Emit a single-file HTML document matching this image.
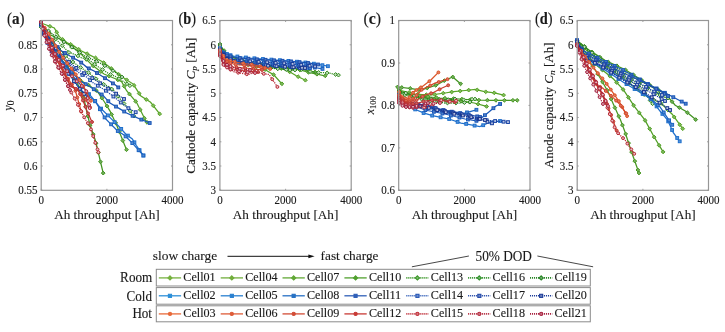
<!DOCTYPE html>
<html><head><meta charset="utf-8"><style>
html,body{margin:0;padding:0;background:#fff;}
body{width:725px;height:332px;overflow:hidden;}
svg{display:block;will-change:transform;}
text{font-family:"Liberation Serif",serif;fill:#1a1a1a;stroke:#1a1a1a;stroke-width:0.12px;}
</style></head><body>
<svg width="725" height="332" viewBox="0 0 725 332">
<rect width="725" height="332" fill="#fff"/>
<polyline points="41.0,23.0 54.3,28.0 59.1,36.4 65.9,42.2 73.0,45.4 80.0,50.2 89.9,55.1 95.7,58.0 104.1,62.8 112.5,69.4 121.6,76.6 133.2,84.1 140.6,95.7 150.6,102.3 159.7,113.9" fill="none" stroke="#58a426" stroke-width="1.25"/>
<path d="M41.0 21.1L42.9 23.0L41.0 24.9L39.1 23.0Z" fill="#81ba5c" stroke="#58a426" stroke-width="1.0"/>
<path d="M49.9 24.4L51.8 26.3L49.9 28.2L48.0 26.3Z" fill="#81ba5c" stroke="#58a426" stroke-width="1.0"/>
<path d="M56.7 30.3L58.6 32.2L56.7 34.1L54.8 32.2Z" fill="#81ba5c" stroke="#58a426" stroke-width="1.0"/>
<path d="M62.6 37.5L64.5 39.4L62.6 41.3L60.7 39.4Z" fill="#81ba5c" stroke="#58a426" stroke-width="1.0"/>
<path d="M70.6 42.4L72.5 44.3L70.6 46.2L68.7 44.3Z" fill="#81ba5c" stroke="#58a426" stroke-width="1.0"/>
<path d="M78.7 47.4L80.6 49.3L78.7 51.2L76.8 49.3Z" fill="#81ba5c" stroke="#58a426" stroke-width="1.0"/>
<path d="M87.1 51.8L89.0 53.7L87.1 55.6L85.2 53.7Z" fill="#81ba5c" stroke="#58a426" stroke-width="1.0"/>
<path d="M95.6 56.0L97.5 57.9L95.6 59.8L93.7 57.9Z" fill="#81ba5c" stroke="#58a426" stroke-width="1.0"/>
<path d="M103.8 60.8L105.7 62.7L103.8 64.6L101.9 62.7Z" fill="#81ba5c" stroke="#58a426" stroke-width="1.0"/>
<path d="M111.3 66.6L113.2 68.5L111.3 70.4L109.4 68.5Z" fill="#81ba5c" stroke="#58a426" stroke-width="1.0"/>
<path d="M118.8 72.5L120.7 74.4L118.8 76.3L116.9 74.4Z" fill="#81ba5c" stroke="#58a426" stroke-width="1.0"/>
<path d="M126.6 77.9L128.5 79.8L126.6 81.7L124.7 79.8Z" fill="#81ba5c" stroke="#58a426" stroke-width="1.0"/>
<path d="M134.1 83.5L136.0 85.4L134.1 87.3L132.2 85.4Z" fill="#81ba5c" stroke="#58a426" stroke-width="1.0"/>
<path d="M139.2 91.6L141.1 93.5L139.2 95.4L137.3 93.5Z" fill="#81ba5c" stroke="#58a426" stroke-width="1.0"/>
<path d="M146.3 97.6L148.2 99.5L146.3 101.4L144.4 99.5Z" fill="#81ba5c" stroke="#58a426" stroke-width="1.0"/>
<path d="M153.3 103.8L155.2 105.7L153.3 107.6L151.4 105.7Z" fill="#81ba5c" stroke="#58a426" stroke-width="1.0"/>
<path d="M159.7 112.0L161.6 113.9L159.7 115.8L157.8 113.9Z" fill="#81ba5c" stroke="#58a426" stroke-width="1.0"/>
<polyline points="41.0,26.0 50.0,35.0 58.0,38.0 70.0,45.0 80.0,53.0 92.0,65.0 104.0,74.0 116.0,79.0 121.6,81.6 126.6,90.7 136.5,102.3 145.6,120.5 147.0,122.3" fill="none" stroke="#509e24" stroke-width="1.25"/>
<path d="M41.0 24.1L42.9 26.0L41.0 27.9L39.1 26.0Z" fill="#7bb65a" stroke="#509e24" stroke-width="1.0"/>
<path d="M47.7 30.8L49.6 32.7L47.7 34.6L45.8 32.7Z" fill="#7bb65a" stroke="#509e24" stroke-width="1.0"/>
<path d="M55.9 35.3L57.8 37.2L55.9 39.1L54.0 37.2Z" fill="#7bb65a" stroke="#509e24" stroke-width="1.0"/>
<path d="M64.2 39.7L66.1 41.6L64.2 43.5L62.3 41.6Z" fill="#7bb65a" stroke="#509e24" stroke-width="1.0"/>
<path d="M72.2 44.9L74.1 46.8L72.2 48.7L70.3 46.8Z" fill="#7bb65a" stroke="#509e24" stroke-width="1.0"/>
<path d="M79.6 50.8L81.5 52.7L79.6 54.6L77.7 52.7Z" fill="#7bb65a" stroke="#509e24" stroke-width="1.0"/>
<path d="M86.4 57.5L88.3 59.4L86.4 61.3L84.5 59.4Z" fill="#7bb65a" stroke="#509e24" stroke-width="1.0"/>
<path d="M93.2 64.0L95.1 65.9L93.2 67.8L91.3 65.9Z" fill="#7bb65a" stroke="#509e24" stroke-width="1.0"/>
<path d="M100.8 69.7L102.7 71.6L100.8 73.5L98.9 71.6Z" fill="#7bb65a" stroke="#509e24" stroke-width="1.0"/>
<path d="M109.1 74.2L111.0 76.1L109.1 78.0L107.2 76.1Z" fill="#7bb65a" stroke="#509e24" stroke-width="1.0"/>
<path d="M117.9 78.0L119.8 79.9L117.9 81.8L116.0 79.9Z" fill="#7bb65a" stroke="#509e24" stroke-width="1.0"/>
<path d="M124.2 84.4L126.1 86.3L124.2 88.2L122.3 86.3Z" fill="#7bb65a" stroke="#509e24" stroke-width="1.0"/>
<path d="M129.5 92.2L131.4 94.1L129.5 96.0L127.6 94.1Z" fill="#7bb65a" stroke="#509e24" stroke-width="1.0"/>
<path d="M135.7 99.5L137.6 101.4L135.7 103.3L133.8 101.4Z" fill="#7bb65a" stroke="#509e24" stroke-width="1.0"/>
<path d="M140.2 107.8L142.1 109.7L140.2 111.6L138.3 109.7Z" fill="#7bb65a" stroke="#509e24" stroke-width="1.0"/>
<path d="M144.4 116.3L146.3 118.2L144.4 120.1L142.5 118.2Z" fill="#7bb65a" stroke="#509e24" stroke-width="1.0"/>
<path d="M147.0 120.4L148.9 122.3L147.0 124.2L145.1 122.3Z" fill="#7bb65a" stroke="#509e24" stroke-width="1.0"/>
<polyline points="41.0,27.0 50.0,42.0 58.0,55.0 68.0,68.0 80.0,80.0 90.0,86.0 97.2,91.2 104.5,102.0 109.9,110.8 116.6,124.9 126.5,149.7" fill="none" stroke="#489822" stroke-width="1.25"/>
<path d="M41.0 25.1L42.9 27.0L41.0 28.9L39.1 27.0Z" fill="#75b159" stroke="#489822" stroke-width="1.0"/>
<path d="M45.9 33.2L47.8 35.1L45.9 37.0L44.0 35.1Z" fill="#75b159" stroke="#489822" stroke-width="1.0"/>
<path d="M50.8 41.4L52.7 43.3L50.8 45.2L48.9 43.3Z" fill="#75b159" stroke="#489822" stroke-width="1.0"/>
<path d="M55.8 49.5L57.7 51.4L55.8 53.3L53.9 51.4Z" fill="#75b159" stroke="#489822" stroke-width="1.0"/>
<path d="M61.2 57.3L63.1 59.2L61.2 61.1L59.3 59.2Z" fill="#75b159" stroke="#489822" stroke-width="1.0"/>
<path d="M67.0 64.8L68.9 66.7L67.0 68.6L65.1 66.7Z" fill="#75b159" stroke="#489822" stroke-width="1.0"/>
<path d="M73.5 71.6L75.4 73.5L73.5 75.4L71.6 73.5Z" fill="#75b159" stroke="#489822" stroke-width="1.0"/>
<path d="M80.3 78.3L82.2 80.2L80.3 82.1L78.4 80.2Z" fill="#75b159" stroke="#489822" stroke-width="1.0"/>
<path d="M88.5 83.2L90.4 85.1L88.5 87.0L86.6 85.1Z" fill="#75b159" stroke="#489822" stroke-width="1.0"/>
<path d="M96.2 88.6L98.1 90.5L96.2 92.4L94.3 90.5Z" fill="#75b159" stroke="#489822" stroke-width="1.0"/>
<path d="M101.9 96.2L103.8 98.1L101.9 100.0L100.0 98.1Z" fill="#75b159" stroke="#489822" stroke-width="1.0"/>
<path d="M107.0 104.2L108.9 106.1L107.0 108.0L105.1 106.1Z" fill="#75b159" stroke="#489822" stroke-width="1.0"/>
<path d="M111.6 112.5L113.5 114.4L111.6 116.3L109.7 114.4Z" fill="#75b159" stroke="#489822" stroke-width="1.0"/>
<path d="M115.7 121.1L117.6 123.0L115.7 124.9L113.8 123.0Z" fill="#75b159" stroke="#489822" stroke-width="1.0"/>
<path d="M119.3 129.8L121.2 131.7L119.3 133.6L117.4 131.7Z" fill="#75b159" stroke="#489822" stroke-width="1.0"/>
<path d="M122.8 138.7L124.7 140.6L122.8 142.5L120.9 140.6Z" fill="#75b159" stroke="#489822" stroke-width="1.0"/>
<path d="M126.5 147.8L128.4 149.7L126.5 151.6L124.6 149.7Z" fill="#75b159" stroke="#489822" stroke-width="1.0"/>
<polyline points="41.0,24.0 48.0,36.0 56.0,48.0 66.5,62.7 70.5,73.6 79.6,87.1 84.1,99.2 86.4,110.0 90.0,125.0 95.5,140.8 103.2,173.1" fill="none" stroke="#409220" stroke-width="1.25"/>
<path d="M41.0 22.1L42.9 24.0L41.0 25.9L39.1 24.0Z" fill="#6fad57" stroke="#409220" stroke-width="1.0"/>
<path d="M45.8 30.3L47.7 32.2L45.8 34.1L43.9 32.2Z" fill="#6fad57" stroke="#409220" stroke-width="1.0"/>
<path d="M50.8 38.3L52.7 40.2L50.8 42.1L48.9 40.2Z" fill="#6fad57" stroke="#409220" stroke-width="1.0"/>
<path d="M56.1 46.3L58.0 48.2L56.1 50.1L54.2 48.2Z" fill="#6fad57" stroke="#409220" stroke-width="1.0"/>
<path d="M61.6 54.0L63.5 55.9L61.6 57.8L59.7 55.9Z" fill="#6fad57" stroke="#409220" stroke-width="1.0"/>
<path d="M66.9 61.9L68.8 63.8L66.9 65.7L65.0 63.8Z" fill="#6fad57" stroke="#409220" stroke-width="1.0"/>
<path d="M70.2 70.8L72.1 72.7L70.2 74.6L68.3 72.7Z" fill="#6fad57" stroke="#409220" stroke-width="1.0"/>
<path d="M75.3 78.8L77.2 80.7L75.3 82.6L73.4 80.7Z" fill="#6fad57" stroke="#409220" stroke-width="1.0"/>
<path d="M80.2 86.8L82.1 88.7L80.2 90.6L78.3 88.7Z" fill="#6fad57" stroke="#409220" stroke-width="1.0"/>
<path d="M83.5 95.7L85.4 97.6L83.5 99.5L81.6 97.6Z" fill="#6fad57" stroke="#409220" stroke-width="1.0"/>
<path d="M85.7 104.9L87.6 106.8L85.7 108.7L83.8 106.8Z" fill="#6fad57" stroke="#409220" stroke-width="1.0"/>
<path d="M87.9 114.2L89.8 116.1L87.9 118.0L86.0 116.1Z" fill="#6fad57" stroke="#409220" stroke-width="1.0"/>
<path d="M90.1 123.4L92.0 125.3L90.1 127.2L88.2 125.3Z" fill="#6fad57" stroke="#409220" stroke-width="1.0"/>
<path d="M93.2 132.4L95.1 134.3L93.2 136.2L91.3 134.3Z" fill="#6fad57" stroke="#409220" stroke-width="1.0"/>
<path d="M96.1 141.4L98.0 143.3L96.1 145.2L94.2 143.3Z" fill="#6fad57" stroke="#409220" stroke-width="1.0"/>
<path d="M98.3 150.7L100.2 152.6L98.3 154.5L96.4 152.6Z" fill="#6fad57" stroke="#409220" stroke-width="1.0"/>
<path d="M100.5 159.9L102.4 161.8L100.5 163.7L98.6 161.8Z" fill="#6fad57" stroke="#409220" stroke-width="1.0"/>
<path d="M103.2 171.2L105.1 173.1L103.2 175.0L101.3 173.1Z" fill="#6fad57" stroke="#409220" stroke-width="1.0"/>
<polyline points="41.0,27.0 51.0,34.0 63.5,47.0 69.0,52.4 76.2,55.0 81.6,57.8 89.0,59.8 95.7,65.2 102.3,69.4 108.9,73.7 115.8,76.6 129.9,85.7" fill="none" stroke="#328c1e" stroke-width="1.25" stroke-dasharray="1.2 1"/>
<path d="M41.0 25.1L42.9 27.0L41.0 28.9L39.1 27.0Z" fill="#c1dcbb" stroke="#328c1e" stroke-width="1.0"/>
<path d="M48.8 30.5L50.7 32.4L48.8 34.3L46.9 32.4Z" fill="#c1dcbb" stroke="#328c1e" stroke-width="1.0"/>
<path d="M55.7 37.0L57.6 38.9L55.7 40.8L53.8 38.9Z" fill="#c1dcbb" stroke="#328c1e" stroke-width="1.0"/>
<path d="M62.3 43.8L64.2 45.7L62.3 47.6L60.4 45.7Z" fill="#c1dcbb" stroke="#328c1e" stroke-width="1.0"/>
<path d="M69.0 50.5L70.9 52.4L69.0 54.3L67.1 52.4Z" fill="#c1dcbb" stroke="#328c1e" stroke-width="1.0"/>
<path d="M77.9 54.0L79.8 55.9L77.9 57.8L76.0 55.9Z" fill="#c1dcbb" stroke="#328c1e" stroke-width="1.0"/>
<path d="M86.7 57.3L88.6 59.2L86.7 61.1L84.8 59.2Z" fill="#c1dcbb" stroke="#328c1e" stroke-width="1.0"/>
<path d="M94.6 62.4L96.5 64.3L94.6 66.2L92.7 64.3Z" fill="#c1dcbb" stroke="#328c1e" stroke-width="1.0"/>
<path d="M102.5 67.6L104.4 69.5L102.5 71.4L100.6 69.5Z" fill="#c1dcbb" stroke="#328c1e" stroke-width="1.0"/>
<path d="M110.6 72.5L112.5 74.4L110.6 76.3L108.7 74.4Z" fill="#c1dcbb" stroke="#328c1e" stroke-width="1.0"/>
<path d="M119.0 76.8L120.9 78.7L119.0 80.6L117.1 78.7Z" fill="#c1dcbb" stroke="#328c1e" stroke-width="1.0"/>
<path d="M127.0 81.9L128.9 83.8L127.0 85.7L125.1 83.8Z" fill="#c1dcbb" stroke="#328c1e" stroke-width="1.0"/>
<path d="M129.9 83.8L131.8 85.7L129.9 87.6L128.0 85.7Z" fill="#c1dcbb" stroke="#328c1e" stroke-width="1.0"/>
<polyline points="41.0,27.0 50.0,38.0 60.0,50.0 70.0,60.0 80.0,67.0 88.4,72.5 95.7,78.5 102.9,83.9 108.9,86.9 113.7,90.5 116.6,94.8 122.4,101.5 129.9,110.6 133.9,116.1" fill="none" stroke="#2a841e" stroke-width="1.25" stroke-dasharray="1.2 1"/>
<path d="M41.0 25.1L42.9 27.0L41.0 28.9L39.1 27.0Z" fill="#bfdabb" stroke="#2a841e" stroke-width="1.0"/>
<path d="M47.0 32.5L48.9 34.4L47.0 36.3L45.1 34.4Z" fill="#bfdabb" stroke="#2a841e" stroke-width="1.0"/>
<path d="M53.1 39.8L55.0 41.7L53.1 43.6L51.2 41.7Z" fill="#bfdabb" stroke="#2a841e" stroke-width="1.0"/>
<path d="M59.1 47.1L61.0 49.0L59.1 50.9L57.2 49.0Z" fill="#bfdabb" stroke="#2a841e" stroke-width="1.0"/>
<path d="M65.8 53.9L67.7 55.8L65.8 57.7L63.9 55.8Z" fill="#bfdabb" stroke="#2a841e" stroke-width="1.0"/>
<path d="M72.9 60.1L74.8 62.0L72.9 63.9L71.0 62.0Z" fill="#bfdabb" stroke="#2a841e" stroke-width="1.0"/>
<path d="M80.7 65.5L82.6 67.4L80.7 69.3L78.8 67.4Z" fill="#bfdabb" stroke="#2a841e" stroke-width="1.0"/>
<path d="M88.6 70.8L90.5 72.7L88.6 74.6L86.7 72.7Z" fill="#bfdabb" stroke="#2a841e" stroke-width="1.0"/>
<path d="M96.0 76.8L97.9 78.7L96.0 80.6L94.1 78.7Z" fill="#bfdabb" stroke="#2a841e" stroke-width="1.0"/>
<path d="M103.6 82.4L105.5 84.3L103.6 86.2L101.7 84.3Z" fill="#bfdabb" stroke="#2a841e" stroke-width="1.0"/>
<path d="M111.8 87.2L113.7 89.1L111.8 91.0L109.9 89.1Z" fill="#bfdabb" stroke="#2a841e" stroke-width="1.0"/>
<path d="M117.9 94.4L119.8 96.3L117.9 98.2L116.0 96.3Z" fill="#bfdabb" stroke="#2a841e" stroke-width="1.0"/>
<path d="M124.0 101.6L125.9 103.5L124.0 105.4L122.1 103.5Z" fill="#bfdabb" stroke="#2a841e" stroke-width="1.0"/>
<path d="M130.1 108.9L132.0 110.8L130.1 112.7L128.2 110.8Z" fill="#bfdabb" stroke="#2a841e" stroke-width="1.0"/>
<path d="M133.9 114.2L135.8 116.1L133.9 118.0L132.0 116.1Z" fill="#bfdabb" stroke="#2a841e" stroke-width="1.0"/>
<polyline points="41.0,25.0 55.0,36.0 70.0,46.0 85.0,56.0 100.0,63.0 112.0,70.0 122.0,77.0" fill="none" stroke="#247c1c" stroke-width="1.25" stroke-dasharray="1.2 1"/>
<path d="M41.0 23.1L42.9 25.0L41.0 26.9L39.1 25.0Z" fill="#bdd7ba" stroke="#247c1c" stroke-width="1.0"/>
<path d="M48.5 29.0L50.4 30.9L48.5 32.8L46.6 30.9Z" fill="#bdd7ba" stroke="#247c1c" stroke-width="1.0"/>
<path d="M56.0 34.8L57.9 36.7L56.0 38.6L54.1 36.7Z" fill="#bdd7ba" stroke="#247c1c" stroke-width="1.0"/>
<path d="M63.9 40.0L65.8 41.9L63.9 43.8L62.0 41.9Z" fill="#bdd7ba" stroke="#247c1c" stroke-width="1.0"/>
<path d="M71.8 45.3L73.7 47.2L71.8 49.1L69.9 47.2Z" fill="#bdd7ba" stroke="#247c1c" stroke-width="1.0"/>
<path d="M79.7 50.6L81.6 52.5L79.7 54.4L77.8 52.5Z" fill="#bdd7ba" stroke="#247c1c" stroke-width="1.0"/>
<path d="M87.8 55.4L89.7 57.3L87.8 59.2L85.9 57.3Z" fill="#bdd7ba" stroke="#247c1c" stroke-width="1.0"/>
<path d="M96.5 59.4L98.4 61.3L96.5 63.2L94.6 61.3Z" fill="#bdd7ba" stroke="#247c1c" stroke-width="1.0"/>
<path d="M104.8 63.9L106.7 65.8L104.8 67.7L102.9 65.8Z" fill="#bdd7ba" stroke="#247c1c" stroke-width="1.0"/>
<path d="M113.0 68.8L114.9 70.7L113.0 72.6L111.1 70.7Z" fill="#bdd7ba" stroke="#247c1c" stroke-width="1.0"/>
<path d="M122.0 75.1L123.9 77.0L122.0 78.9L120.1 77.0Z" fill="#bdd7ba" stroke="#247c1c" stroke-width="1.0"/>
<polyline points="41.0,24.0 47.0,38.0 55.0,52.0 62.0,62.0 72.0,75.0 82.6,87.1 91.6,96.9 100.0,107.5 111.6,119.1 119.0,126.5 125.7,134.0 132.3,138.9 136.4,145.6 143.4,155.5" fill="none" stroke="#1f70cc" stroke-width="1.25"/>
<rect x="39.6" y="22.6" width="2.8" height="2.8" fill="#5793d8" stroke="#1f70cc" stroke-width="1.0"/>
<rect x="43.3" y="31.3" width="2.8" height="2.8" fill="#5793d8" stroke="#1f70cc" stroke-width="1.0"/>
<rect x="47.5" y="39.9" width="2.8" height="2.8" fill="#5793d8" stroke="#1f70cc" stroke-width="1.0"/>
<rect x="52.2" y="48.1" width="2.8" height="2.8" fill="#5793d8" stroke="#1f70cc" stroke-width="1.0"/>
<rect x="57.4" y="56.0" width="2.8" height="2.8" fill="#5793d8" stroke="#1f70cc" stroke-width="1.0"/>
<rect x="63.0" y="63.7" width="2.8" height="2.8" fill="#5793d8" stroke="#1f70cc" stroke-width="1.0"/>
<rect x="68.8" y="71.3" width="2.8" height="2.8" fill="#5793d8" stroke="#1f70cc" stroke-width="1.0"/>
<rect x="74.9" y="78.5" width="2.8" height="2.8" fill="#5793d8" stroke="#1f70cc" stroke-width="1.0"/>
<rect x="81.2" y="85.7" width="2.8" height="2.8" fill="#5793d8" stroke="#1f70cc" stroke-width="1.0"/>
<rect x="87.6" y="92.7" width="2.8" height="2.8" fill="#5793d8" stroke="#1f70cc" stroke-width="1.0"/>
<rect x="93.7" y="99.9" width="2.8" height="2.8" fill="#5793d8" stroke="#1f70cc" stroke-width="1.0"/>
<rect x="99.7" y="107.2" width="2.8" height="2.8" fill="#5793d8" stroke="#1f70cc" stroke-width="1.0"/>
<rect x="106.5" y="114.0" width="2.8" height="2.8" fill="#5793d8" stroke="#1f70cc" stroke-width="1.0"/>
<rect x="113.2" y="120.7" width="2.8" height="2.8" fill="#5793d8" stroke="#1f70cc" stroke-width="1.0"/>
<rect x="119.8" y="127.5" width="2.8" height="2.8" fill="#5793d8" stroke="#1f70cc" stroke-width="1.0"/>
<rect x="126.5" y="134.2" width="2.8" height="2.8" fill="#5793d8" stroke="#1f70cc" stroke-width="1.0"/>
<rect x="133.0" y="140.9" width="2.8" height="2.8" fill="#5793d8" stroke="#1f70cc" stroke-width="1.0"/>
<rect x="138.2" y="148.8" width="2.8" height="2.8" fill="#5793d8" stroke="#1f70cc" stroke-width="1.0"/>
<rect x="142.0" y="154.1" width="2.8" height="2.8" fill="#5793d8" stroke="#1f70cc" stroke-width="1.0"/>
<polyline points="41.0,25.0 46.0,40.0 52.0,52.0 60.0,62.0 70.0,75.0 80.7,90.0 95.1,100.8 105.0,118.2 117.4,130.7 124.8,135.6 132.3,143.1 139.7,151.4 143.4,155.5" fill="none" stroke="#1c64c2" stroke-width="1.25"/>
<rect x="39.6" y="23.6" width="2.8" height="2.8" fill="#548ad1" stroke="#1c64c2" stroke-width="1.0"/>
<rect x="42.6" y="32.6" width="2.8" height="2.8" fill="#548ad1" stroke="#1c64c2" stroke-width="1.0"/>
<rect x="46.0" y="41.5" width="2.8" height="2.8" fill="#548ad1" stroke="#1c64c2" stroke-width="1.0"/>
<rect x="50.3" y="49.9" width="2.8" height="2.8" fill="#548ad1" stroke="#1c64c2" stroke-width="1.0"/>
<rect x="56.1" y="57.4" width="2.8" height="2.8" fill="#548ad1" stroke="#1c64c2" stroke-width="1.0"/>
<rect x="61.9" y="64.9" width="2.8" height="2.8" fill="#548ad1" stroke="#1c64c2" stroke-width="1.0"/>
<rect x="67.7" y="72.5" width="2.8" height="2.8" fill="#548ad1" stroke="#1c64c2" stroke-width="1.0"/>
<rect x="73.3" y="80.2" width="2.8" height="2.8" fill="#548ad1" stroke="#1c64c2" stroke-width="1.0"/>
<rect x="78.8" y="87.9" width="2.8" height="2.8" fill="#548ad1" stroke="#1c64c2" stroke-width="1.0"/>
<rect x="86.2" y="93.8" width="2.8" height="2.8" fill="#548ad1" stroke="#1c64c2" stroke-width="1.0"/>
<rect x="93.8" y="99.5" width="2.8" height="2.8" fill="#548ad1" stroke="#1c64c2" stroke-width="1.0"/>
<rect x="98.5" y="107.8" width="2.8" height="2.8" fill="#548ad1" stroke="#1c64c2" stroke-width="1.0"/>
<rect x="103.2" y="116.0" width="2.8" height="2.8" fill="#548ad1" stroke="#1c64c2" stroke-width="1.0"/>
<rect x="109.7" y="122.9" width="2.8" height="2.8" fill="#548ad1" stroke="#1c64c2" stroke-width="1.0"/>
<rect x="116.4" y="129.6" width="2.8" height="2.8" fill="#548ad1" stroke="#1c64c2" stroke-width="1.0"/>
<rect x="124.2" y="135.0" width="2.8" height="2.8" fill="#548ad1" stroke="#1c64c2" stroke-width="1.0"/>
<rect x="130.9" y="141.7" width="2.8" height="2.8" fill="#548ad1" stroke="#1c64c2" stroke-width="1.0"/>
<rect x="137.2" y="148.8" width="2.8" height="2.8" fill="#548ad1" stroke="#1c64c2" stroke-width="1.0"/>
<rect x="142.0" y="154.1" width="2.8" height="2.8" fill="#548ad1" stroke="#1c64c2" stroke-width="1.0"/>
<polyline points="41.0,24.0 50.0,42.0 60.0,58.0 70.0,70.0 80.0,80.9 88.4,85.7 95.7,90.5 102.9,95.3 110.0,103.1 119.9,108.9 126.6,113.0 134.0,116.4 141.5,119.7 149.7,123.0" fill="none" stroke="#1a58b8" stroke-width="1.25"/>
<rect x="39.6" y="22.6" width="2.8" height="2.8" fill="#5381c9" stroke="#1a58b8" stroke-width="1.0"/>
<rect x="43.8" y="31.1" width="2.8" height="2.8" fill="#5381c9" stroke="#1a58b8" stroke-width="1.0"/>
<rect x="48.1" y="39.6" width="2.8" height="2.8" fill="#5381c9" stroke="#1a58b8" stroke-width="1.0"/>
<rect x="53.0" y="47.7" width="2.8" height="2.8" fill="#5381c9" stroke="#1a58b8" stroke-width="1.0"/>
<rect x="58.1" y="55.8" width="2.8" height="2.8" fill="#5381c9" stroke="#1a58b8" stroke-width="1.0"/>
<rect x="64.0" y="63.1" width="2.8" height="2.8" fill="#5381c9" stroke="#1a58b8" stroke-width="1.0"/>
<rect x="70.2" y="70.4" width="2.8" height="2.8" fill="#5381c9" stroke="#1a58b8" stroke-width="1.0"/>
<rect x="76.6" y="77.4" width="2.8" height="2.8" fill="#5381c9" stroke="#1a58b8" stroke-width="1.0"/>
<rect x="84.3" y="82.8" width="2.8" height="2.8" fill="#5381c9" stroke="#1a58b8" stroke-width="1.0"/>
<rect x="92.4" y="87.8" width="2.8" height="2.8" fill="#5381c9" stroke="#1a58b8" stroke-width="1.0"/>
<rect x="100.3" y="93.1" width="2.8" height="2.8" fill="#5381c9" stroke="#1a58b8" stroke-width="1.0"/>
<rect x="106.9" y="99.8" width="2.8" height="2.8" fill="#5381c9" stroke="#1a58b8" stroke-width="1.0"/>
<rect x="114.6" y="105.2" width="2.8" height="2.8" fill="#5381c9" stroke="#1a58b8" stroke-width="1.0"/>
<rect x="122.8" y="110.1" width="2.8" height="2.8" fill="#5381c9" stroke="#1a58b8" stroke-width="1.0"/>
<rect x="131.2" y="114.4" width="2.8" height="2.8" fill="#5381c9" stroke="#1a58b8" stroke-width="1.0"/>
<rect x="139.9" y="118.2" width="2.8" height="2.8" fill="#5381c9" stroke="#1a58b8" stroke-width="1.0"/>
<rect x="148.3" y="121.6" width="2.8" height="2.8" fill="#5381c9" stroke="#1a58b8" stroke-width="1.0"/>
<polyline points="41.0,24.0 50.0,38.0 60.0,50.0 70.0,56.0 80.0,61.6 87.2,67.6 94.5,71.3 101.7,76.1 108.3,80.3 115.5,85.1 118.3,87.4" fill="none" stroke="#1a4eae" stroke-width="1.25"/>
<rect x="39.6" y="22.6" width="2.8" height="2.8" fill="#537ac2" stroke="#1a4eae" stroke-width="1.0"/>
<rect x="44.7" y="30.6" width="2.8" height="2.8" fill="#537ac2" stroke="#1a4eae" stroke-width="1.0"/>
<rect x="50.1" y="38.4" width="2.8" height="2.8" fill="#537ac2" stroke="#1a4eae" stroke-width="1.0"/>
<rect x="56.2" y="45.7" width="2.8" height="2.8" fill="#537ac2" stroke="#1a4eae" stroke-width="1.0"/>
<rect x="63.5" y="51.6" width="2.8" height="2.8" fill="#537ac2" stroke="#1a4eae" stroke-width="1.0"/>
<rect x="71.7" y="56.3" width="2.8" height="2.8" fill="#537ac2" stroke="#1a4eae" stroke-width="1.0"/>
<rect x="79.8" y="61.2" width="2.8" height="2.8" fill="#537ac2" stroke="#1a4eae" stroke-width="1.0"/>
<rect x="87.4" y="67.0" width="2.8" height="2.8" fill="#537ac2" stroke="#1a4eae" stroke-width="1.0"/>
<rect x="95.6" y="71.6" width="2.8" height="2.8" fill="#537ac2" stroke="#1a4eae" stroke-width="1.0"/>
<rect x="103.6" y="76.8" width="2.8" height="2.8" fill="#537ac2" stroke="#1a4eae" stroke-width="1.0"/>
<rect x="111.5" y="82.0" width="2.8" height="2.8" fill="#537ac2" stroke="#1a4eae" stroke-width="1.0"/>
<rect x="116.9" y="86.0" width="2.8" height="2.8" fill="#537ac2" stroke="#1a4eae" stroke-width="1.0"/>
<polyline points="41.0,24.0 50.0,40.0 60.0,55.0 70.0,65.0 80.0,73.7 87.2,77.3 92.0,82.1 106.5,91.1 114.0,97.0 121.6,103.1 128.2,108.1 135.7,112.2" fill="none" stroke="#1c46a6" stroke-width="1.25" stroke-dasharray="1.2 1"/>
<rect x="39.6" y="22.6" width="2.8" height="2.8" fill="#bac7e4" stroke="#1c46a6" stroke-width="1.0"/>
<rect x="44.3" y="30.9" width="2.8" height="2.8" fill="#bac7e4" stroke="#1c46a6" stroke-width="1.0"/>
<rect x="49.0" y="39.1" width="2.8" height="2.8" fill="#bac7e4" stroke="#1c46a6" stroke-width="1.0"/>
<rect x="54.2" y="47.0" width="2.8" height="2.8" fill="#bac7e4" stroke="#1c46a6" stroke-width="1.0"/>
<rect x="59.7" y="54.7" width="2.8" height="2.8" fill="#bac7e4" stroke="#1c46a6" stroke-width="1.0"/>
<rect x="66.5" y="61.5" width="2.8" height="2.8" fill="#bac7e4" stroke="#1c46a6" stroke-width="1.0"/>
<rect x="73.5" y="67.8" width="2.8" height="2.8" fill="#bac7e4" stroke="#1c46a6" stroke-width="1.0"/>
<rect x="81.0" y="73.5" width="2.8" height="2.8" fill="#bac7e4" stroke="#1c46a6" stroke-width="1.0"/>
<rect x="88.7" y="78.8" width="2.8" height="2.8" fill="#bac7e4" stroke="#1c46a6" stroke-width="1.0"/>
<rect x="96.4" y="84.3" width="2.8" height="2.8" fill="#bac7e4" stroke="#1c46a6" stroke-width="1.0"/>
<rect x="104.5" y="89.3" width="2.8" height="2.8" fill="#bac7e4" stroke="#1c46a6" stroke-width="1.0"/>
<rect x="112.0" y="95.1" width="2.8" height="2.8" fill="#bac7e4" stroke="#1c46a6" stroke-width="1.0"/>
<rect x="119.4" y="101.1" width="2.8" height="2.8" fill="#bac7e4" stroke="#1c46a6" stroke-width="1.0"/>
<rect x="127.0" y="106.8" width="2.8" height="2.8" fill="#bac7e4" stroke="#1c46a6" stroke-width="1.0"/>
<rect x="134.3" y="110.8" width="2.8" height="2.8" fill="#bac7e4" stroke="#1c46a6" stroke-width="1.0"/>
<polyline points="41.0,24.0 50.0,40.0 60.0,54.0 70.0,63.0 79.6,70.5 90.1,76.6 99.2,82.6 108.2,88.6 115.0,93.0 124.0,99.0" fill="none" stroke="#1a3e9c" stroke-width="1.25" stroke-dasharray="1.2 1"/>
<rect x="39.6" y="22.6" width="2.8" height="2.8" fill="#bac5e1" stroke="#1a3e9c" stroke-width="1.0"/>
<rect x="44.3" y="30.9" width="2.8" height="2.8" fill="#bac5e1" stroke="#1a3e9c" stroke-width="1.0"/>
<rect x="49.0" y="39.1" width="2.8" height="2.8" fill="#bac5e1" stroke="#1a3e9c" stroke-width="1.0"/>
<rect x="54.5" y="46.9" width="2.8" height="2.8" fill="#bac5e1" stroke="#1a3e9c" stroke-width="1.0"/>
<rect x="60.4" y="54.2" width="2.8" height="2.8" fill="#bac5e1" stroke="#1a3e9c" stroke-width="1.0"/>
<rect x="67.5" y="60.6" width="2.8" height="2.8" fill="#bac5e1" stroke="#1a3e9c" stroke-width="1.0"/>
<rect x="74.9" y="66.5" width="2.8" height="2.8" fill="#bac5e1" stroke="#1a3e9c" stroke-width="1.0"/>
<rect x="82.8" y="71.8" width="2.8" height="2.8" fill="#bac5e1" stroke="#1a3e9c" stroke-width="1.0"/>
<rect x="90.9" y="76.7" width="2.8" height="2.8" fill="#bac5e1" stroke="#1a3e9c" stroke-width="1.0"/>
<rect x="98.8" y="81.9" width="2.8" height="2.8" fill="#bac5e1" stroke="#1a3e9c" stroke-width="1.0"/>
<rect x="106.8" y="87.2" width="2.8" height="2.8" fill="#bac5e1" stroke="#1a3e9c" stroke-width="1.0"/>
<rect x="114.7" y="92.3" width="2.8" height="2.8" fill="#bac5e1" stroke="#1a3e9c" stroke-width="1.0"/>
<rect x="122.6" y="97.6" width="2.8" height="2.8" fill="#bac5e1" stroke="#1a3e9c" stroke-width="1.0"/>
<polyline points="41.0,24.0 46.0,38.0 52.0,50.0 60.0,62.0 68.0,73.0 76.0,84.0 84.0,94.0" fill="none" stroke="#193690" stroke-width="1.25" stroke-dasharray="1.2 1"/>
<rect x="39.6" y="22.6" width="2.8" height="2.8" fill="#bac2dd" stroke="#193690" stroke-width="1.0"/>
<rect x="42.8" y="31.5" width="2.8" height="2.8" fill="#bac2dd" stroke="#193690" stroke-width="1.0"/>
<rect x="46.4" y="40.3" width="2.8" height="2.8" fill="#bac2dd" stroke="#193690" stroke-width="1.0"/>
<rect x="50.7" y="48.8" width="2.8" height="2.8" fill="#bac2dd" stroke="#193690" stroke-width="1.0"/>
<rect x="56.0" y="56.7" width="2.8" height="2.8" fill="#bac2dd" stroke="#193690" stroke-width="1.0"/>
<rect x="61.4" y="64.5" width="2.8" height="2.8" fill="#bac2dd" stroke="#193690" stroke-width="1.0"/>
<rect x="67.0" y="72.2" width="2.8" height="2.8" fill="#bac2dd" stroke="#193690" stroke-width="1.0"/>
<rect x="72.6" y="79.8" width="2.8" height="2.8" fill="#bac2dd" stroke="#193690" stroke-width="1.0"/>
<rect x="78.4" y="87.4" width="2.8" height="2.8" fill="#bac2dd" stroke="#193690" stroke-width="1.0"/>
<rect x="82.6" y="92.6" width="2.8" height="2.8" fill="#bac2dd" stroke="#193690" stroke-width="1.0"/>
<polyline points="41.0,22.0 50.0,36.0 58.0,50.0 64.5,60.0 74.3,72.0 83.3,86.4 90.9,100.8" fill="none" stroke="#dc5428" stroke-width="1.25"/>
<circle cx="41.0" cy="22.0" r="1.45" fill="#e47e5d" stroke="#dc5428" stroke-width="1.0"/>
<circle cx="44.8" cy="27.9" r="1.45" fill="#e47e5d" stroke="#dc5428" stroke-width="1.0"/>
<circle cx="48.6" cy="33.8" r="1.45" fill="#e47e5d" stroke="#dc5428" stroke-width="1.0"/>
<circle cx="52.2" cy="39.8" r="1.45" fill="#e47e5d" stroke="#dc5428" stroke-width="1.0"/>
<circle cx="55.6" cy="45.9" r="1.45" fill="#e47e5d" stroke="#dc5428" stroke-width="1.0"/>
<circle cx="59.2" cy="51.9" r="1.45" fill="#e47e5d" stroke="#dc5428" stroke-width="1.0"/>
<circle cx="63.0" cy="57.7" r="1.45" fill="#e47e5d" stroke="#dc5428" stroke-width="1.0"/>
<circle cx="67.2" cy="63.3" r="1.45" fill="#e47e5d" stroke="#dc5428" stroke-width="1.0"/>
<circle cx="71.7" cy="68.8" r="1.45" fill="#e47e5d" stroke="#dc5428" stroke-width="1.0"/>
<circle cx="75.8" cy="74.4" r="1.45" fill="#e47e5d" stroke="#dc5428" stroke-width="1.0"/>
<circle cx="79.5" cy="80.3" r="1.45" fill="#e47e5d" stroke="#dc5428" stroke-width="1.0"/>
<circle cx="83.2" cy="86.3" r="1.45" fill="#e47e5d" stroke="#dc5428" stroke-width="1.0"/>
<circle cx="86.5" cy="92.4" r="1.45" fill="#e47e5d" stroke="#dc5428" stroke-width="1.0"/>
<circle cx="90.9" cy="100.8" r="1.45" fill="#e47e5d" stroke="#dc5428" stroke-width="1.0"/>
<polyline points="41.0,22.0 47.0,38.0 55.0,55.0 64.0,72.0 75.2,90.0 81.3,111.7" fill="none" stroke="#d4482a" stroke-width="1.25"/>
<circle cx="41.0" cy="22.0" r="1.45" fill="#de755f" stroke="#d4482a" stroke-width="1.0"/>
<circle cx="43.5" cy="28.6" r="1.45" fill="#de755f" stroke="#d4482a" stroke-width="1.0"/>
<circle cx="45.9" cy="35.1" r="1.45" fill="#de755f" stroke="#d4482a" stroke-width="1.0"/>
<circle cx="48.7" cy="41.5" r="1.45" fill="#de755f" stroke="#d4482a" stroke-width="1.0"/>
<circle cx="51.6" cy="47.9" r="1.45" fill="#de755f" stroke="#d4482a" stroke-width="1.0"/>
<circle cx="54.6" cy="54.2" r="1.45" fill="#de755f" stroke="#d4482a" stroke-width="1.0"/>
<circle cx="57.9" cy="60.4" r="1.45" fill="#de755f" stroke="#d4482a" stroke-width="1.0"/>
<circle cx="61.1" cy="66.6" r="1.45" fill="#de755f" stroke="#d4482a" stroke-width="1.0"/>
<circle cx="64.5" cy="72.8" r="1.45" fill="#de755f" stroke="#d4482a" stroke-width="1.0"/>
<circle cx="68.2" cy="78.7" r="1.45" fill="#de755f" stroke="#d4482a" stroke-width="1.0"/>
<circle cx="71.9" cy="84.6" r="1.45" fill="#de755f" stroke="#d4482a" stroke-width="1.0"/>
<circle cx="75.4" cy="90.7" r="1.45" fill="#de755f" stroke="#d4482a" stroke-width="1.0"/>
<circle cx="77.3" cy="97.4" r="1.45" fill="#de755f" stroke="#d4482a" stroke-width="1.0"/>
<circle cx="79.2" cy="104.1" r="1.45" fill="#de755f" stroke="#d4482a" stroke-width="1.0"/>
<circle cx="81.3" cy="111.7" r="1.45" fill="#de755f" stroke="#d4482a" stroke-width="1.0"/>
<polyline points="41.0,22.0 47.0,37.0 53.0,50.0 60.0,62.0 69.0,82.6 78.1,90.9 85.6,99.2 90.1,107.4" fill="none" stroke="#c83c2c" stroke-width="1.25"/>
<circle cx="41.0" cy="22.0" r="1.45" fill="#d56c60" stroke="#c83c2c" stroke-width="1.0"/>
<circle cx="43.6" cy="28.5" r="1.45" fill="#d56c60" stroke="#c83c2c" stroke-width="1.0"/>
<circle cx="46.2" cy="35.0" r="1.45" fill="#d56c60" stroke="#c83c2c" stroke-width="1.0"/>
<circle cx="49.0" cy="41.4" r="1.45" fill="#d56c60" stroke="#c83c2c" stroke-width="1.0"/>
<circle cx="52.0" cy="47.8" r="1.45" fill="#d56c60" stroke="#c83c2c" stroke-width="1.0"/>
<circle cx="55.3" cy="53.9" r="1.45" fill="#d56c60" stroke="#c83c2c" stroke-width="1.0"/>
<circle cx="58.8" cy="60.0" r="1.45" fill="#d56c60" stroke="#c83c2c" stroke-width="1.0"/>
<circle cx="61.9" cy="66.2" r="1.45" fill="#d56c60" stroke="#c83c2c" stroke-width="1.0"/>
<circle cx="64.7" cy="72.7" r="1.45" fill="#d56c60" stroke="#c83c2c" stroke-width="1.0"/>
<circle cx="67.5" cy="79.1" r="1.45" fill="#d56c60" stroke="#c83c2c" stroke-width="1.0"/>
<circle cx="71.3" cy="84.7" r="1.45" fill="#d56c60" stroke="#c83c2c" stroke-width="1.0"/>
<circle cx="76.5" cy="89.4" r="1.45" fill="#d56c60" stroke="#c83c2c" stroke-width="1.0"/>
<circle cx="81.3" cy="94.5" r="1.45" fill="#d56c60" stroke="#c83c2c" stroke-width="1.0"/>
<circle cx="85.9" cy="99.8" r="1.45" fill="#d56c60" stroke="#c83c2c" stroke-width="1.0"/>
<circle cx="90.1" cy="107.4" r="1.45" fill="#d56c60" stroke="#c83c2c" stroke-width="1.0"/>
<polyline points="41.0,22.0 46.0,36.0 52.0,52.0 60.0,66.0 70.5,86.4 78.3,90.0 83.1,100.8 87.3,111.7 92.0,122.0" fill="none" stroke="#bc302e" stroke-width="1.25"/>
<circle cx="41.0" cy="22.0" r="1.45" fill="#cc6362" stroke="#bc302e" stroke-width="1.0"/>
<circle cx="43.4" cy="28.6" r="1.45" fill="#cc6362" stroke="#bc302e" stroke-width="1.0"/>
<circle cx="45.7" cy="35.2" r="1.45" fill="#cc6362" stroke="#bc302e" stroke-width="1.0"/>
<circle cx="48.2" cy="41.7" r="1.45" fill="#cc6362" stroke="#bc302e" stroke-width="1.0"/>
<circle cx="50.6" cy="48.3" r="1.45" fill="#cc6362" stroke="#bc302e" stroke-width="1.0"/>
<circle cx="53.5" cy="54.6" r="1.45" fill="#cc6362" stroke="#bc302e" stroke-width="1.0"/>
<circle cx="57.0" cy="60.7" r="1.45" fill="#cc6362" stroke="#bc302e" stroke-width="1.0"/>
<circle cx="60.4" cy="66.8" r="1.45" fill="#cc6362" stroke="#bc302e" stroke-width="1.0"/>
<circle cx="63.6" cy="73.0" r="1.45" fill="#cc6362" stroke="#bc302e" stroke-width="1.0"/>
<circle cx="66.8" cy="79.3" r="1.45" fill="#cc6362" stroke="#bc302e" stroke-width="1.0"/>
<circle cx="70.0" cy="85.5" r="1.45" fill="#cc6362" stroke="#bc302e" stroke-width="1.0"/>
<circle cx="75.9" cy="88.9" r="1.45" fill="#cc6362" stroke="#bc302e" stroke-width="1.0"/>
<circle cx="80.1" cy="94.0" r="1.45" fill="#cc6362" stroke="#bc302e" stroke-width="1.0"/>
<circle cx="82.9" cy="100.4" r="1.45" fill="#cc6362" stroke="#bc302e" stroke-width="1.0"/>
<circle cx="85.5" cy="106.9" r="1.45" fill="#cc6362" stroke="#bc302e" stroke-width="1.0"/>
<circle cx="88.1" cy="113.4" r="1.45" fill="#cc6362" stroke="#bc302e" stroke-width="1.0"/>
<circle cx="92.0" cy="122.0" r="1.45" fill="#cc6362" stroke="#bc302e" stroke-width="1.0"/>
<polyline points="41.0,22.0 46.0,38.0 51.0,52.0 55.8,63.7 62.3,74.3 66.8,84.1 71.3,92.4 75.8,100.7 79.6,108.2 85.1,119.1 90.0,126.3 98.4,152.3" fill="none" stroke="#b82834" stroke-width="1.25" stroke-dasharray="1.2 1"/>
<circle cx="41.0" cy="22.0" r="1.45" fill="#e9bec2" stroke="#b82834" stroke-width="1.0"/>
<circle cx="43.1" cy="28.7" r="1.45" fill="#e9bec2" stroke="#b82834" stroke-width="1.0"/>
<circle cx="45.2" cy="35.4" r="1.45" fill="#e9bec2" stroke="#b82834" stroke-width="1.0"/>
<circle cx="47.4" cy="42.0" r="1.45" fill="#e9bec2" stroke="#b82834" stroke-width="1.0"/>
<circle cx="49.8" cy="48.6" r="1.45" fill="#e9bec2" stroke="#b82834" stroke-width="1.0"/>
<circle cx="52.3" cy="55.1" r="1.45" fill="#e9bec2" stroke="#b82834" stroke-width="1.0"/>
<circle cx="54.9" cy="61.6" r="1.45" fill="#e9bec2" stroke="#b82834" stroke-width="1.0"/>
<circle cx="58.3" cy="67.7" r="1.45" fill="#e9bec2" stroke="#b82834" stroke-width="1.0"/>
<circle cx="61.9" cy="73.7" r="1.45" fill="#e9bec2" stroke="#b82834" stroke-width="1.0"/>
<circle cx="64.9" cy="80.0" r="1.45" fill="#e9bec2" stroke="#b82834" stroke-width="1.0"/>
<circle cx="68.0" cy="86.3" r="1.45" fill="#e9bec2" stroke="#b82834" stroke-width="1.0"/>
<circle cx="71.3" cy="92.5" r="1.45" fill="#e9bec2" stroke="#b82834" stroke-width="1.0"/>
<circle cx="74.7" cy="98.6" r="1.45" fill="#e9bec2" stroke="#b82834" stroke-width="1.0"/>
<circle cx="77.9" cy="104.8" r="1.45" fill="#e9bec2" stroke="#b82834" stroke-width="1.0"/>
<circle cx="81.0" cy="111.1" r="1.45" fill="#e9bec2" stroke="#b82834" stroke-width="1.0"/>
<circle cx="84.2" cy="117.3" r="1.45" fill="#e9bec2" stroke="#b82834" stroke-width="1.0"/>
<circle cx="87.9" cy="123.2" r="1.45" fill="#e9bec2" stroke="#b82834" stroke-width="1.0"/>
<circle cx="91.0" cy="129.4" r="1.45" fill="#e9bec2" stroke="#b82834" stroke-width="1.0"/>
<circle cx="93.2" cy="136.1" r="1.45" fill="#e9bec2" stroke="#b82834" stroke-width="1.0"/>
<circle cx="95.3" cy="142.8" r="1.45" fill="#e9bec2" stroke="#b82834" stroke-width="1.0"/>
<circle cx="97.5" cy="149.4" r="1.45" fill="#e9bec2" stroke="#b82834" stroke-width="1.0"/>
<circle cx="98.4" cy="152.3" r="1.45" fill="#e9bec2" stroke="#b82834" stroke-width="1.0"/>
<polyline points="41.0,22.0 48.0,40.0 56.0,56.0 66.0,70.0 76.6,81.0 86.1,90.0 89.7,108.1" fill="none" stroke="#ac2238" stroke-width="1.25" stroke-dasharray="1.2 1"/>
<circle cx="41.0" cy="22.0" r="1.45" fill="#e6bcc3" stroke="#ac2238" stroke-width="1.0"/>
<circle cx="43.5" cy="28.5" r="1.45" fill="#e6bcc3" stroke="#ac2238" stroke-width="1.0"/>
<circle cx="46.1" cy="35.0" r="1.45" fill="#e6bcc3" stroke="#ac2238" stroke-width="1.0"/>
<circle cx="48.8" cy="41.5" r="1.45" fill="#e6bcc3" stroke="#ac2238" stroke-width="1.0"/>
<circle cx="51.9" cy="47.8" r="1.45" fill="#e6bcc3" stroke="#ac2238" stroke-width="1.0"/>
<circle cx="55.0" cy="54.0" r="1.45" fill="#e6bcc3" stroke="#ac2238" stroke-width="1.0"/>
<circle cx="58.8" cy="59.9" r="1.45" fill="#e6bcc3" stroke="#ac2238" stroke-width="1.0"/>
<circle cx="62.9" cy="65.6" r="1.45" fill="#e6bcc3" stroke="#ac2238" stroke-width="1.0"/>
<circle cx="67.1" cy="71.1" r="1.45" fill="#e6bcc3" stroke="#ac2238" stroke-width="1.0"/>
<circle cx="72.0" cy="76.2" r="1.45" fill="#e6bcc3" stroke="#ac2238" stroke-width="1.0"/>
<circle cx="76.8" cy="81.2" r="1.45" fill="#e6bcc3" stroke="#ac2238" stroke-width="1.0"/>
<circle cx="81.9" cy="86.0" r="1.45" fill="#e6bcc3" stroke="#ac2238" stroke-width="1.0"/>
<circle cx="86.3" cy="91.2" r="1.45" fill="#e6bcc3" stroke="#ac2238" stroke-width="1.0"/>
<circle cx="87.7" cy="98.1" r="1.45" fill="#e6bcc3" stroke="#ac2238" stroke-width="1.0"/>
<circle cx="89.1" cy="104.9" r="1.45" fill="#e6bcc3" stroke="#ac2238" stroke-width="1.0"/>
<circle cx="89.7" cy="108.1" r="1.45" fill="#e6bcc3" stroke="#ac2238" stroke-width="1.0"/>
<polyline points="41.0,22.0 45.0,38.0 50.0,52.0 57.0,65.0 64.0,78.0 70.0,90.0" fill="none" stroke="#a01c3a" stroke-width="1.25" stroke-dasharray="1.2 1"/>
<circle cx="41.0" cy="22.0" r="1.45" fill="#e2bac3" stroke="#a01c3a" stroke-width="1.0"/>
<circle cx="42.7" cy="28.8" r="1.45" fill="#e2bac3" stroke="#a01c3a" stroke-width="1.0"/>
<circle cx="44.4" cy="35.6" r="1.45" fill="#e2bac3" stroke="#a01c3a" stroke-width="1.0"/>
<circle cx="46.5" cy="42.2" r="1.45" fill="#e2bac3" stroke="#a01c3a" stroke-width="1.0"/>
<circle cx="48.9" cy="48.8" r="1.45" fill="#e2bac3" stroke="#a01c3a" stroke-width="1.0"/>
<circle cx="51.7" cy="55.2" r="1.45" fill="#e2bac3" stroke="#a01c3a" stroke-width="1.0"/>
<circle cx="55.0" cy="61.4" r="1.45" fill="#e2bac3" stroke="#a01c3a" stroke-width="1.0"/>
<circle cx="58.4" cy="67.5" r="1.45" fill="#e2bac3" stroke="#a01c3a" stroke-width="1.0"/>
<circle cx="61.7" cy="73.7" r="1.45" fill="#e2bac3" stroke="#a01c3a" stroke-width="1.0"/>
<circle cx="64.9" cy="79.9" r="1.45" fill="#e2bac3" stroke="#a01c3a" stroke-width="1.0"/>
<circle cx="68.1" cy="86.1" r="1.45" fill="#e2bac3" stroke="#a01c3a" stroke-width="1.0"/>
<circle cx="70.0" cy="90.0" r="1.45" fill="#e2bac3" stroke="#a01c3a" stroke-width="1.0"/>
<polyline points="220.0,46.0 226.0,57.0 240.0,62.0 260.0,65.0 280.0,68.0 290.0,72.0 296.3,75.8 305.4,80.2" fill="none" stroke="#58a426" stroke-width="1.25"/>
<path d="M220.0 44.1L221.9 46.0L220.0 47.9L218.1 46.0Z" fill="#81ba5c" stroke="#58a426" stroke-width="1.0"/>
<path d="M230.2 56.6L232.1 58.5L230.2 60.4L228.3 58.5Z" fill="#81ba5c" stroke="#58a426" stroke-width="1.0"/>
<path d="M238.7 59.6L240.6 61.5L238.7 63.4L236.8 61.5Z" fill="#81ba5c" stroke="#58a426" stroke-width="1.0"/>
<path d="M247.2 61.2L249.1 63.1L247.2 65.0L245.3 63.1Z" fill="#81ba5c" stroke="#58a426" stroke-width="1.0"/>
<path d="M255.7 62.5L257.6 64.4L255.7 66.3L253.8 64.4Z" fill="#81ba5c" stroke="#58a426" stroke-width="1.0"/>
<path d="M264.2 63.7L266.1 65.6L264.2 67.5L262.3 65.6Z" fill="#81ba5c" stroke="#58a426" stroke-width="1.0"/>
<path d="M272.7 65.0L274.6 66.9L272.7 68.8L270.8 66.9Z" fill="#81ba5c" stroke="#58a426" stroke-width="1.0"/>
<path d="M281.2 66.6L283.1 68.5L281.2 70.4L279.3 68.5Z" fill="#81ba5c" stroke="#58a426" stroke-width="1.0"/>
<path d="M289.7 70.0L291.6 71.9L289.7 73.8L287.8 71.9Z" fill="#81ba5c" stroke="#58a426" stroke-width="1.0"/>
<path d="M298.2 74.8L300.1 76.7L298.2 78.6L296.3 76.7Z" fill="#81ba5c" stroke="#58a426" stroke-width="1.0"/>
<path d="M305.4 78.3L307.3 80.2L305.4 82.1L303.5 80.2Z" fill="#81ba5c" stroke="#58a426" stroke-width="1.0"/>
<polyline points="220.0,47.0 226.0,58.0 240.0,63.0 262.4,68.0 274.0,75.0 281.9,83.8" fill="none" stroke="#509e24" stroke-width="1.25"/>
<path d="M220.0 45.1L221.9 47.0L220.0 48.9L218.1 47.0Z" fill="#7bb65a" stroke="#509e24" stroke-width="1.0"/>
<path d="M231.1 57.9L233.0 59.8L231.1 61.7L229.2 59.8Z" fill="#7bb65a" stroke="#509e24" stroke-width="1.0"/>
<path d="M239.6 60.9L241.5 62.8L239.6 64.7L237.7 62.8Z" fill="#7bb65a" stroke="#509e24" stroke-width="1.0"/>
<path d="M248.1 62.9L250.0 64.8L248.1 66.7L246.2 64.8Z" fill="#7bb65a" stroke="#509e24" stroke-width="1.0"/>
<path d="M256.6 64.8L258.4 66.7L256.6 68.6L254.7 66.7Z" fill="#7bb65a" stroke="#509e24" stroke-width="1.0"/>
<path d="M265.1 67.7L266.9 69.6L265.1 71.5L263.2 69.6Z" fill="#7bb65a" stroke="#509e24" stroke-width="1.0"/>
<path d="M273.6 72.8L275.4 74.7L273.6 76.6L271.7 74.7Z" fill="#7bb65a" stroke="#509e24" stroke-width="1.0"/>
<path d="M281.9 81.9L283.8 83.8L281.9 85.7L280.0 83.8Z" fill="#7bb65a" stroke="#509e24" stroke-width="1.0"/>
<polyline points="220.0,46.0 228.0,57.0 250.0,62.0 275.0,66.0 300.0,70.0 311.0,73.0 325.2,75.8" fill="none" stroke="#489822" stroke-width="1.25"/>
<path d="M220.0 44.1L221.9 46.0L220.0 47.9L218.1 46.0Z" fill="#75b159" stroke="#489822" stroke-width="1.0"/>
<path d="M231.9 56.0L233.8 57.9L231.9 59.8L230.0 57.9Z" fill="#75b159" stroke="#489822" stroke-width="1.0"/>
<path d="M240.4 57.9L242.3 59.8L240.4 61.7L238.5 59.8Z" fill="#75b159" stroke="#489822" stroke-width="1.0"/>
<path d="M248.9 59.9L250.8 61.8L248.9 63.6L247.0 61.8Z" fill="#75b159" stroke="#489822" stroke-width="1.0"/>
<path d="M257.4 61.3L259.3 63.2L257.4 65.1L255.5 63.2Z" fill="#75b159" stroke="#489822" stroke-width="1.0"/>
<path d="M265.9 62.6L267.8 64.5L265.9 66.4L264.0 64.5Z" fill="#75b159" stroke="#489822" stroke-width="1.0"/>
<path d="M274.4 64.0L276.3 65.9L274.4 67.8L272.5 65.9Z" fill="#75b159" stroke="#489822" stroke-width="1.0"/>
<path d="M282.9 65.4L284.8 67.3L282.9 69.2L281.0 67.3Z" fill="#75b159" stroke="#489822" stroke-width="1.0"/>
<path d="M291.4 66.7L293.3 68.6L291.4 70.5L289.5 68.6Z" fill="#75b159" stroke="#489822" stroke-width="1.0"/>
<path d="M299.9 68.1L301.8 70.0L299.9 71.9L298.0 70.0Z" fill="#75b159" stroke="#489822" stroke-width="1.0"/>
<path d="M308.4 70.4L310.3 72.3L308.4 74.2L306.5 72.3Z" fill="#75b159" stroke="#489822" stroke-width="1.0"/>
<path d="M316.9 72.3L318.8 74.2L316.9 76.1L315.0 74.2Z" fill="#75b159" stroke="#489822" stroke-width="1.0"/>
<path d="M325.2 73.9L327.1 75.8L325.2 77.7L323.3 75.8Z" fill="#75b159" stroke="#489822" stroke-width="1.0"/>
<polyline points="220.0,45.0 228.0,56.0 250.0,62.0 275.0,66.0 300.0,69.0 315.0,72.0" fill="none" stroke="#409220" stroke-width="1.25"/>
<path d="M220.0 43.1L221.9 45.0L220.0 46.9L218.1 45.0Z" fill="#6fad57" stroke="#409220" stroke-width="1.0"/>
<path d="M224.2 48.9L226.2 50.8L224.2 52.7L222.3 50.8Z" fill="#6fad57" stroke="#409220" stroke-width="1.0"/>
<path d="M232.8 55.4L234.7 57.3L232.8 59.2L230.8 57.3Z" fill="#6fad57" stroke="#409220" stroke-width="1.0"/>
<path d="M241.2 57.7L243.2 59.6L241.2 61.5L239.3 59.6Z" fill="#6fad57" stroke="#409220" stroke-width="1.0"/>
<path d="M249.8 60.0L251.7 61.9L249.8 63.8L247.8 61.9Z" fill="#6fad57" stroke="#409220" stroke-width="1.0"/>
<path d="M258.2 61.4L260.1 63.3L258.2 65.2L256.4 63.3Z" fill="#6fad57" stroke="#409220" stroke-width="1.0"/>
<path d="M266.8 62.8L268.6 64.7L266.8 66.6L264.9 64.7Z" fill="#6fad57" stroke="#409220" stroke-width="1.0"/>
<path d="M275.2 64.1L277.1 66.0L275.2 67.9L273.4 66.0Z" fill="#6fad57" stroke="#409220" stroke-width="1.0"/>
<path d="M283.8 65.1L285.6 67.0L283.8 69.0L281.9 67.0Z" fill="#6fad57" stroke="#409220" stroke-width="1.0"/>
<path d="M292.2 66.2L294.1 68.1L292.2 70.0L290.4 68.1Z" fill="#6fad57" stroke="#409220" stroke-width="1.0"/>
<path d="M300.8 67.2L302.6 69.2L300.8 71.1L298.9 69.2Z" fill="#6fad57" stroke="#409220" stroke-width="1.0"/>
<path d="M309.2 68.9L311.1 70.8L309.2 72.8L307.4 70.8Z" fill="#6fad57" stroke="#409220" stroke-width="1.0"/>
<path d="M315.0 70.1L316.9 72.0L315.0 73.9L313.1 72.0Z" fill="#6fad57" stroke="#409220" stroke-width="1.0"/>
<polyline points="220.0,44.0 225.0,55.0 235.0,60.0 250.0,63.0 270.0,66.0 289.0,68.5 301.7,69.5 311.6,72.0 328.8,73.0 338.5,75.1" fill="none" stroke="#328c1e" stroke-width="1.25" stroke-dasharray="1.2 1"/>
<path d="M220.0 42.1L221.9 44.0L220.0 45.9L218.1 44.0Z" fill="#c1dcbb" stroke="#328c1e" stroke-width="1.0"/>
<path d="M225.1 53.1L227.0 55.0L225.1 56.9L223.2 55.0Z" fill="#c1dcbb" stroke="#328c1e" stroke-width="1.0"/>
<path d="M233.6 57.4L235.5 59.3L233.6 61.2L231.7 59.3Z" fill="#c1dcbb" stroke="#328c1e" stroke-width="1.0"/>
<path d="M242.1 59.5L244.0 61.4L242.1 63.3L240.2 61.4Z" fill="#c1dcbb" stroke="#328c1e" stroke-width="1.0"/>
<path d="M250.6 61.2L252.5 63.1L250.6 65.0L248.7 63.1Z" fill="#c1dcbb" stroke="#328c1e" stroke-width="1.0"/>
<path d="M259.1 62.5L261.0 64.4L259.1 66.3L257.2 64.4Z" fill="#c1dcbb" stroke="#328c1e" stroke-width="1.0"/>
<path d="M267.6 63.7L269.5 65.6L267.6 67.5L265.7 65.6Z" fill="#c1dcbb" stroke="#328c1e" stroke-width="1.0"/>
<path d="M276.1 64.9L278.0 66.8L276.1 68.7L274.2 66.8Z" fill="#c1dcbb" stroke="#328c1e" stroke-width="1.0"/>
<path d="M284.6 66.0L286.5 67.9L284.6 69.8L282.7 67.9Z" fill="#c1dcbb" stroke="#328c1e" stroke-width="1.0"/>
<path d="M293.1 66.9L295.0 68.8L293.1 70.7L291.2 68.8Z" fill="#c1dcbb" stroke="#328c1e" stroke-width="1.0"/>
<path d="M301.6 67.6L303.5 69.5L301.6 71.4L299.7 69.5Z" fill="#c1dcbb" stroke="#328c1e" stroke-width="1.0"/>
<path d="M310.1 69.7L312.0 71.6L310.1 73.5L308.2 71.6Z" fill="#c1dcbb" stroke="#328c1e" stroke-width="1.0"/>
<path d="M318.6 70.5L320.5 72.4L318.6 74.3L316.7 72.4Z" fill="#c1dcbb" stroke="#328c1e" stroke-width="1.0"/>
<path d="M327.1 71.0L329.0 72.9L327.1 74.8L325.2 72.9Z" fill="#c1dcbb" stroke="#328c1e" stroke-width="1.0"/>
<path d="M335.6 72.6L337.5 74.5L335.6 76.4L333.7 74.5Z" fill="#c1dcbb" stroke="#328c1e" stroke-width="1.0"/>
<path d="M338.5 73.2L340.4 75.1L338.5 77.0L336.6 75.1Z" fill="#c1dcbb" stroke="#328c1e" stroke-width="1.0"/>
<polyline points="220.0,45.0 228.0,57.0 250.0,63.0 275.0,67.0 295.0,70.0" fill="none" stroke="#2a841e" stroke-width="1.25" stroke-dasharray="1.2 1"/>
<path d="M220.0 43.1L221.9 45.0L220.0 46.9L218.1 45.0Z" fill="#bfdabb" stroke="#2a841e" stroke-width="1.0"/>
<path d="M225.9 52.0L227.8 53.9L225.9 55.8L224.0 53.9Z" fill="#bfdabb" stroke="#2a841e" stroke-width="1.0"/>
<path d="M234.4 56.9L236.3 58.8L234.4 60.7L232.5 58.8Z" fill="#bfdabb" stroke="#2a841e" stroke-width="1.0"/>
<path d="M242.9 59.2L244.8 61.1L242.9 63.0L241.0 61.1Z" fill="#bfdabb" stroke="#2a841e" stroke-width="1.0"/>
<path d="M251.4 61.3L253.3 63.2L251.4 65.1L249.5 63.2Z" fill="#bfdabb" stroke="#2a841e" stroke-width="1.0"/>
<path d="M259.9 62.7L261.8 64.6L259.9 66.5L258.1 64.6Z" fill="#bfdabb" stroke="#2a841e" stroke-width="1.0"/>
<path d="M268.4 64.1L270.3 66.0L268.4 67.9L266.6 66.0Z" fill="#bfdabb" stroke="#2a841e" stroke-width="1.0"/>
<path d="M276.9 65.4L278.8 67.3L276.9 69.2L275.1 67.3Z" fill="#bfdabb" stroke="#2a841e" stroke-width="1.0"/>
<path d="M285.4 66.7L287.3 68.6L285.4 70.5L283.6 68.6Z" fill="#bfdabb" stroke="#2a841e" stroke-width="1.0"/>
<path d="M295.0 68.1L296.9 70.0L295.0 71.9L293.1 70.0Z" fill="#bfdabb" stroke="#2a841e" stroke-width="1.0"/>
<polyline points="220.0,46.0 228.0,58.0 250.0,64.0 270.0,68.0 290.0,70.0" fill="none" stroke="#247c1c" stroke-width="1.25" stroke-dasharray="1.2 1"/>
<path d="M220.0 44.1L221.9 46.0L220.0 47.9L218.1 46.0Z" fill="#bdd7ba" stroke="#247c1c" stroke-width="1.0"/>
<path d="M226.8 54.3L228.7 56.2L226.8 58.1L224.9 56.2Z" fill="#bdd7ba" stroke="#247c1c" stroke-width="1.0"/>
<path d="M235.3 58.1L237.2 60.0L235.3 61.9L233.4 60.0Z" fill="#bdd7ba" stroke="#247c1c" stroke-width="1.0"/>
<path d="M243.8 60.4L245.7 62.3L243.8 64.2L241.9 62.3Z" fill="#bdd7ba" stroke="#247c1c" stroke-width="1.0"/>
<path d="M252.3 62.6L254.2 64.5L252.3 66.4L250.4 64.5Z" fill="#bdd7ba" stroke="#247c1c" stroke-width="1.0"/>
<path d="M260.8 64.3L262.7 66.2L260.8 68.1L258.9 66.2Z" fill="#bdd7ba" stroke="#247c1c" stroke-width="1.0"/>
<path d="M269.3 66.0L271.2 67.9L269.3 69.8L267.4 67.9Z" fill="#bdd7ba" stroke="#247c1c" stroke-width="1.0"/>
<path d="M277.8 66.9L279.7 68.8L277.8 70.7L275.9 68.8Z" fill="#bdd7ba" stroke="#247c1c" stroke-width="1.0"/>
<path d="M286.3 67.7L288.2 69.6L286.3 71.5L284.4 69.6Z" fill="#bdd7ba" stroke="#247c1c" stroke-width="1.0"/>
<path d="M290.0 68.1L291.9 70.0L290.0 71.9L288.1 70.0Z" fill="#bdd7ba" stroke="#247c1c" stroke-width="1.0"/>
<polyline points="220.0,48.0 224.0,53.0 233.0,56.0 250.0,58.0 270.0,59.5 290.0,61.0 310.0,63.0 327.9,66.2" fill="none" stroke="#1f70cc" stroke-width="1.25"/>
<rect x="218.6" y="46.6" width="2.8" height="2.8" fill="#5793d8" stroke="#1f70cc" stroke-width="1.0"/>
<rect x="222.1" y="51.0" width="2.8" height="2.8" fill="#5793d8" stroke="#1f70cc" stroke-width="1.0"/>
<rect x="225.6" y="52.6" width="2.8" height="2.8" fill="#5793d8" stroke="#1f70cc" stroke-width="1.0"/>
<rect x="229.1" y="53.8" width="2.8" height="2.8" fill="#5793d8" stroke="#1f70cc" stroke-width="1.0"/>
<rect x="236.0" y="55.1" width="2.8" height="2.8" fill="#5793d8" stroke="#1f70cc" stroke-width="1.0"/>
<rect x="244.5" y="56.1" width="2.8" height="2.8" fill="#5793d8" stroke="#1f70cc" stroke-width="1.0"/>
<rect x="253.0" y="56.9" width="2.8" height="2.8" fill="#5793d8" stroke="#1f70cc" stroke-width="1.0"/>
<rect x="261.5" y="57.6" width="2.8" height="2.8" fill="#5793d8" stroke="#1f70cc" stroke-width="1.0"/>
<rect x="270.0" y="58.2" width="2.8" height="2.8" fill="#5793d8" stroke="#1f70cc" stroke-width="1.0"/>
<rect x="278.5" y="58.8" width="2.8" height="2.8" fill="#5793d8" stroke="#1f70cc" stroke-width="1.0"/>
<rect x="287.0" y="59.5" width="2.8" height="2.8" fill="#5793d8" stroke="#1f70cc" stroke-width="1.0"/>
<rect x="295.5" y="60.3" width="2.8" height="2.8" fill="#5793d8" stroke="#1f70cc" stroke-width="1.0"/>
<rect x="304.0" y="61.1" width="2.8" height="2.8" fill="#5793d8" stroke="#1f70cc" stroke-width="1.0"/>
<rect x="312.5" y="62.3" width="2.8" height="2.8" fill="#5793d8" stroke="#1f70cc" stroke-width="1.0"/>
<rect x="321.0" y="63.8" width="2.8" height="2.8" fill="#5793d8" stroke="#1f70cc" stroke-width="1.0"/>
<rect x="326.5" y="64.8" width="2.8" height="2.8" fill="#5793d8" stroke="#1f70cc" stroke-width="1.0"/>
<polyline points="220.0,50.0 225.0,57.0 235.0,60.0 255.0,62.0 280.0,63.5 300.0,65.0 322.5,68.9" fill="none" stroke="#1c64c2" stroke-width="1.25"/>
<rect x="218.6" y="48.6" width="2.8" height="2.8" fill="#548ad1" stroke="#1c64c2" stroke-width="1.0"/>
<rect x="222.1" y="53.5" width="2.8" height="2.8" fill="#548ad1" stroke="#1c64c2" stroke-width="1.0"/>
<rect x="225.6" y="56.2" width="2.8" height="2.8" fill="#548ad1" stroke="#1c64c2" stroke-width="1.0"/>
<rect x="229.1" y="57.2" width="2.8" height="2.8" fill="#548ad1" stroke="#1c64c2" stroke-width="1.0"/>
<rect x="236.8" y="58.9" width="2.8" height="2.8" fill="#548ad1" stroke="#1c64c2" stroke-width="1.0"/>
<rect x="245.3" y="59.8" width="2.8" height="2.8" fill="#548ad1" stroke="#1c64c2" stroke-width="1.0"/>
<rect x="253.8" y="60.6" width="2.8" height="2.8" fill="#548ad1" stroke="#1c64c2" stroke-width="1.0"/>
<rect x="262.4" y="61.1" width="2.8" height="2.8" fill="#548ad1" stroke="#1c64c2" stroke-width="1.0"/>
<rect x="270.9" y="61.6" width="2.8" height="2.8" fill="#548ad1" stroke="#1c64c2" stroke-width="1.0"/>
<rect x="279.4" y="62.2" width="2.8" height="2.8" fill="#548ad1" stroke="#1c64c2" stroke-width="1.0"/>
<rect x="287.9" y="62.8" width="2.8" height="2.8" fill="#548ad1" stroke="#1c64c2" stroke-width="1.0"/>
<rect x="296.4" y="63.4" width="2.8" height="2.8" fill="#548ad1" stroke="#1c64c2" stroke-width="1.0"/>
<rect x="304.9" y="64.7" width="2.8" height="2.8" fill="#548ad1" stroke="#1c64c2" stroke-width="1.0"/>
<rect x="313.4" y="66.2" width="2.8" height="2.8" fill="#548ad1" stroke="#1c64c2" stroke-width="1.0"/>
<rect x="321.1" y="67.5" width="2.8" height="2.8" fill="#548ad1" stroke="#1c64c2" stroke-width="1.0"/>
<polyline points="220.0,51.0 226.0,59.0 240.0,63.0 260.0,64.5 285.0,66.0 310.0,68.0" fill="none" stroke="#1a58b8" stroke-width="1.25"/>
<rect x="218.6" y="49.6" width="2.8" height="2.8" fill="#5381c9" stroke="#1a58b8" stroke-width="1.0"/>
<rect x="222.1" y="54.3" width="2.8" height="2.8" fill="#5381c9" stroke="#1a58b8" stroke-width="1.0"/>
<rect x="225.6" y="57.9" width="2.8" height="2.8" fill="#5381c9" stroke="#1a58b8" stroke-width="1.0"/>
<rect x="229.1" y="58.9" width="2.8" height="2.8" fill="#5381c9" stroke="#1a58b8" stroke-width="1.0"/>
<rect x="237.7" y="61.3" width="2.8" height="2.8" fill="#5381c9" stroke="#1a58b8" stroke-width="1.0"/>
<rect x="246.2" y="62.2" width="2.8" height="2.8" fill="#5381c9" stroke="#1a58b8" stroke-width="1.0"/>
<rect x="254.7" y="62.8" width="2.8" height="2.8" fill="#5381c9" stroke="#1a58b8" stroke-width="1.0"/>
<rect x="263.2" y="63.4" width="2.8" height="2.8" fill="#5381c9" stroke="#1a58b8" stroke-width="1.0"/>
<rect x="271.7" y="63.9" width="2.8" height="2.8" fill="#5381c9" stroke="#1a58b8" stroke-width="1.0"/>
<rect x="280.2" y="64.4" width="2.8" height="2.8" fill="#5381c9" stroke="#1a58b8" stroke-width="1.0"/>
<rect x="288.7" y="65.0" width="2.8" height="2.8" fill="#5381c9" stroke="#1a58b8" stroke-width="1.0"/>
<rect x="297.2" y="65.7" width="2.8" height="2.8" fill="#5381c9" stroke="#1a58b8" stroke-width="1.0"/>
<rect x="305.7" y="66.4" width="2.8" height="2.8" fill="#5381c9" stroke="#1a58b8" stroke-width="1.0"/>
<rect x="308.6" y="66.6" width="2.8" height="2.8" fill="#5381c9" stroke="#1a58b8" stroke-width="1.0"/>
<polyline points="220.0,49.0 225.0,55.0 238.0,58.0 260.0,59.5 285.0,61.0 305.0,62.5 318.0,64.5" fill="none" stroke="#1a4eae" stroke-width="1.25"/>
<rect x="218.6" y="47.6" width="2.8" height="2.8" fill="#537ac2" stroke="#1a4eae" stroke-width="1.0"/>
<rect x="222.1" y="51.8" width="2.8" height="2.8" fill="#537ac2" stroke="#1a4eae" stroke-width="1.0"/>
<rect x="225.6" y="54.1" width="2.8" height="2.8" fill="#537ac2" stroke="#1a4eae" stroke-width="1.0"/>
<rect x="229.1" y="54.9" width="2.8" height="2.8" fill="#537ac2" stroke="#1a4eae" stroke-width="1.0"/>
<rect x="238.5" y="56.7" width="2.8" height="2.8" fill="#537ac2" stroke="#1a4eae" stroke-width="1.0"/>
<rect x="247.0" y="57.3" width="2.8" height="2.8" fill="#537ac2" stroke="#1a4eae" stroke-width="1.0"/>
<rect x="255.5" y="57.9" width="2.8" height="2.8" fill="#537ac2" stroke="#1a4eae" stroke-width="1.0"/>
<rect x="264.1" y="58.4" width="2.8" height="2.8" fill="#537ac2" stroke="#1a4eae" stroke-width="1.0"/>
<rect x="272.6" y="58.9" width="2.8" height="2.8" fill="#537ac2" stroke="#1a4eae" stroke-width="1.0"/>
<rect x="281.1" y="59.4" width="2.8" height="2.8" fill="#537ac2" stroke="#1a4eae" stroke-width="1.0"/>
<rect x="289.6" y="60.0" width="2.8" height="2.8" fill="#537ac2" stroke="#1a4eae" stroke-width="1.0"/>
<rect x="298.1" y="60.7" width="2.8" height="2.8" fill="#537ac2" stroke="#1a4eae" stroke-width="1.0"/>
<rect x="306.6" y="61.6" width="2.8" height="2.8" fill="#537ac2" stroke="#1a4eae" stroke-width="1.0"/>
<rect x="316.6" y="63.1" width="2.8" height="2.8" fill="#537ac2" stroke="#1a4eae" stroke-width="1.0"/>
<polyline points="220.0,50.0 227.0,58.0 240.0,62.0 260.0,64.5 280.0,66.0 300.0,68.0" fill="none" stroke="#1c46a6" stroke-width="1.25" stroke-dasharray="1.2 1"/>
<rect x="218.6" y="48.6" width="2.8" height="2.8" fill="#bac7e4" stroke="#1c46a6" stroke-width="1.0"/>
<rect x="222.1" y="52.6" width="2.8" height="2.8" fill="#bac7e4" stroke="#1c46a6" stroke-width="1.0"/>
<rect x="225.6" y="56.6" width="2.8" height="2.8" fill="#bac7e4" stroke="#1c46a6" stroke-width="1.0"/>
<rect x="229.1" y="57.7" width="2.8" height="2.8" fill="#bac7e4" stroke="#1c46a6" stroke-width="1.0"/>
<rect x="239.4" y="60.7" width="2.8" height="2.8" fill="#bac7e4" stroke="#1c46a6" stroke-width="1.0"/>
<rect x="247.9" y="61.8" width="2.8" height="2.8" fill="#bac7e4" stroke="#1c46a6" stroke-width="1.0"/>
<rect x="256.4" y="62.8" width="2.8" height="2.8" fill="#bac7e4" stroke="#1c46a6" stroke-width="1.0"/>
<rect x="264.9" y="63.6" width="2.8" height="2.8" fill="#bac7e4" stroke="#1c46a6" stroke-width="1.0"/>
<rect x="273.4" y="64.2" width="2.8" height="2.8" fill="#bac7e4" stroke="#1c46a6" stroke-width="1.0"/>
<rect x="281.9" y="64.9" width="2.8" height="2.8" fill="#bac7e4" stroke="#1c46a6" stroke-width="1.0"/>
<rect x="290.4" y="65.8" width="2.8" height="2.8" fill="#bac7e4" stroke="#1c46a6" stroke-width="1.0"/>
<rect x="298.6" y="66.6" width="2.8" height="2.8" fill="#bac7e4" stroke="#1c46a6" stroke-width="1.0"/>
<polyline points="220.0,50.0 226.0,58.0 245.0,61.0 270.0,62.5 295.0,64.0 315.0,66.5" fill="none" stroke="#1a3e9c" stroke-width="1.25" stroke-dasharray="1.2 1"/>
<rect x="218.6" y="48.6" width="2.8" height="2.8" fill="#bac5e1" stroke="#1a3e9c" stroke-width="1.0"/>
<rect x="222.1" y="53.3" width="2.8" height="2.8" fill="#bac5e1" stroke="#1a3e9c" stroke-width="1.0"/>
<rect x="225.6" y="56.8" width="2.8" height="2.8" fill="#bac5e1" stroke="#1a3e9c" stroke-width="1.0"/>
<rect x="229.1" y="57.3" width="2.8" height="2.8" fill="#bac5e1" stroke="#1a3e9c" stroke-width="1.0"/>
<rect x="240.2" y="59.1" width="2.8" height="2.8" fill="#bac5e1" stroke="#1a3e9c" stroke-width="1.0"/>
<rect x="248.8" y="59.9" width="2.8" height="2.8" fill="#bac5e1" stroke="#1a3e9c" stroke-width="1.0"/>
<rect x="257.2" y="60.4" width="2.8" height="2.8" fill="#bac5e1" stroke="#1a3e9c" stroke-width="1.0"/>
<rect x="265.8" y="60.9" width="2.8" height="2.8" fill="#bac5e1" stroke="#1a3e9c" stroke-width="1.0"/>
<rect x="274.2" y="61.4" width="2.8" height="2.8" fill="#bac5e1" stroke="#1a3e9c" stroke-width="1.0"/>
<rect x="282.8" y="61.9" width="2.8" height="2.8" fill="#bac5e1" stroke="#1a3e9c" stroke-width="1.0"/>
<rect x="291.2" y="62.5" width="2.8" height="2.8" fill="#bac5e1" stroke="#1a3e9c" stroke-width="1.0"/>
<rect x="299.8" y="63.4" width="2.8" height="2.8" fill="#bac5e1" stroke="#1a3e9c" stroke-width="1.0"/>
<rect x="308.2" y="64.4" width="2.8" height="2.8" fill="#bac5e1" stroke="#1a3e9c" stroke-width="1.0"/>
<rect x="313.6" y="65.1" width="2.8" height="2.8" fill="#bac5e1" stroke="#1a3e9c" stroke-width="1.0"/>
<polyline points="220.0,51.0 228.0,60.0 245.0,63.5 265.0,65.5 290.0,67.0 305.0,68.0" fill="none" stroke="#193690" stroke-width="1.25" stroke-dasharray="1.2 1"/>
<rect x="218.6" y="49.6" width="2.8" height="2.8" fill="#bac2dd" stroke="#193690" stroke-width="1.0"/>
<rect x="222.1" y="53.5" width="2.8" height="2.8" fill="#bac2dd" stroke="#193690" stroke-width="1.0"/>
<rect x="225.6" y="57.5" width="2.8" height="2.8" fill="#bac2dd" stroke="#193690" stroke-width="1.0"/>
<rect x="229.1" y="59.1" width="2.8" height="2.8" fill="#bac2dd" stroke="#193690" stroke-width="1.0"/>
<rect x="232.6" y="59.8" width="2.8" height="2.8" fill="#bac2dd" stroke="#193690" stroke-width="1.0"/>
<rect x="241.1" y="61.6" width="2.8" height="2.8" fill="#bac2dd" stroke="#193690" stroke-width="1.0"/>
<rect x="249.6" y="62.7" width="2.8" height="2.8" fill="#bac2dd" stroke="#193690" stroke-width="1.0"/>
<rect x="258.1" y="63.6" width="2.8" height="2.8" fill="#bac2dd" stroke="#193690" stroke-width="1.0"/>
<rect x="266.6" y="64.3" width="2.8" height="2.8" fill="#bac2dd" stroke="#193690" stroke-width="1.0"/>
<rect x="275.1" y="64.8" width="2.8" height="2.8" fill="#bac2dd" stroke="#193690" stroke-width="1.0"/>
<rect x="283.6" y="65.3" width="2.8" height="2.8" fill="#bac2dd" stroke="#193690" stroke-width="1.0"/>
<rect x="292.1" y="65.8" width="2.8" height="2.8" fill="#bac2dd" stroke="#193690" stroke-width="1.0"/>
<rect x="300.6" y="66.4" width="2.8" height="2.8" fill="#bac2dd" stroke="#193690" stroke-width="1.0"/>
<rect x="303.6" y="66.6" width="2.8" height="2.8" fill="#bac2dd" stroke="#193690" stroke-width="1.0"/>
<polyline points="220.0,51.0 226.0,60.0 240.0,63.0 255.0,65.0 270.2,69.0" fill="none" stroke="#dc5428" stroke-width="1.25"/>
<circle cx="220.0" cy="51.0" r="1.45" fill="#e47e5d" stroke="#dc5428" stroke-width="1.0"/>
<circle cx="223.5" cy="56.2" r="1.45" fill="#e47e5d" stroke="#dc5428" stroke-width="1.0"/>
<circle cx="227.0" cy="60.2" r="1.45" fill="#e47e5d" stroke="#dc5428" stroke-width="1.0"/>
<circle cx="230.5" cy="61.0" r="1.45" fill="#e47e5d" stroke="#dc5428" stroke-width="1.0"/>
<circle cx="234.8" cy="61.9" r="1.45" fill="#e47e5d" stroke="#dc5428" stroke-width="1.0"/>
<circle cx="243.3" cy="63.4" r="1.45" fill="#e47e5d" stroke="#dc5428" stroke-width="1.0"/>
<circle cx="251.8" cy="64.6" r="1.45" fill="#e47e5d" stroke="#dc5428" stroke-width="1.0"/>
<circle cx="260.4" cy="66.4" r="1.45" fill="#e47e5d" stroke="#dc5428" stroke-width="1.0"/>
<circle cx="270.2" cy="69.0" r="1.45" fill="#e47e5d" stroke="#dc5428" stroke-width="1.0"/>
<polyline points="220.0,52.0 224.0,61.0 235.0,64.5 250.0,66.0 265.0,68.0" fill="none" stroke="#d4482a" stroke-width="1.25"/>
<circle cx="220.0" cy="52.0" r="1.45" fill="#de755f" stroke="#d4482a" stroke-width="1.0"/>
<circle cx="223.5" cy="59.9" r="1.45" fill="#de755f" stroke="#d4482a" stroke-width="1.0"/>
<circle cx="227.0" cy="62.0" r="1.45" fill="#de755f" stroke="#d4482a" stroke-width="1.0"/>
<circle cx="230.5" cy="63.1" r="1.45" fill="#de755f" stroke="#d4482a" stroke-width="1.0"/>
<circle cx="235.7" cy="64.6" r="1.45" fill="#de755f" stroke="#d4482a" stroke-width="1.0"/>
<circle cx="244.2" cy="65.4" r="1.45" fill="#de755f" stroke="#d4482a" stroke-width="1.0"/>
<circle cx="252.7" cy="66.4" r="1.45" fill="#de755f" stroke="#d4482a" stroke-width="1.0"/>
<circle cx="261.2" cy="67.5" r="1.45" fill="#de755f" stroke="#d4482a" stroke-width="1.0"/>
<circle cx="265.0" cy="68.0" r="1.45" fill="#de755f" stroke="#d4482a" stroke-width="1.0"/>
<polyline points="220.0,53.0 224.0,63.0 233.0,67.0 250.0,68.5 262.0,70.0" fill="none" stroke="#c83c2c" stroke-width="1.25"/>
<circle cx="220.0" cy="53.0" r="1.45" fill="#d56c60" stroke="#c83c2c" stroke-width="1.0"/>
<circle cx="223.5" cy="61.8" r="1.45" fill="#d56c60" stroke="#c83c2c" stroke-width="1.0"/>
<circle cx="227.0" cy="64.3" r="1.45" fill="#d56c60" stroke="#c83c2c" stroke-width="1.0"/>
<circle cx="230.5" cy="65.9" r="1.45" fill="#d56c60" stroke="#c83c2c" stroke-width="1.0"/>
<circle cx="236.6" cy="67.3" r="1.45" fill="#d56c60" stroke="#c83c2c" stroke-width="1.0"/>
<circle cx="245.1" cy="68.1" r="1.45" fill="#d56c60" stroke="#c83c2c" stroke-width="1.0"/>
<circle cx="253.6" cy="68.9" r="1.45" fill="#d56c60" stroke="#c83c2c" stroke-width="1.0"/>
<circle cx="262.0" cy="70.0" r="1.45" fill="#d56c60" stroke="#c83c2c" stroke-width="1.0"/>
<polyline points="220.0,55.0 224.0,65.0 233.0,69.0 245.0,71.0 258.0,72.0" fill="none" stroke="#bc302e" stroke-width="1.25"/>
<circle cx="220.0" cy="55.0" r="1.45" fill="#cc6362" stroke="#bc302e" stroke-width="1.0"/>
<circle cx="223.5" cy="63.8" r="1.45" fill="#cc6362" stroke="#bc302e" stroke-width="1.0"/>
<circle cx="227.0" cy="66.3" r="1.45" fill="#cc6362" stroke="#bc302e" stroke-width="1.0"/>
<circle cx="230.5" cy="67.9" r="1.45" fill="#cc6362" stroke="#bc302e" stroke-width="1.0"/>
<circle cx="237.4" cy="69.7" r="1.45" fill="#cc6362" stroke="#bc302e" stroke-width="1.0"/>
<circle cx="245.9" cy="71.1" r="1.45" fill="#cc6362" stroke="#bc302e" stroke-width="1.0"/>
<circle cx="254.4" cy="71.7" r="1.45" fill="#cc6362" stroke="#bc302e" stroke-width="1.0"/>
<circle cx="258.0" cy="72.0" r="1.45" fill="#cc6362" stroke="#bc302e" stroke-width="1.0"/>
<polyline points="220.0,50.0 223.0,60.0 228.0,68.0 234.2,72.0 240.9,73.2 248.3,74.5 255.8,72.0 263.3,73.7 269.1,74.5 277.4,86.9" fill="none" stroke="#b82834" stroke-width="1.25" stroke-dasharray="1.2 1"/>
<circle cx="220.0" cy="50.0" r="1.45" fill="#e9bec2" stroke="#b82834" stroke-width="1.0"/>
<circle cx="223.5" cy="60.8" r="1.45" fill="#e9bec2" stroke="#b82834" stroke-width="1.0"/>
<circle cx="227.0" cy="66.4" r="1.45" fill="#e9bec2" stroke="#b82834" stroke-width="1.0"/>
<circle cx="230.5" cy="69.6" r="1.45" fill="#e9bec2" stroke="#b82834" stroke-width="1.0"/>
<circle cx="238.2" cy="72.7" r="1.45" fill="#e9bec2" stroke="#b82834" stroke-width="1.0"/>
<circle cx="246.8" cy="74.2" r="1.45" fill="#e9bec2" stroke="#b82834" stroke-width="1.0"/>
<circle cx="255.2" cy="72.2" r="1.45" fill="#e9bec2" stroke="#b82834" stroke-width="1.0"/>
<circle cx="263.8" cy="73.8" r="1.45" fill="#e9bec2" stroke="#b82834" stroke-width="1.0"/>
<circle cx="272.2" cy="79.2" r="1.45" fill="#e9bec2" stroke="#b82834" stroke-width="1.0"/>
<circle cx="277.4" cy="86.9" r="1.45" fill="#e9bec2" stroke="#b82834" stroke-width="1.0"/>
<polyline points="220.0,56.0 224.0,66.0 232.6,70.3 245.0,72.0 255.0,73.0" fill="none" stroke="#ac2238" stroke-width="1.25" stroke-dasharray="1.2 1"/>
<circle cx="220.0" cy="56.0" r="1.45" fill="#e6bcc3" stroke="#ac2238" stroke-width="1.0"/>
<circle cx="223.5" cy="64.8" r="1.45" fill="#e6bcc3" stroke="#ac2238" stroke-width="1.0"/>
<circle cx="227.0" cy="67.5" r="1.45" fill="#e6bcc3" stroke="#ac2238" stroke-width="1.0"/>
<circle cx="230.5" cy="69.2" r="1.45" fill="#e6bcc3" stroke="#ac2238" stroke-width="1.0"/>
<circle cx="239.1" cy="71.2" r="1.45" fill="#e6bcc3" stroke="#ac2238" stroke-width="1.0"/>
<circle cx="247.6" cy="72.3" r="1.45" fill="#e6bcc3" stroke="#ac2238" stroke-width="1.0"/>
<circle cx="255.0" cy="73.0" r="1.45" fill="#e6bcc3" stroke="#ac2238" stroke-width="1.0"/>
<polyline points="220.0,54.0 225.0,64.0 235.0,68.0 250.0,70.0" fill="none" stroke="#a01c3a" stroke-width="1.25" stroke-dasharray="1.2 1"/>
<circle cx="220.0" cy="54.0" r="1.45" fill="#e2bac3" stroke="#a01c3a" stroke-width="1.0"/>
<circle cx="223.5" cy="61.0" r="1.45" fill="#e2bac3" stroke="#a01c3a" stroke-width="1.0"/>
<circle cx="227.0" cy="64.8" r="1.45" fill="#e2bac3" stroke="#a01c3a" stroke-width="1.0"/>
<circle cx="230.5" cy="66.2" r="1.45" fill="#e2bac3" stroke="#a01c3a" stroke-width="1.0"/>
<circle cx="239.9" cy="68.7" r="1.45" fill="#e2bac3" stroke="#a01c3a" stroke-width="1.0"/>
<circle cx="250.0" cy="70.0" r="1.45" fill="#e2bac3" stroke="#a01c3a" stroke-width="1.0"/>
<polyline points="399.0,90.0 415.0,94.0 430.0,95.0 445.0,93.0 453.8,91.7 465.1,90.5 475.3,89.4 484.4,91.7 494.5,92.8 503.6,95.1" fill="none" stroke="#58a426" stroke-width="1.25"/>
<path d="M399.0 88.1L400.9 90.0L399.0 91.9L397.1 90.0Z" fill="#81ba5c" stroke="#58a426" stroke-width="1.0"/>
<path d="M409.2 90.6L411.1 92.5L409.2 94.5L407.3 92.5Z" fill="#81ba5c" stroke="#58a426" stroke-width="1.0"/>
<path d="M417.7 92.3L419.6 94.2L417.7 96.1L415.8 94.2Z" fill="#81ba5c" stroke="#58a426" stroke-width="1.0"/>
<path d="M426.2 92.8L428.1 94.7L426.2 96.6L424.3 94.7Z" fill="#81ba5c" stroke="#58a426" stroke-width="1.0"/>
<path d="M434.7 92.5L436.6 94.4L434.7 96.3L432.8 94.4Z" fill="#81ba5c" stroke="#58a426" stroke-width="1.0"/>
<path d="M443.2 91.3L445.1 93.2L443.2 95.1L441.3 93.2Z" fill="#81ba5c" stroke="#58a426" stroke-width="1.0"/>
<path d="M451.7 90.1L453.6 92.0L451.7 93.9L449.8 92.0Z" fill="#81ba5c" stroke="#58a426" stroke-width="1.0"/>
<path d="M460.2 89.1L462.1 91.0L460.2 92.9L458.3 91.0Z" fill="#81ba5c" stroke="#58a426" stroke-width="1.0"/>
<path d="M468.7 88.2L470.6 90.1L468.7 92.0L466.8 90.1Z" fill="#81ba5c" stroke="#58a426" stroke-width="1.0"/>
<path d="M477.2 88.0L479.1 89.9L477.2 91.8L475.3 89.9Z" fill="#81ba5c" stroke="#58a426" stroke-width="1.0"/>
<path d="M485.7 89.9L487.6 91.8L485.7 93.7L483.8 91.8Z" fill="#81ba5c" stroke="#58a426" stroke-width="1.0"/>
<path d="M494.2 90.9L496.1 92.8L494.2 94.7L492.3 92.8Z" fill="#81ba5c" stroke="#58a426" stroke-width="1.0"/>
<path d="M503.6 93.2L505.5 95.1L503.6 97.0L501.7 95.1Z" fill="#81ba5c" stroke="#58a426" stroke-width="1.0"/>
<polyline points="399.0,92.0 420.0,97.0 445.0,99.0 467.4,101.9 474.2,103.0 486.6,106.4" fill="none" stroke="#509e24" stroke-width="1.25"/>
<path d="M399.0 90.1L400.9 92.0L399.0 93.9L397.1 92.0Z" fill="#7bb65a" stroke="#509e24" stroke-width="1.0"/>
<path d="M410.1 92.7L411.9 94.6L410.1 96.5L408.2 94.6Z" fill="#7bb65a" stroke="#509e24" stroke-width="1.0"/>
<path d="M418.6 94.8L420.4 96.7L418.6 98.6L416.7 96.7Z" fill="#7bb65a" stroke="#509e24" stroke-width="1.0"/>
<path d="M427.1 95.7L428.9 97.6L427.1 99.5L425.2 97.6Z" fill="#7bb65a" stroke="#509e24" stroke-width="1.0"/>
<path d="M435.6 96.3L437.4 98.2L435.6 100.1L433.7 98.2Z" fill="#7bb65a" stroke="#509e24" stroke-width="1.0"/>
<path d="M444.1 97.0L445.9 98.9L444.1 100.8L442.2 98.9Z" fill="#7bb65a" stroke="#509e24" stroke-width="1.0"/>
<path d="M452.6 98.1L454.4 100.0L452.6 101.9L450.7 100.0Z" fill="#7bb65a" stroke="#509e24" stroke-width="1.0"/>
<path d="M461.1 99.2L462.9 101.1L461.1 103.0L459.2 101.1Z" fill="#7bb65a" stroke="#509e24" stroke-width="1.0"/>
<path d="M469.6 100.3L471.4 102.2L469.6 104.1L467.7 102.2Z" fill="#7bb65a" stroke="#509e24" stroke-width="1.0"/>
<path d="M478.1 102.2L479.9 104.1L478.1 106.0L476.2 104.1Z" fill="#7bb65a" stroke="#509e24" stroke-width="1.0"/>
<path d="M486.6 104.5L488.5 106.4L486.6 108.3L484.7 106.4Z" fill="#7bb65a" stroke="#509e24" stroke-width="1.0"/>
<polyline points="399.0,91.0 420.0,96.0 440.0,98.0 460.0,99.0 475.0,100.0 490.0,100.3 499.0,100.3 508.0,100.3 517.2,100.3" fill="none" stroke="#489822" stroke-width="1.25"/>
<path d="M399.0 89.1L400.9 91.0L399.0 92.9L397.1 91.0Z" fill="#75b159" stroke="#489822" stroke-width="1.0"/>
<path d="M410.9 91.9L412.8 93.8L410.9 95.7L409.0 93.8Z" fill="#75b159" stroke="#489822" stroke-width="1.0"/>
<path d="M419.4 94.0L421.3 95.9L419.4 97.8L417.5 95.9Z" fill="#75b159" stroke="#489822" stroke-width="1.0"/>
<path d="M427.9 94.9L429.8 96.8L427.9 98.7L426.0 96.8Z" fill="#75b159" stroke="#489822" stroke-width="1.0"/>
<path d="M436.4 95.7L438.3 97.6L436.4 99.5L434.5 97.6Z" fill="#75b159" stroke="#489822" stroke-width="1.0"/>
<path d="M444.9 96.3L446.8 98.2L444.9 100.1L443.0 98.2Z" fill="#75b159" stroke="#489822" stroke-width="1.0"/>
<path d="M453.4 96.8L455.3 98.7L453.4 100.6L451.5 98.7Z" fill="#75b159" stroke="#489822" stroke-width="1.0"/>
<path d="M461.9 97.2L463.8 99.1L461.9 101.0L460.0 99.1Z" fill="#75b159" stroke="#489822" stroke-width="1.0"/>
<path d="M470.4 97.8L472.3 99.7L470.4 101.6L468.5 99.7Z" fill="#75b159" stroke="#489822" stroke-width="1.0"/>
<path d="M478.9 98.2L480.8 100.1L478.9 102.0L477.0 100.1Z" fill="#75b159" stroke="#489822" stroke-width="1.0"/>
<path d="M487.4 98.3L489.3 100.2L487.4 102.1L485.5 100.2Z" fill="#75b159" stroke="#489822" stroke-width="1.0"/>
<path d="M495.9 98.4L497.8 100.3L495.9 102.2L494.0 100.3Z" fill="#75b159" stroke="#489822" stroke-width="1.0"/>
<path d="M504.4 98.4L506.3 100.3L504.4 102.2L502.5 100.3Z" fill="#75b159" stroke="#489822" stroke-width="1.0"/>
<path d="M512.9 98.4L514.8 100.3L512.9 102.2L511.0 100.3Z" fill="#75b159" stroke="#489822" stroke-width="1.0"/>
<path d="M517.2 98.4L519.1 100.3L517.2 102.2L515.3 100.3Z" fill="#75b159" stroke="#489822" stroke-width="1.0"/>
<polyline points="397.5,87.0 409.7,88.3 420.9,90.0 436.9,84.9 444.1,80.8 452.7,77.0 460.6,83.8" fill="none" stroke="#409220" stroke-width="1.25"/>
<path d="M397.5 85.1L399.4 87.0L397.5 88.9L395.6 87.0Z" fill="#6fad57" stroke="#409220" stroke-width="1.0"/>
<path d="M401.8 85.6L403.6 87.5L401.8 89.4L399.9 87.5Z" fill="#6fad57" stroke="#409220" stroke-width="1.0"/>
<path d="M410.2 86.5L412.1 88.4L410.2 90.3L408.4 88.4Z" fill="#6fad57" stroke="#409220" stroke-width="1.0"/>
<path d="M418.8 87.8L420.6 89.7L418.8 91.6L416.9 89.7Z" fill="#6fad57" stroke="#409220" stroke-width="1.0"/>
<path d="M427.2 86.1L429.1 88.0L427.2 89.9L425.4 88.0Z" fill="#6fad57" stroke="#409220" stroke-width="1.0"/>
<path d="M435.8 83.4L437.6 85.3L435.8 87.2L433.9 85.3Z" fill="#6fad57" stroke="#409220" stroke-width="1.0"/>
<path d="M444.2 78.8L446.1 80.7L444.2 82.6L442.4 80.7Z" fill="#6fad57" stroke="#409220" stroke-width="1.0"/>
<path d="M452.8 75.1L454.6 77.0L452.8 78.9L450.9 77.0Z" fill="#6fad57" stroke="#409220" stroke-width="1.0"/>
<path d="M460.6 81.9L462.5 83.8L460.6 85.7L458.7 83.8Z" fill="#6fad57" stroke="#409220" stroke-width="1.0"/>
<polyline points="399.0,92.0 415.0,97.0 430.0,100.0 445.0,101.0 460.0,100.0 475.0,99.0" fill="none" stroke="#328c1e" stroke-width="1.25" stroke-dasharray="1.2 1"/>
<path d="M399.0 90.1L400.9 92.0L399.0 93.9L397.1 92.0Z" fill="#c1dcbb" stroke="#328c1e" stroke-width="1.0"/>
<path d="M404.1 91.7L406.0 93.6L404.1 95.5L402.2 93.6Z" fill="#c1dcbb" stroke="#328c1e" stroke-width="1.0"/>
<path d="M412.6 94.3L414.5 96.2L412.6 98.2L410.7 96.2Z" fill="#c1dcbb" stroke="#328c1e" stroke-width="1.0"/>
<path d="M421.1 96.3L423.0 98.2L421.1 100.1L419.2 98.2Z" fill="#c1dcbb" stroke="#328c1e" stroke-width="1.0"/>
<path d="M429.6 98.0L431.5 99.9L429.6 101.8L427.7 99.9Z" fill="#c1dcbb" stroke="#328c1e" stroke-width="1.0"/>
<path d="M438.1 98.6L440.0 100.5L438.1 102.4L436.2 100.5Z" fill="#c1dcbb" stroke="#328c1e" stroke-width="1.0"/>
<path d="M446.6 99.0L448.5 100.9L446.6 102.8L444.7 100.9Z" fill="#c1dcbb" stroke="#328c1e" stroke-width="1.0"/>
<path d="M455.1 98.4L457.0 100.3L455.1 102.2L453.2 100.3Z" fill="#c1dcbb" stroke="#328c1e" stroke-width="1.0"/>
<path d="M463.6 97.9L465.5 99.8L463.6 101.7L461.7 99.8Z" fill="#c1dcbb" stroke="#328c1e" stroke-width="1.0"/>
<path d="M472.1 97.3L474.0 99.2L472.1 101.1L470.2 99.2Z" fill="#c1dcbb" stroke="#328c1e" stroke-width="1.0"/>
<path d="M475.0 97.1L476.9 99.0L475.0 100.9L473.1 99.0Z" fill="#c1dcbb" stroke="#328c1e" stroke-width="1.0"/>
<polyline points="399.0,93.0 415.0,98.0 430.0,101.0 445.0,103.0 460.0,103.0 470.0,102.0" fill="none" stroke="#2a841e" stroke-width="1.25" stroke-dasharray="1.2 1"/>
<path d="M399.0 91.1L400.9 93.0L399.0 94.9L397.1 93.0Z" fill="#bfdabb" stroke="#2a841e" stroke-width="1.0"/>
<path d="M404.9 93.0L406.8 94.9L404.9 96.8L403.1 94.9Z" fill="#bfdabb" stroke="#2a841e" stroke-width="1.0"/>
<path d="M413.4 95.6L415.3 97.5L413.4 99.4L411.6 97.5Z" fill="#bfdabb" stroke="#2a841e" stroke-width="1.0"/>
<path d="M421.9 97.5L423.8 99.4L421.9 101.3L420.1 99.4Z" fill="#bfdabb" stroke="#2a841e" stroke-width="1.0"/>
<path d="M430.4 99.2L432.3 101.1L430.4 103.0L428.6 101.1Z" fill="#bfdabb" stroke="#2a841e" stroke-width="1.0"/>
<path d="M438.9 100.3L440.8 102.2L438.9 104.1L437.1 102.2Z" fill="#bfdabb" stroke="#2a841e" stroke-width="1.0"/>
<path d="M447.4 101.1L449.3 103.0L447.4 104.9L445.6 103.0Z" fill="#bfdabb" stroke="#2a841e" stroke-width="1.0"/>
<path d="M455.9 101.1L457.8 103.0L455.9 104.9L454.1 103.0Z" fill="#bfdabb" stroke="#2a841e" stroke-width="1.0"/>
<path d="M464.4 100.7L466.3 102.6L464.4 104.5L462.6 102.6Z" fill="#bfdabb" stroke="#2a841e" stroke-width="1.0"/>
<path d="M470.0 100.1L471.9 102.0L470.0 103.9L468.1 102.0Z" fill="#bfdabb" stroke="#2a841e" stroke-width="1.0"/>
<polyline points="399.0,91.0 415.0,96.0 430.0,99.0 445.0,100.0 455.0,99.0" fill="none" stroke="#247c1c" stroke-width="1.25" stroke-dasharray="1.2 1"/>
<path d="M399.0 89.1L400.9 91.0L399.0 92.9L397.1 91.0Z" fill="#bdd7ba" stroke="#247c1c" stroke-width="1.0"/>
<path d="M405.8 91.2L407.7 93.1L405.8 95.0L403.9 93.1Z" fill="#bdd7ba" stroke="#247c1c" stroke-width="1.0"/>
<path d="M414.3 93.9L416.2 95.8L414.3 97.7L412.4 95.8Z" fill="#bdd7ba" stroke="#247c1c" stroke-width="1.0"/>
<path d="M422.8 95.7L424.7 97.6L422.8 99.5L420.9 97.6Z" fill="#bdd7ba" stroke="#247c1c" stroke-width="1.0"/>
<path d="M431.3 97.2L433.2 99.1L431.3 101.0L429.4 99.1Z" fill="#bdd7ba" stroke="#247c1c" stroke-width="1.0"/>
<path d="M439.8 97.8L441.7 99.7L439.8 101.6L437.9 99.7Z" fill="#bdd7ba" stroke="#247c1c" stroke-width="1.0"/>
<path d="M448.3 97.8L450.2 99.7L448.3 101.6L446.4 99.7Z" fill="#bdd7ba" stroke="#247c1c" stroke-width="1.0"/>
<path d="M455.0 97.1L456.9 99.0L455.0 100.9L453.1 99.0Z" fill="#bdd7ba" stroke="#247c1c" stroke-width="1.0"/>
<polyline points="399.0,96.0 405.0,104.0 414.2,109.0 424.2,113.2 432.5,115.7 440.8,117.3 449.1,119.0 461.0,123.1 468.5,124.3 479.8,126.6 487.7,123.2 500.0,121.0" fill="none" stroke="#1f70cc" stroke-width="1.25"/>
<rect x="397.6" y="94.6" width="2.8" height="2.8" fill="#5793d8" stroke="#1f70cc" stroke-width="1.0"/>
<rect x="405.2" y="103.5" width="2.8" height="2.8" fill="#5793d8" stroke="#1f70cc" stroke-width="1.0"/>
<rect x="413.8" y="108.0" width="2.8" height="2.8" fill="#5793d8" stroke="#1f70cc" stroke-width="1.0"/>
<rect x="422.2" y="111.6" width="2.8" height="2.8" fill="#5793d8" stroke="#1f70cc" stroke-width="1.0"/>
<rect x="430.8" y="114.2" width="2.8" height="2.8" fill="#5793d8" stroke="#1f70cc" stroke-width="1.0"/>
<rect x="439.2" y="115.9" width="2.8" height="2.8" fill="#5793d8" stroke="#1f70cc" stroke-width="1.0"/>
<rect x="447.8" y="117.6" width="2.8" height="2.8" fill="#5793d8" stroke="#1f70cc" stroke-width="1.0"/>
<rect x="456.2" y="120.5" width="2.8" height="2.8" fill="#5793d8" stroke="#1f70cc" stroke-width="1.0"/>
<rect x="464.8" y="122.5" width="2.8" height="2.8" fill="#5793d8" stroke="#1f70cc" stroke-width="1.0"/>
<rect x="473.2" y="124.2" width="2.8" height="2.8" fill="#5793d8" stroke="#1f70cc" stroke-width="1.0"/>
<rect x="481.8" y="123.8" width="2.8" height="2.8" fill="#5793d8" stroke="#1f70cc" stroke-width="1.0"/>
<rect x="490.2" y="121.1" width="2.8" height="2.8" fill="#5793d8" stroke="#1f70cc" stroke-width="1.0"/>
<rect x="498.6" y="119.6" width="2.8" height="2.8" fill="#5793d8" stroke="#1f70cc" stroke-width="1.0"/>
<polyline points="399.0,97.0 412.0,104.0 427.5,104.9 437.5,109.9 461.0,114.0 476.4,109.8" fill="none" stroke="#1c64c2" stroke-width="1.25"/>
<rect x="397.6" y="95.6" width="2.8" height="2.8" fill="#548ad1" stroke="#1c64c2" stroke-width="1.0"/>
<rect x="406.1" y="100.2" width="2.8" height="2.8" fill="#548ad1" stroke="#1c64c2" stroke-width="1.0"/>
<rect x="414.6" y="102.8" width="2.8" height="2.8" fill="#548ad1" stroke="#1c64c2" stroke-width="1.0"/>
<rect x="423.1" y="103.3" width="2.8" height="2.8" fill="#548ad1" stroke="#1c64c2" stroke-width="1.0"/>
<rect x="431.6" y="106.2" width="2.8" height="2.8" fill="#548ad1" stroke="#1c64c2" stroke-width="1.0"/>
<rect x="440.1" y="109.2" width="2.8" height="2.8" fill="#548ad1" stroke="#1c64c2" stroke-width="1.0"/>
<rect x="448.6" y="110.7" width="2.8" height="2.8" fill="#548ad1" stroke="#1c64c2" stroke-width="1.0"/>
<rect x="457.1" y="112.2" width="2.8" height="2.8" fill="#548ad1" stroke="#1c64c2" stroke-width="1.0"/>
<rect x="465.6" y="111.0" width="2.8" height="2.8" fill="#548ad1" stroke="#1c64c2" stroke-width="1.0"/>
<rect x="475.0" y="108.4" width="2.8" height="2.8" fill="#548ad1" stroke="#1c64c2" stroke-width="1.0"/>
<polyline points="399.0,95.0 410.0,104.0 425.0,110.0 445.0,114.0 465.0,119.0 477.6,121.0 488.9,111.9 495.6,106.3 500.1,104.0" fill="none" stroke="#1a58b8" stroke-width="1.25"/>
<rect x="397.6" y="93.6" width="2.8" height="2.8" fill="#5381c9" stroke="#1a58b8" stroke-width="1.0"/>
<rect x="407.0" y="101.3" width="2.8" height="2.8" fill="#5381c9" stroke="#1a58b8" stroke-width="1.0"/>
<rect x="415.5" y="105.3" width="2.8" height="2.8" fill="#5381c9" stroke="#1a58b8" stroke-width="1.0"/>
<rect x="424.0" y="108.7" width="2.8" height="2.8" fill="#5381c9" stroke="#1a58b8" stroke-width="1.0"/>
<rect x="432.5" y="110.4" width="2.8" height="2.8" fill="#5381c9" stroke="#1a58b8" stroke-width="1.0"/>
<rect x="441.0" y="112.1" width="2.8" height="2.8" fill="#5381c9" stroke="#1a58b8" stroke-width="1.0"/>
<rect x="449.5" y="114.1" width="2.8" height="2.8" fill="#5381c9" stroke="#1a58b8" stroke-width="1.0"/>
<rect x="458.0" y="116.2" width="2.8" height="2.8" fill="#5381c9" stroke="#1a58b8" stroke-width="1.0"/>
<rect x="466.5" y="118.1" width="2.8" height="2.8" fill="#5381c9" stroke="#1a58b8" stroke-width="1.0"/>
<rect x="475.0" y="119.4" width="2.8" height="2.8" fill="#5381c9" stroke="#1a58b8" stroke-width="1.0"/>
<rect x="483.5" y="113.8" width="2.8" height="2.8" fill="#5381c9" stroke="#1a58b8" stroke-width="1.0"/>
<rect x="492.0" y="106.8" width="2.8" height="2.8" fill="#5381c9" stroke="#1a58b8" stroke-width="1.0"/>
<rect x="498.7" y="102.6" width="2.8" height="2.8" fill="#5381c9" stroke="#1a58b8" stroke-width="1.0"/>
<polyline points="399.0,97.0 410.0,103.0 428.0,106.5 445.7,110.7 461.0,113.2 480.0,117.0" fill="none" stroke="#1a4eae" stroke-width="1.25"/>
<rect x="397.6" y="95.6" width="2.8" height="2.8" fill="#537ac2" stroke="#1a4eae" stroke-width="1.0"/>
<rect x="407.8" y="101.2" width="2.8" height="2.8" fill="#537ac2" stroke="#1a4eae" stroke-width="1.0"/>
<rect x="416.3" y="103.1" width="2.8" height="2.8" fill="#537ac2" stroke="#1a4eae" stroke-width="1.0"/>
<rect x="424.8" y="104.7" width="2.8" height="2.8" fill="#537ac2" stroke="#1a4eae" stroke-width="1.0"/>
<rect x="433.3" y="106.7" width="2.8" height="2.8" fill="#537ac2" stroke="#1a4eae" stroke-width="1.0"/>
<rect x="441.8" y="108.7" width="2.8" height="2.8" fill="#537ac2" stroke="#1a4eae" stroke-width="1.0"/>
<rect x="450.3" y="110.3" width="2.8" height="2.8" fill="#537ac2" stroke="#1a4eae" stroke-width="1.0"/>
<rect x="458.8" y="111.7" width="2.8" height="2.8" fill="#537ac2" stroke="#1a4eae" stroke-width="1.0"/>
<rect x="467.3" y="113.3" width="2.8" height="2.8" fill="#537ac2" stroke="#1a4eae" stroke-width="1.0"/>
<rect x="475.8" y="115.0" width="2.8" height="2.8" fill="#537ac2" stroke="#1a4eae" stroke-width="1.0"/>
<rect x="478.6" y="115.6" width="2.8" height="2.8" fill="#537ac2" stroke="#1a4eae" stroke-width="1.0"/>
<polyline points="399.0,98.0 410.0,104.0 429.2,106.5 445.7,111.0 461.0,114.2 468.5,117.6 482.0,119.8 494.5,121.0 508.0,122.1" fill="none" stroke="#1c46a6" stroke-width="1.25" stroke-dasharray="1.2 1"/>
<rect x="397.6" y="96.6" width="2.8" height="2.8" fill="#bac7e4" stroke="#1c46a6" stroke-width="1.0"/>
<rect x="408.7" y="102.6" width="2.8" height="2.8" fill="#bac7e4" stroke="#1c46a6" stroke-width="1.0"/>
<rect x="417.2" y="103.7" width="2.8" height="2.8" fill="#bac7e4" stroke="#1c46a6" stroke-width="1.0"/>
<rect x="425.7" y="104.8" width="2.8" height="2.8" fill="#bac7e4" stroke="#1c46a6" stroke-width="1.0"/>
<rect x="434.2" y="106.8" width="2.8" height="2.8" fill="#bac7e4" stroke="#1c46a6" stroke-width="1.0"/>
<rect x="442.7" y="109.2" width="2.8" height="2.8" fill="#bac7e4" stroke="#1c46a6" stroke-width="1.0"/>
<rect x="451.2" y="111.0" width="2.8" height="2.8" fill="#bac7e4" stroke="#1c46a6" stroke-width="1.0"/>
<rect x="459.7" y="112.8" width="2.8" height="2.8" fill="#bac7e4" stroke="#1c46a6" stroke-width="1.0"/>
<rect x="468.2" y="116.4" width="2.8" height="2.8" fill="#bac7e4" stroke="#1c46a6" stroke-width="1.0"/>
<rect x="476.7" y="117.8" width="2.8" height="2.8" fill="#bac7e4" stroke="#1c46a6" stroke-width="1.0"/>
<rect x="485.2" y="118.8" width="2.8" height="2.8" fill="#bac7e4" stroke="#1c46a6" stroke-width="1.0"/>
<rect x="493.7" y="119.6" width="2.8" height="2.8" fill="#bac7e4" stroke="#1c46a6" stroke-width="1.0"/>
<rect x="502.2" y="120.3" width="2.8" height="2.8" fill="#bac7e4" stroke="#1c46a6" stroke-width="1.0"/>
<rect x="506.6" y="120.7" width="2.8" height="2.8" fill="#bac7e4" stroke="#1c46a6" stroke-width="1.0"/>
<polyline points="399.0,98.0 412.0,105.0 430.0,108.0 450.0,112.0 470.0,116.0 492.0,123.3" fill="none" stroke="#1a3e9c" stroke-width="1.25" stroke-dasharray="1.2 1"/>
<rect x="397.6" y="96.6" width="2.8" height="2.8" fill="#bac5e1" stroke="#1a3e9c" stroke-width="1.0"/>
<rect x="409.5" y="103.0" width="2.8" height="2.8" fill="#bac5e1" stroke="#1a3e9c" stroke-width="1.0"/>
<rect x="418.0" y="104.8" width="2.8" height="2.8" fill="#bac5e1" stroke="#1a3e9c" stroke-width="1.0"/>
<rect x="426.5" y="106.2" width="2.8" height="2.8" fill="#bac5e1" stroke="#1a3e9c" stroke-width="1.0"/>
<rect x="435.0" y="107.9" width="2.8" height="2.8" fill="#bac5e1" stroke="#1a3e9c" stroke-width="1.0"/>
<rect x="443.5" y="109.6" width="2.8" height="2.8" fill="#bac5e1" stroke="#1a3e9c" stroke-width="1.0"/>
<rect x="452.0" y="111.3" width="2.8" height="2.8" fill="#bac5e1" stroke="#1a3e9c" stroke-width="1.0"/>
<rect x="460.5" y="113.0" width="2.8" height="2.8" fill="#bac5e1" stroke="#1a3e9c" stroke-width="1.0"/>
<rect x="469.0" y="114.7" width="2.8" height="2.8" fill="#bac5e1" stroke="#1a3e9c" stroke-width="1.0"/>
<rect x="477.5" y="117.6" width="2.8" height="2.8" fill="#bac5e1" stroke="#1a3e9c" stroke-width="1.0"/>
<rect x="486.0" y="120.4" width="2.8" height="2.8" fill="#bac5e1" stroke="#1a3e9c" stroke-width="1.0"/>
<rect x="490.6" y="121.9" width="2.8" height="2.8" fill="#bac5e1" stroke="#1a3e9c" stroke-width="1.0"/>
<polyline points="399.0,97.0 410.0,104.0 425.0,107.0 445.0,112.0 465.0,116.0 485.0,120.0" fill="none" stroke="#193690" stroke-width="1.25" stroke-dasharray="1.2 1"/>
<rect x="397.6" y="95.6" width="2.8" height="2.8" fill="#bac2dd" stroke="#193690" stroke-width="1.0"/>
<rect x="401.9" y="98.3" width="2.8" height="2.8" fill="#bac2dd" stroke="#193690" stroke-width="1.0"/>
<rect x="410.4" y="102.9" width="2.8" height="2.8" fill="#bac2dd" stroke="#193690" stroke-width="1.0"/>
<rect x="418.9" y="104.6" width="2.8" height="2.8" fill="#bac2dd" stroke="#193690" stroke-width="1.0"/>
<rect x="427.4" y="106.5" width="2.8" height="2.8" fill="#bac2dd" stroke="#193690" stroke-width="1.0"/>
<rect x="435.9" y="108.7" width="2.8" height="2.8" fill="#bac2dd" stroke="#193690" stroke-width="1.0"/>
<rect x="444.4" y="110.8" width="2.8" height="2.8" fill="#bac2dd" stroke="#193690" stroke-width="1.0"/>
<rect x="452.9" y="112.4" width="2.8" height="2.8" fill="#bac2dd" stroke="#193690" stroke-width="1.0"/>
<rect x="461.4" y="114.1" width="2.8" height="2.8" fill="#bac2dd" stroke="#193690" stroke-width="1.0"/>
<rect x="469.9" y="115.8" width="2.8" height="2.8" fill="#bac2dd" stroke="#193690" stroke-width="1.0"/>
<rect x="478.4" y="117.5" width="2.8" height="2.8" fill="#bac2dd" stroke="#193690" stroke-width="1.0"/>
<rect x="483.6" y="118.6" width="2.8" height="2.8" fill="#bac2dd" stroke="#193690" stroke-width="1.0"/>
<polyline points="399.0,92.0 403.0,98.0 408.0,99.0 414.0,91.6 422.4,86.4 430.9,80.0 438.4,72.4" fill="none" stroke="#dc5428" stroke-width="1.25"/>
<circle cx="399.0" cy="92.0" r="1.45" fill="#e47e5d" stroke="#dc5428" stroke-width="1.0"/>
<circle cx="402.5" cy="97.2" r="1.45" fill="#e47e5d" stroke="#dc5428" stroke-width="1.0"/>
<circle cx="406.0" cy="98.6" r="1.45" fill="#e47e5d" stroke="#dc5428" stroke-width="1.0"/>
<circle cx="409.5" cy="97.2" r="1.45" fill="#e47e5d" stroke="#dc5428" stroke-width="1.0"/>
<circle cx="413.0" cy="92.8" r="1.45" fill="#e47e5d" stroke="#dc5428" stroke-width="1.0"/>
<circle cx="416.5" cy="90.1" r="1.45" fill="#e47e5d" stroke="#dc5428" stroke-width="1.0"/>
<circle cx="420.9" cy="87.4" r="1.45" fill="#e47e5d" stroke="#dc5428" stroke-width="1.0"/>
<circle cx="429.4" cy="81.2" r="1.45" fill="#e47e5d" stroke="#dc5428" stroke-width="1.0"/>
<circle cx="438.4" cy="72.4" r="1.45" fill="#e47e5d" stroke="#dc5428" stroke-width="1.0"/>
<polyline points="399.0,95.0 405.0,101.0 412.0,100.0 422.0,89.5 435.0,83.2 447.5,79.2" fill="none" stroke="#d4482a" stroke-width="1.25"/>
<circle cx="399.0" cy="95.0" r="1.45" fill="#de755f" stroke="#d4482a" stroke-width="1.0"/>
<circle cx="402.5" cy="98.5" r="1.45" fill="#de755f" stroke="#d4482a" stroke-width="1.0"/>
<circle cx="406.0" cy="100.9" r="1.45" fill="#de755f" stroke="#d4482a" stroke-width="1.0"/>
<circle cx="409.5" cy="100.4" r="1.45" fill="#de755f" stroke="#d4482a" stroke-width="1.0"/>
<circle cx="413.0" cy="99.0" r="1.45" fill="#de755f" stroke="#d4482a" stroke-width="1.0"/>
<circle cx="416.5" cy="95.3" r="1.45" fill="#de755f" stroke="#d4482a" stroke-width="1.0"/>
<circle cx="421.7" cy="89.8" r="1.45" fill="#de755f" stroke="#d4482a" stroke-width="1.0"/>
<circle cx="430.2" cy="85.5" r="1.45" fill="#de755f" stroke="#d4482a" stroke-width="1.0"/>
<circle cx="438.7" cy="82.0" r="1.45" fill="#de755f" stroke="#d4482a" stroke-width="1.0"/>
<circle cx="447.5" cy="79.2" r="1.45" fill="#de755f" stroke="#d4482a" stroke-width="1.0"/>
<polyline points="399.0,96.0 406.0,103.0 415.0,101.0 425.0,95.0 433.0,92.7 441.0,88.5 448.2,85.3" fill="none" stroke="#c83c2c" stroke-width="1.25"/>
<circle cx="399.0" cy="96.0" r="1.45" fill="#d56c60" stroke="#c83c2c" stroke-width="1.0"/>
<circle cx="402.5" cy="99.5" r="1.45" fill="#d56c60" stroke="#c83c2c" stroke-width="1.0"/>
<circle cx="406.0" cy="103.0" r="1.45" fill="#d56c60" stroke="#c83c2c" stroke-width="1.0"/>
<circle cx="409.5" cy="102.2" r="1.45" fill="#d56c60" stroke="#c83c2c" stroke-width="1.0"/>
<circle cx="413.0" cy="101.4" r="1.45" fill="#d56c60" stroke="#c83c2c" stroke-width="1.0"/>
<circle cx="416.5" cy="100.1" r="1.45" fill="#d56c60" stroke="#c83c2c" stroke-width="1.0"/>
<circle cx="422.6" cy="96.5" r="1.45" fill="#d56c60" stroke="#c83c2c" stroke-width="1.0"/>
<circle cx="431.1" cy="93.3" r="1.45" fill="#d56c60" stroke="#c83c2c" stroke-width="1.0"/>
<circle cx="439.6" cy="89.3" r="1.45" fill="#d56c60" stroke="#c83c2c" stroke-width="1.0"/>
<circle cx="448.2" cy="85.3" r="1.45" fill="#d56c60" stroke="#c83c2c" stroke-width="1.0"/>
<polyline points="399.0,98.0 406.0,104.0 415.0,104.0 425.0,101.0 435.0,100.0 445.0,101.0 455.0,102.0" fill="none" stroke="#bc302e" stroke-width="1.25"/>
<circle cx="399.0" cy="98.0" r="1.45" fill="#cc6362" stroke="#bc302e" stroke-width="1.0"/>
<circle cx="402.5" cy="101.0" r="1.45" fill="#cc6362" stroke="#bc302e" stroke-width="1.0"/>
<circle cx="406.0" cy="104.0" r="1.45" fill="#cc6362" stroke="#bc302e" stroke-width="1.0"/>
<circle cx="409.5" cy="104.0" r="1.45" fill="#cc6362" stroke="#bc302e" stroke-width="1.0"/>
<circle cx="413.0" cy="104.0" r="1.45" fill="#cc6362" stroke="#bc302e" stroke-width="1.0"/>
<circle cx="416.5" cy="103.5" r="1.45" fill="#cc6362" stroke="#bc302e" stroke-width="1.0"/>
<circle cx="423.4" cy="101.5" r="1.45" fill="#cc6362" stroke="#bc302e" stroke-width="1.0"/>
<circle cx="431.9" cy="100.3" r="1.45" fill="#cc6362" stroke="#bc302e" stroke-width="1.0"/>
<circle cx="440.4" cy="100.5" r="1.45" fill="#cc6362" stroke="#bc302e" stroke-width="1.0"/>
<circle cx="448.9" cy="101.4" r="1.45" fill="#cc6362" stroke="#bc302e" stroke-width="1.0"/>
<circle cx="455.0" cy="102.0" r="1.45" fill="#cc6362" stroke="#bc302e" stroke-width="1.0"/>
<polyline points="399.0,100.0 406.0,105.0 417.6,107.5 426.7,107.5 435.7,103.0 442.5,99.6 448.2,101.9 456.1,100.7" fill="none" stroke="#b82834" stroke-width="1.25" stroke-dasharray="1.2 1"/>
<circle cx="399.0" cy="100.0" r="1.45" fill="#e9bec2" stroke="#b82834" stroke-width="1.0"/>
<circle cx="402.5" cy="102.5" r="1.45" fill="#e9bec2" stroke="#b82834" stroke-width="1.0"/>
<circle cx="406.0" cy="105.0" r="1.45" fill="#e9bec2" stroke="#b82834" stroke-width="1.0"/>
<circle cx="409.5" cy="105.8" r="1.45" fill="#e9bec2" stroke="#b82834" stroke-width="1.0"/>
<circle cx="413.0" cy="106.5" r="1.45" fill="#e9bec2" stroke="#b82834" stroke-width="1.0"/>
<circle cx="416.5" cy="107.3" r="1.45" fill="#e9bec2" stroke="#b82834" stroke-width="1.0"/>
<circle cx="424.2" cy="107.5" r="1.45" fill="#e9bec2" stroke="#b82834" stroke-width="1.0"/>
<circle cx="432.8" cy="104.5" r="1.45" fill="#e9bec2" stroke="#b82834" stroke-width="1.0"/>
<circle cx="441.2" cy="100.2" r="1.45" fill="#e9bec2" stroke="#b82834" stroke-width="1.0"/>
<circle cx="449.8" cy="101.7" r="1.45" fill="#e9bec2" stroke="#b82834" stroke-width="1.0"/>
<circle cx="456.1" cy="100.7" r="1.45" fill="#e9bec2" stroke="#b82834" stroke-width="1.0"/>
<polyline points="399.0,101.0 404.0,106.0 412.0,108.0 420.0,106.0 430.0,104.0 440.0,103.0" fill="none" stroke="#ac2238" stroke-width="1.25" stroke-dasharray="1.2 1"/>
<circle cx="399.0" cy="101.0" r="1.45" fill="#e6bcc3" stroke="#ac2238" stroke-width="1.0"/>
<circle cx="402.5" cy="104.5" r="1.45" fill="#e6bcc3" stroke="#ac2238" stroke-width="1.0"/>
<circle cx="406.0" cy="106.5" r="1.45" fill="#e6bcc3" stroke="#ac2238" stroke-width="1.0"/>
<circle cx="409.5" cy="107.4" r="1.45" fill="#e6bcc3" stroke="#ac2238" stroke-width="1.0"/>
<circle cx="413.0" cy="107.8" r="1.45" fill="#e6bcc3" stroke="#ac2238" stroke-width="1.0"/>
<circle cx="416.5" cy="106.9" r="1.45" fill="#e6bcc3" stroke="#ac2238" stroke-width="1.0"/>
<circle cx="425.1" cy="105.0" r="1.45" fill="#e6bcc3" stroke="#ac2238" stroke-width="1.0"/>
<circle cx="433.6" cy="103.6" r="1.45" fill="#e6bcc3" stroke="#ac2238" stroke-width="1.0"/>
<circle cx="440.0" cy="103.0" r="1.45" fill="#e6bcc3" stroke="#ac2238" stroke-width="1.0"/>
<polyline points="399.0,103.0 404.0,107.0 412.0,107.0 420.0,105.0 428.0,103.0" fill="none" stroke="#a01c3a" stroke-width="1.25" stroke-dasharray="1.2 1"/>
<circle cx="399.0" cy="103.0" r="1.45" fill="#e2bac3" stroke="#a01c3a" stroke-width="1.0"/>
<circle cx="402.5" cy="105.8" r="1.45" fill="#e2bac3" stroke="#a01c3a" stroke-width="1.0"/>
<circle cx="406.0" cy="107.0" r="1.45" fill="#e2bac3" stroke="#a01c3a" stroke-width="1.0"/>
<circle cx="409.5" cy="107.0" r="1.45" fill="#e2bac3" stroke="#a01c3a" stroke-width="1.0"/>
<circle cx="413.0" cy="106.8" r="1.45" fill="#e2bac3" stroke="#a01c3a" stroke-width="1.0"/>
<circle cx="416.5" cy="105.9" r="1.45" fill="#e2bac3" stroke="#a01c3a" stroke-width="1.0"/>
<circle cx="425.9" cy="103.5" r="1.45" fill="#e2bac3" stroke="#a01c3a" stroke-width="1.0"/>
<circle cx="428.0" cy="103.0" r="1.45" fill="#e2bac3" stroke="#a01c3a" stroke-width="1.0"/>
<polyline points="577.0,42.0 600.0,62.0 623.0,78.0 641.2,93.0 661.6,103.7 672.2,114.2 682.7,128.7" fill="none" stroke="#58a426" stroke-width="1.25"/>
<path d="M577.0 40.1L578.9 42.0L577.0 43.9L575.1 42.0Z" fill="#81ba5c" stroke="#58a426" stroke-width="1.0"/>
<path d="M584.2 46.3L586.1 48.2L584.2 50.1L582.3 48.2Z" fill="#81ba5c" stroke="#58a426" stroke-width="1.0"/>
<path d="M591.3 52.6L593.2 54.5L591.3 56.4L589.4 54.5Z" fill="#81ba5c" stroke="#58a426" stroke-width="1.0"/>
<path d="M598.5 58.8L600.4 60.7L598.5 62.6L596.6 60.7Z" fill="#81ba5c" stroke="#58a426" stroke-width="1.0"/>
<path d="M606.2 64.4L608.1 66.3L606.2 68.2L604.3 66.3Z" fill="#81ba5c" stroke="#58a426" stroke-width="1.0"/>
<path d="M614.0 69.8L615.9 71.7L614.0 73.6L612.1 71.7Z" fill="#81ba5c" stroke="#58a426" stroke-width="1.0"/>
<path d="M621.8 75.2L623.7 77.1L621.8 79.0L619.9 77.1Z" fill="#81ba5c" stroke="#58a426" stroke-width="1.0"/>
<path d="M629.2 81.2L631.1 83.1L629.2 85.0L627.3 83.1Z" fill="#81ba5c" stroke="#58a426" stroke-width="1.0"/>
<path d="M636.5 87.2L638.4 89.1L636.5 91.0L634.6 89.1Z" fill="#81ba5c" stroke="#58a426" stroke-width="1.0"/>
<path d="M644.2 92.7L646.1 94.6L644.2 96.5L642.3 94.6Z" fill="#81ba5c" stroke="#58a426" stroke-width="1.0"/>
<path d="M652.6 97.1L654.5 99.0L652.6 100.9L650.7 99.0Z" fill="#81ba5c" stroke="#58a426" stroke-width="1.0"/>
<path d="M661.1 101.5L663.0 103.4L661.1 105.3L659.2 103.4Z" fill="#81ba5c" stroke="#58a426" stroke-width="1.0"/>
<path d="M667.9 108.1L669.8 110.0L667.9 111.9L666.0 110.0Z" fill="#81ba5c" stroke="#58a426" stroke-width="1.0"/>
<path d="M674.2 115.1L676.1 117.0L674.2 118.9L672.3 117.0Z" fill="#81ba5c" stroke="#58a426" stroke-width="1.0"/>
<path d="M679.8 122.8L681.7 124.7L679.8 126.6L677.9 124.7Z" fill="#81ba5c" stroke="#58a426" stroke-width="1.0"/>
<path d="M682.7 126.8L684.6 128.7L682.7 130.6L680.8 128.7Z" fill="#81ba5c" stroke="#58a426" stroke-width="1.0"/>
<polyline points="577.0,42.0 595.0,64.0 613.5,79.0 623.5,89.9 634.5,106.7 645.0,120.2 654.0,136.8 663.1,151.9" fill="none" stroke="#509e24" stroke-width="1.25"/>
<path d="M577.0 40.1L578.9 42.0L577.0 43.9L575.1 42.0Z" fill="#7bb65a" stroke="#509e24" stroke-width="1.0"/>
<path d="M583.0 47.5L584.9 49.4L583.0 51.3L581.1 49.4Z" fill="#7bb65a" stroke="#509e24" stroke-width="1.0"/>
<path d="M589.0 54.8L590.9 56.7L589.0 58.6L587.1 56.7Z" fill="#7bb65a" stroke="#509e24" stroke-width="1.0"/>
<path d="M595.1 62.1L597.0 64.0L595.1 65.9L593.2 64.0Z" fill="#7bb65a" stroke="#509e24" stroke-width="1.0"/>
<path d="M602.4 68.1L604.3 70.0L602.4 71.9L600.5 70.0Z" fill="#7bb65a" stroke="#509e24" stroke-width="1.0"/>
<path d="M609.8 74.1L611.7 76.0L609.8 77.9L607.9 76.0Z" fill="#7bb65a" stroke="#509e24" stroke-width="1.0"/>
<path d="M616.7 80.6L618.6 82.5L616.7 84.4L614.8 82.5Z" fill="#7bb65a" stroke="#509e24" stroke-width="1.0"/>
<path d="M623.1 87.6L625.0 89.5L623.1 91.4L621.2 89.5Z" fill="#7bb65a" stroke="#509e24" stroke-width="1.0"/>
<path d="M628.4 95.5L630.3 97.4L628.4 99.3L626.5 97.4Z" fill="#7bb65a" stroke="#509e24" stroke-width="1.0"/>
<path d="M633.6 103.4L635.5 105.3L633.6 107.2L631.7 105.3Z" fill="#7bb65a" stroke="#509e24" stroke-width="1.0"/>
<path d="M639.3 111.0L641.2 112.9L639.3 114.8L637.4 112.9Z" fill="#7bb65a" stroke="#509e24" stroke-width="1.0"/>
<path d="M645.1 118.5L647.0 120.4L645.1 122.3L643.2 120.4Z" fill="#7bb65a" stroke="#509e24" stroke-width="1.0"/>
<path d="M649.7 126.9L651.6 128.8L649.7 130.7L647.8 128.8Z" fill="#7bb65a" stroke="#509e24" stroke-width="1.0"/>
<path d="M654.2 135.2L656.1 137.1L654.2 139.0L652.3 137.1Z" fill="#7bb65a" stroke="#509e24" stroke-width="1.0"/>
<path d="M659.1 143.4L661.0 145.3L659.1 147.2L657.2 145.3Z" fill="#7bb65a" stroke="#509e24" stroke-width="1.0"/>
<path d="M663.1 150.0L665.0 151.9L663.1 153.8L661.2 151.9Z" fill="#7bb65a" stroke="#509e24" stroke-width="1.0"/>
<polyline points="577.0,42.0 590.0,62.0 600.8,79.0 608.0,91.7 613.5,104.4 620.7,120.6 625.0,132.0 631.1,150.8 639.0,173.0" fill="none" stroke="#489822" stroke-width="1.25"/>
<path d="M577.0 40.1L578.9 42.0L577.0 43.9L575.1 42.0Z" fill="#75b159" stroke="#489822" stroke-width="1.0"/>
<path d="M582.2 48.1L584.1 50.0L582.2 51.9L580.3 50.0Z" fill="#75b159" stroke="#489822" stroke-width="1.0"/>
<path d="M587.4 56.0L589.3 57.9L587.4 59.8L585.5 57.9Z" fill="#75b159" stroke="#489822" stroke-width="1.0"/>
<path d="M592.5 64.0L594.4 65.9L592.5 67.8L590.6 65.9Z" fill="#75b159" stroke="#489822" stroke-width="1.0"/>
<path d="M597.6 72.0L599.5 73.9L597.6 75.8L595.7 73.9Z" fill="#75b159" stroke="#489822" stroke-width="1.0"/>
<path d="M602.5 80.1L604.4 82.0L602.5 83.9L600.6 82.0Z" fill="#75b159" stroke="#489822" stroke-width="1.0"/>
<path d="M607.2 88.4L609.1 90.3L607.2 92.2L605.3 90.3Z" fill="#75b159" stroke="#489822" stroke-width="1.0"/>
<path d="M611.1 97.1L613.0 99.0L611.1 100.9L609.2 99.0Z" fill="#75b159" stroke="#489822" stroke-width="1.0"/>
<path d="M614.9 105.8L616.8 107.7L614.9 109.6L613.0 107.7Z" fill="#75b159" stroke="#489822" stroke-width="1.0"/>
<path d="M618.8 114.4L620.7 116.3L618.8 118.2L616.9 116.3Z" fill="#75b159" stroke="#489822" stroke-width="1.0"/>
<path d="M622.4 123.2L624.3 125.1L622.4 127.0L620.5 125.1Z" fill="#75b159" stroke="#489822" stroke-width="1.0"/>
<path d="M625.7 132.1L627.6 134.0L625.7 135.9L623.8 134.0Z" fill="#75b159" stroke="#489822" stroke-width="1.0"/>
<path d="M628.6 141.2L630.5 143.1L628.6 145.0L626.7 143.1Z" fill="#75b159" stroke="#489822" stroke-width="1.0"/>
<path d="M631.6 150.2L633.5 152.1L631.6 154.0L629.7 152.1Z" fill="#75b159" stroke="#489822" stroke-width="1.0"/>
<path d="M634.8 159.2L636.7 161.1L634.8 163.0L632.9 161.1Z" fill="#75b159" stroke="#489822" stroke-width="1.0"/>
<path d="M637.9 168.1L639.8 170.0L637.9 171.9L636.0 170.0Z" fill="#75b159" stroke="#489822" stroke-width="1.0"/>
<path d="M639.0 171.1L640.9 173.0L639.0 174.9L637.1 173.0Z" fill="#75b159" stroke="#489822" stroke-width="1.0"/>
<polyline points="577.0,40.4 589.5,50.4 605.0,60.4 624.9,69.5 648.0,84.1 664.6,93.1 675.2,105.2 685.7,111.2 695.7,119.6" fill="none" stroke="#409220" stroke-width="1.25"/>
<path d="M577.0 38.5L578.9 40.4L577.0 42.3L575.1 40.4Z" fill="#6fad57" stroke="#409220" stroke-width="1.0"/>
<path d="M584.4 44.4L586.3 46.3L584.4 48.2L582.5 46.3Z" fill="#6fad57" stroke="#409220" stroke-width="1.0"/>
<path d="M592.0 50.1L593.9 52.0L592.0 53.9L590.1 52.0Z" fill="#6fad57" stroke="#409220" stroke-width="1.0"/>
<path d="M600.0 55.3L601.9 57.2L600.0 59.1L598.1 57.2Z" fill="#6fad57" stroke="#409220" stroke-width="1.0"/>
<path d="M608.2 60.0L610.1 61.9L608.2 63.8L606.3 61.9Z" fill="#6fad57" stroke="#409220" stroke-width="1.0"/>
<path d="M616.9 63.9L618.8 65.8L616.9 67.7L615.0 65.8Z" fill="#6fad57" stroke="#409220" stroke-width="1.0"/>
<path d="M625.5 68.0L627.4 69.9L625.5 71.8L623.6 69.9Z" fill="#6fad57" stroke="#409220" stroke-width="1.0"/>
<path d="M633.5 73.0L635.4 74.9L633.5 76.8L631.6 74.9Z" fill="#6fad57" stroke="#409220" stroke-width="1.0"/>
<path d="M641.5 78.1L643.4 80.0L641.5 81.9L639.6 80.0Z" fill="#6fad57" stroke="#409220" stroke-width="1.0"/>
<path d="M649.6 83.1L651.5 85.0L649.6 86.9L647.7 85.0Z" fill="#6fad57" stroke="#409220" stroke-width="1.0"/>
<path d="M658.0 87.6L659.9 89.5L658.0 91.4L656.1 89.5Z" fill="#6fad57" stroke="#409220" stroke-width="1.0"/>
<path d="M665.9 92.7L667.8 94.6L665.9 96.5L664.0 94.6Z" fill="#6fad57" stroke="#409220" stroke-width="1.0"/>
<path d="M672.1 99.8L674.0 101.7L672.1 103.6L670.2 101.7Z" fill="#6fad57" stroke="#409220" stroke-width="1.0"/>
<path d="M679.4 105.7L681.3 107.6L679.4 109.5L677.5 107.6Z" fill="#6fad57" stroke="#409220" stroke-width="1.0"/>
<path d="M687.4 110.8L689.3 112.7L687.4 114.6L685.5 112.7Z" fill="#6fad57" stroke="#409220" stroke-width="1.0"/>
<path d="M695.7 117.7L697.6 119.6L695.7 121.5L693.8 119.6Z" fill="#6fad57" stroke="#409220" stroke-width="1.0"/>
<polyline points="577.0,41.0 600.0,60.0 623.0,76.0 641.0,88.0 652.6,103.7" fill="none" stroke="#328c1e" stroke-width="1.25" stroke-dasharray="1.2 1"/>
<path d="M577.0 39.1L578.9 41.0L577.0 42.9L575.1 41.0Z" fill="#c1dcbb" stroke="#328c1e" stroke-width="1.0"/>
<path d="M584.3 45.2L586.2 47.1L584.3 49.0L582.4 47.1Z" fill="#c1dcbb" stroke="#328c1e" stroke-width="1.0"/>
<path d="M591.6 51.2L593.5 53.1L591.6 55.0L589.7 53.1Z" fill="#c1dcbb" stroke="#328c1e" stroke-width="1.0"/>
<path d="M599.0 57.3L600.9 59.2L599.0 61.1L597.1 59.2Z" fill="#c1dcbb" stroke="#328c1e" stroke-width="1.0"/>
<path d="M606.7 62.8L608.6 64.7L606.7 66.6L604.8 64.7Z" fill="#c1dcbb" stroke="#328c1e" stroke-width="1.0"/>
<path d="M614.5 68.2L616.4 70.1L614.5 72.0L612.6 70.1Z" fill="#c1dcbb" stroke="#328c1e" stroke-width="1.0"/>
<path d="M622.3 73.6L624.2 75.5L622.3 77.4L620.4 75.5Z" fill="#c1dcbb" stroke="#328c1e" stroke-width="1.0"/>
<path d="M630.2 78.9L632.1 80.8L630.2 82.7L628.3 80.8Z" fill="#c1dcbb" stroke="#328c1e" stroke-width="1.0"/>
<path d="M638.1 84.2L640.0 86.1L638.1 88.0L636.2 86.1Z" fill="#c1dcbb" stroke="#328c1e" stroke-width="1.0"/>
<path d="M644.6 90.9L646.5 92.8L644.6 94.7L642.7 92.8Z" fill="#c1dcbb" stroke="#328c1e" stroke-width="1.0"/>
<path d="M650.2 98.6L652.1 100.5L650.2 102.4L648.3 100.5Z" fill="#c1dcbb" stroke="#328c1e" stroke-width="1.0"/>
<path d="M652.6 101.8L654.5 103.7L652.6 105.6L650.7 103.7Z" fill="#c1dcbb" stroke="#328c1e" stroke-width="1.0"/>
<polyline points="577.0,41.0 600.0,61.0 623.0,75.0 641.0,85.0 660.0,95.0" fill="none" stroke="#2a841e" stroke-width="1.25" stroke-dasharray="1.2 1"/>
<path d="M577.0 39.1L578.9 41.0L577.0 42.9L575.1 41.0Z" fill="#bfdabb" stroke="#2a841e" stroke-width="1.0"/>
<path d="M584.2 45.3L586.1 47.2L584.2 49.1L582.3 47.2Z" fill="#bfdabb" stroke="#2a841e" stroke-width="1.0"/>
<path d="M591.3 51.6L593.2 53.5L591.3 55.4L589.4 53.5Z" fill="#bfdabb" stroke="#2a841e" stroke-width="1.0"/>
<path d="M598.5 57.8L600.4 59.7L598.5 61.6L596.6 59.7Z" fill="#bfdabb" stroke="#2a841e" stroke-width="1.0"/>
<path d="M606.4 63.0L608.3 64.9L606.4 66.8L604.5 64.9Z" fill="#bfdabb" stroke="#2a841e" stroke-width="1.0"/>
<path d="M614.5 67.9L616.4 69.8L614.5 71.7L612.6 69.8Z" fill="#bfdabb" stroke="#2a841e" stroke-width="1.0"/>
<path d="M622.7 72.9L624.6 74.8L622.7 76.7L620.8 74.8Z" fill="#bfdabb" stroke="#2a841e" stroke-width="1.0"/>
<path d="M631.0 77.5L632.9 79.4L631.0 81.3L629.1 79.4Z" fill="#bfdabb" stroke="#2a841e" stroke-width="1.0"/>
<path d="M639.3 82.1L641.2 84.0L639.3 85.9L637.4 84.0Z" fill="#bfdabb" stroke="#2a841e" stroke-width="1.0"/>
<path d="M647.6 86.6L649.5 88.5L647.6 90.4L645.7 88.5Z" fill="#bfdabb" stroke="#2a841e" stroke-width="1.0"/>
<path d="M656.0 91.0L657.9 92.9L656.0 94.8L654.1 92.9Z" fill="#bfdabb" stroke="#2a841e" stroke-width="1.0"/>
<path d="M660.0 93.1L661.9 95.0L660.0 96.9L658.1 95.0Z" fill="#bfdabb" stroke="#2a841e" stroke-width="1.0"/>
<polyline points="577.0,41.0 600.0,59.0 625.0,73.0 650.0,86.0 668.0,98.0" fill="none" stroke="#247c1c" stroke-width="1.25" stroke-dasharray="1.2 1"/>
<path d="M577.0 39.1L578.9 41.0L577.0 42.9L575.1 41.0Z" fill="#bdd7ba" stroke="#247c1c" stroke-width="1.0"/>
<path d="M584.5 45.0L586.4 46.9L584.5 48.8L582.6 46.9Z" fill="#bdd7ba" stroke="#247c1c" stroke-width="1.0"/>
<path d="M592.0 50.8L593.9 52.7L592.0 54.6L590.1 52.7Z" fill="#bdd7ba" stroke="#247c1c" stroke-width="1.0"/>
<path d="M599.4 56.7L601.3 58.6L599.4 60.5L597.5 58.6Z" fill="#bdd7ba" stroke="#247c1c" stroke-width="1.0"/>
<path d="M607.7 61.4L609.6 63.3L607.7 65.2L605.8 63.3Z" fill="#bdd7ba" stroke="#247c1c" stroke-width="1.0"/>
<path d="M616.0 66.0L617.9 67.9L616.0 69.8L614.1 67.9Z" fill="#bdd7ba" stroke="#247c1c" stroke-width="1.0"/>
<path d="M624.3 70.7L626.2 72.6L624.3 74.5L622.4 72.6Z" fill="#bdd7ba" stroke="#247c1c" stroke-width="1.0"/>
<path d="M632.7 75.1L634.6 77.0L632.7 78.9L630.8 77.0Z" fill="#bdd7ba" stroke="#247c1c" stroke-width="1.0"/>
<path d="M641.1 79.5L643.0 81.4L641.1 83.3L639.2 81.4Z" fill="#bdd7ba" stroke="#247c1c" stroke-width="1.0"/>
<path d="M649.5 83.9L651.4 85.8L649.5 87.7L647.6 85.8Z" fill="#bdd7ba" stroke="#247c1c" stroke-width="1.0"/>
<path d="M657.5 89.1L659.4 91.0L657.5 92.9L655.6 91.0Z" fill="#bdd7ba" stroke="#247c1c" stroke-width="1.0"/>
<path d="M665.4 94.3L667.3 96.2L665.4 98.1L663.5 96.2Z" fill="#bdd7ba" stroke="#247c1c" stroke-width="1.0"/>
<path d="M668.0 96.1L669.9 98.0L668.0 99.9L666.1 98.0Z" fill="#bdd7ba" stroke="#247c1c" stroke-width="1.0"/>
<polyline points="577.0,42.0 587.0,59.0 605.0,70.0 623.0,82.0 651.0,99.0 660.0,111.0 667.6,120.0 673.3,132.7 679.7,141.3" fill="none" stroke="#1f70cc" stroke-width="1.25"/>
<rect x="575.6" y="40.6" width="2.8" height="2.8" fill="#5793d8" stroke="#1f70cc" stroke-width="1.0"/>
<rect x="580.4" y="48.8" width="2.8" height="2.8" fill="#5793d8" stroke="#1f70cc" stroke-width="1.0"/>
<rect x="585.2" y="57.0" width="2.8" height="2.8" fill="#5793d8" stroke="#1f70cc" stroke-width="1.0"/>
<rect x="593.1" y="62.2" width="2.8" height="2.8" fill="#5793d8" stroke="#1f70cc" stroke-width="1.0"/>
<rect x="601.2" y="67.1" width="2.8" height="2.8" fill="#5793d8" stroke="#1f70cc" stroke-width="1.0"/>
<rect x="609.2" y="72.3" width="2.8" height="2.8" fill="#5793d8" stroke="#1f70cc" stroke-width="1.0"/>
<rect x="617.1" y="77.6" width="2.8" height="2.8" fill="#5793d8" stroke="#1f70cc" stroke-width="1.0"/>
<rect x="625.1" y="82.7" width="2.8" height="2.8" fill="#5793d8" stroke="#1f70cc" stroke-width="1.0"/>
<rect x="633.2" y="87.6" width="2.8" height="2.8" fill="#5793d8" stroke="#1f70cc" stroke-width="1.0"/>
<rect x="641.3" y="92.6" width="2.8" height="2.8" fill="#5793d8" stroke="#1f70cc" stroke-width="1.0"/>
<rect x="649.4" y="97.5" width="2.8" height="2.8" fill="#5793d8" stroke="#1f70cc" stroke-width="1.0"/>
<rect x="655.2" y="105.0" width="2.8" height="2.8" fill="#5793d8" stroke="#1f70cc" stroke-width="1.0"/>
<rect x="661.0" y="112.5" width="2.8" height="2.8" fill="#5793d8" stroke="#1f70cc" stroke-width="1.0"/>
<rect x="666.8" y="120.0" width="2.8" height="2.8" fill="#5793d8" stroke="#1f70cc" stroke-width="1.0"/>
<rect x="670.7" y="128.6" width="2.8" height="2.8" fill="#5793d8" stroke="#1f70cc" stroke-width="1.0"/>
<rect x="675.8" y="136.6" width="2.8" height="2.8" fill="#5793d8" stroke="#1f70cc" stroke-width="1.0"/>
<rect x="678.3" y="139.9" width="2.8" height="2.8" fill="#5793d8" stroke="#1f70cc" stroke-width="1.0"/>
<polyline points="577.0,42.0 586.0,58.0 605.0,68.0 623.0,79.0 648.0,96.0 660.0,107.0 672.2,124.8" fill="none" stroke="#1c64c2" stroke-width="1.25"/>
<rect x="575.6" y="40.6" width="2.8" height="2.8" fill="#548ad1" stroke="#1c64c2" stroke-width="1.0"/>
<rect x="580.3" y="48.9" width="2.8" height="2.8" fill="#548ad1" stroke="#1c64c2" stroke-width="1.0"/>
<rect x="585.2" y="56.9" width="2.8" height="2.8" fill="#548ad1" stroke="#1c64c2" stroke-width="1.0"/>
<rect x="593.6" y="61.3" width="2.8" height="2.8" fill="#548ad1" stroke="#1c64c2" stroke-width="1.0"/>
<rect x="602.0" y="65.7" width="2.8" height="2.8" fill="#548ad1" stroke="#1c64c2" stroke-width="1.0"/>
<rect x="610.1" y="70.6" width="2.8" height="2.8" fill="#548ad1" stroke="#1c64c2" stroke-width="1.0"/>
<rect x="618.3" y="75.6" width="2.8" height="2.8" fill="#548ad1" stroke="#1c64c2" stroke-width="1.0"/>
<rect x="626.2" y="80.7" width="2.8" height="2.8" fill="#548ad1" stroke="#1c64c2" stroke-width="1.0"/>
<rect x="634.1" y="86.1" width="2.8" height="2.8" fill="#548ad1" stroke="#1c64c2" stroke-width="1.0"/>
<rect x="641.9" y="91.4" width="2.8" height="2.8" fill="#548ad1" stroke="#1c64c2" stroke-width="1.0"/>
<rect x="649.4" y="97.2" width="2.8" height="2.8" fill="#548ad1" stroke="#1c64c2" stroke-width="1.0"/>
<rect x="656.4" y="103.6" width="2.8" height="2.8" fill="#548ad1" stroke="#1c64c2" stroke-width="1.0"/>
<rect x="662.3" y="111.0" width="2.8" height="2.8" fill="#548ad1" stroke="#1c64c2" stroke-width="1.0"/>
<rect x="667.7" y="118.9" width="2.8" height="2.8" fill="#548ad1" stroke="#1c64c2" stroke-width="1.0"/>
<rect x="670.8" y="123.4" width="2.8" height="2.8" fill="#548ad1" stroke="#1c64c2" stroke-width="1.0"/>
<polyline points="577.0,40.0 582.0,50.0 602.0,60.0 623.0,70.0 648.0,84.0 669.2,95.0 685.7,103.7" fill="none" stroke="#1a58b8" stroke-width="1.25"/>
<rect x="575.6" y="38.6" width="2.8" height="2.8" fill="#5381c9" stroke="#1a58b8" stroke-width="1.0"/>
<rect x="579.8" y="47.1" width="2.8" height="2.8" fill="#5381c9" stroke="#1a58b8" stroke-width="1.0"/>
<rect x="587.6" y="52.1" width="2.8" height="2.8" fill="#5381c9" stroke="#1a58b8" stroke-width="1.0"/>
<rect x="596.1" y="56.3" width="2.8" height="2.8" fill="#5381c9" stroke="#1a58b8" stroke-width="1.0"/>
<rect x="604.6" y="60.5" width="2.8" height="2.8" fill="#5381c9" stroke="#1a58b8" stroke-width="1.0"/>
<rect x="613.2" y="64.6" width="2.8" height="2.8" fill="#5381c9" stroke="#1a58b8" stroke-width="1.0"/>
<rect x="621.8" y="68.7" width="2.8" height="2.8" fill="#5381c9" stroke="#1a58b8" stroke-width="1.0"/>
<rect x="630.1" y="73.3" width="2.8" height="2.8" fill="#5381c9" stroke="#1a58b8" stroke-width="1.0"/>
<rect x="638.4" y="78.0" width="2.8" height="2.8" fill="#5381c9" stroke="#1a58b8" stroke-width="1.0"/>
<rect x="646.6" y="82.6" width="2.8" height="2.8" fill="#5381c9" stroke="#1a58b8" stroke-width="1.0"/>
<rect x="655.1" y="87.0" width="2.8" height="2.8" fill="#5381c9" stroke="#1a58b8" stroke-width="1.0"/>
<rect x="663.5" y="91.4" width="2.8" height="2.8" fill="#5381c9" stroke="#1a58b8" stroke-width="1.0"/>
<rect x="671.9" y="95.8" width="2.8" height="2.8" fill="#5381c9" stroke="#1a58b8" stroke-width="1.0"/>
<rect x="680.3" y="100.2" width="2.8" height="2.8" fill="#5381c9" stroke="#1a58b8" stroke-width="1.0"/>
<rect x="684.3" y="102.3" width="2.8" height="2.8" fill="#5381c9" stroke="#1a58b8" stroke-width="1.0"/>
<polyline points="577.0,41.0 583.0,53.0 602.0,62.0 623.0,73.0 641.0,81.0 660.0,91.0 668.0,96.0" fill="none" stroke="#1a4eae" stroke-width="1.25"/>
<rect x="575.6" y="39.6" width="2.8" height="2.8" fill="#537ac2" stroke="#1a4eae" stroke-width="1.0"/>
<rect x="579.8" y="48.1" width="2.8" height="2.8" fill="#537ac2" stroke="#1a4eae" stroke-width="1.0"/>
<rect x="586.6" y="54.0" width="2.8" height="2.8" fill="#537ac2" stroke="#1a4eae" stroke-width="1.0"/>
<rect x="595.2" y="58.1" width="2.8" height="2.8" fill="#537ac2" stroke="#1a4eae" stroke-width="1.0"/>
<rect x="603.8" y="62.3" width="2.8" height="2.8" fill="#537ac2" stroke="#1a4eae" stroke-width="1.0"/>
<rect x="612.2" y="66.7" width="2.8" height="2.8" fill="#537ac2" stroke="#1a4eae" stroke-width="1.0"/>
<rect x="620.6" y="71.1" width="2.8" height="2.8" fill="#537ac2" stroke="#1a4eae" stroke-width="1.0"/>
<rect x="629.2" y="75.0" width="2.8" height="2.8" fill="#537ac2" stroke="#1a4eae" stroke-width="1.0"/>
<rect x="637.9" y="78.9" width="2.8" height="2.8" fill="#537ac2" stroke="#1a4eae" stroke-width="1.0"/>
<rect x="646.4" y="83.2" width="2.8" height="2.8" fill="#537ac2" stroke="#1a4eae" stroke-width="1.0"/>
<rect x="654.8" y="87.6" width="2.8" height="2.8" fill="#537ac2" stroke="#1a4eae" stroke-width="1.0"/>
<rect x="663.0" y="92.3" width="2.8" height="2.8" fill="#537ac2" stroke="#1a4eae" stroke-width="1.0"/>
<rect x="666.6" y="94.6" width="2.8" height="2.8" fill="#537ac2" stroke="#1a4eae" stroke-width="1.0"/>
<polyline points="577.0,41.0 584.0,55.0 603.0,64.0 623.0,75.0 641.0,84.0 655.0,92.0 662.0,95.0" fill="none" stroke="#1c46a6" stroke-width="1.25" stroke-dasharray="1.2 1"/>
<rect x="575.6" y="39.6" width="2.8" height="2.8" fill="#bac7e4" stroke="#1c46a6" stroke-width="1.0"/>
<rect x="579.8" y="48.1" width="2.8" height="2.8" fill="#bac7e4" stroke="#1c46a6" stroke-width="1.0"/>
<rect x="585.6" y="55.0" width="2.8" height="2.8" fill="#bac7e4" stroke="#1c46a6" stroke-width="1.0"/>
<rect x="594.2" y="59.1" width="2.8" height="2.8" fill="#bac7e4" stroke="#1c46a6" stroke-width="1.0"/>
<rect x="602.8" y="63.2" width="2.8" height="2.8" fill="#bac7e4" stroke="#1c46a6" stroke-width="1.0"/>
<rect x="611.1" y="67.8" width="2.8" height="2.8" fill="#bac7e4" stroke="#1c46a6" stroke-width="1.0"/>
<rect x="619.4" y="72.4" width="2.8" height="2.8" fill="#bac7e4" stroke="#1c46a6" stroke-width="1.0"/>
<rect x="627.9" y="76.7" width="2.8" height="2.8" fill="#bac7e4" stroke="#1c46a6" stroke-width="1.0"/>
<rect x="636.4" y="81.0" width="2.8" height="2.8" fill="#bac7e4" stroke="#1c46a6" stroke-width="1.0"/>
<rect x="644.7" y="85.5" width="2.8" height="2.8" fill="#bac7e4" stroke="#1c46a6" stroke-width="1.0"/>
<rect x="652.9" y="90.2" width="2.8" height="2.8" fill="#bac7e4" stroke="#1c46a6" stroke-width="1.0"/>
<rect x="660.6" y="93.6" width="2.8" height="2.8" fill="#bac7e4" stroke="#1c46a6" stroke-width="1.0"/>
<polyline points="577.0,42.0 585.0,57.0 603.0,66.0 623.0,77.0 641.0,87.0 655.0,95.0 665.0,101.0" fill="none" stroke="#1a3e9c" stroke-width="1.25" stroke-dasharray="1.2 1"/>
<rect x="575.6" y="40.6" width="2.8" height="2.8" fill="#bac5e1" stroke="#1a3e9c" stroke-width="1.0"/>
<rect x="580.1" y="49.0" width="2.8" height="2.8" fill="#bac5e1" stroke="#1a3e9c" stroke-width="1.0"/>
<rect x="585.4" y="56.5" width="2.8" height="2.8" fill="#bac5e1" stroke="#1a3e9c" stroke-width="1.0"/>
<rect x="593.9" y="60.7" width="2.8" height="2.8" fill="#bac5e1" stroke="#1a3e9c" stroke-width="1.0"/>
<rect x="602.4" y="65.0" width="2.8" height="2.8" fill="#bac5e1" stroke="#1a3e9c" stroke-width="1.0"/>
<rect x="610.7" y="69.6" width="2.8" height="2.8" fill="#bac5e1" stroke="#1a3e9c" stroke-width="1.0"/>
<rect x="619.0" y="74.2" width="2.8" height="2.8" fill="#bac5e1" stroke="#1a3e9c" stroke-width="1.0"/>
<rect x="627.3" y="78.8" width="2.8" height="2.8" fill="#bac5e1" stroke="#1a3e9c" stroke-width="1.0"/>
<rect x="635.6" y="83.4" width="2.8" height="2.8" fill="#bac5e1" stroke="#1a3e9c" stroke-width="1.0"/>
<rect x="643.9" y="88.1" width="2.8" height="2.8" fill="#bac5e1" stroke="#1a3e9c" stroke-width="1.0"/>
<rect x="652.2" y="92.8" width="2.8" height="2.8" fill="#bac5e1" stroke="#1a3e9c" stroke-width="1.0"/>
<rect x="660.3" y="97.6" width="2.8" height="2.8" fill="#bac5e1" stroke="#1a3e9c" stroke-width="1.0"/>
<rect x="663.6" y="99.6" width="2.8" height="2.8" fill="#bac5e1" stroke="#1a3e9c" stroke-width="1.0"/>
<polyline points="577.0,42.0 586.0,58.0 604.0,68.0 623.0,80.0 641.0,90.0 660.0,103.0 670.0,110.0" fill="none" stroke="#193690" stroke-width="1.25" stroke-dasharray="1.2 1"/>
<rect x="575.6" y="40.6" width="2.8" height="2.8" fill="#bac2dd" stroke="#193690" stroke-width="1.0"/>
<rect x="580.3" y="48.9" width="2.8" height="2.8" fill="#bac2dd" stroke="#193690" stroke-width="1.0"/>
<rect x="585.2" y="56.9" width="2.8" height="2.8" fill="#bac2dd" stroke="#193690" stroke-width="1.0"/>
<rect x="593.5" y="61.5" width="2.8" height="2.8" fill="#bac2dd" stroke="#193690" stroke-width="1.0"/>
<rect x="601.8" y="66.1" width="2.8" height="2.8" fill="#bac2dd" stroke="#193690" stroke-width="1.0"/>
<rect x="609.8" y="71.2" width="2.8" height="2.8" fill="#bac2dd" stroke="#193690" stroke-width="1.0"/>
<rect x="617.9" y="76.2" width="2.8" height="2.8" fill="#bac2dd" stroke="#193690" stroke-width="1.0"/>
<rect x="626.0" y="81.1" width="2.8" height="2.8" fill="#bac2dd" stroke="#193690" stroke-width="1.0"/>
<rect x="634.3" y="85.7" width="2.8" height="2.8" fill="#bac2dd" stroke="#193690" stroke-width="1.0"/>
<rect x="642.5" y="90.6" width="2.8" height="2.8" fill="#bac2dd" stroke="#193690" stroke-width="1.0"/>
<rect x="650.3" y="95.9" width="2.8" height="2.8" fill="#bac2dd" stroke="#193690" stroke-width="1.0"/>
<rect x="658.2" y="101.3" width="2.8" height="2.8" fill="#bac2dd" stroke="#193690" stroke-width="1.0"/>
<rect x="665.9" y="106.7" width="2.8" height="2.8" fill="#bac2dd" stroke="#193690" stroke-width="1.0"/>
<rect x="668.6" y="108.6" width="2.8" height="2.8" fill="#bac2dd" stroke="#193690" stroke-width="1.0"/>
<polyline points="577.0,45.0 586.0,58.0 598.1,73.6 604.5,80.8 611.7,90.8 619.8,102.5 627.1,116.1" fill="none" stroke="#dc5428" stroke-width="1.25"/>
<circle cx="577.0" cy="45.0" r="1.45" fill="#e47e5d" stroke="#dc5428" stroke-width="1.0"/>
<circle cx="581.0" cy="50.8" r="1.45" fill="#e47e5d" stroke="#dc5428" stroke-width="1.0"/>
<circle cx="585.0" cy="56.5" r="1.45" fill="#e47e5d" stroke="#dc5428" stroke-width="1.0"/>
<circle cx="589.2" cy="62.1" r="1.45" fill="#e47e5d" stroke="#dc5428" stroke-width="1.0"/>
<circle cx="593.5" cy="67.6" r="1.45" fill="#e47e5d" stroke="#dc5428" stroke-width="1.0"/>
<circle cx="597.8" cy="73.2" r="1.45" fill="#e47e5d" stroke="#dc5428" stroke-width="1.0"/>
<circle cx="602.4" cy="78.4" r="1.45" fill="#e47e5d" stroke="#dc5428" stroke-width="1.0"/>
<circle cx="606.7" cy="83.9" r="1.45" fill="#e47e5d" stroke="#dc5428" stroke-width="1.0"/>
<circle cx="610.8" cy="89.6" r="1.45" fill="#e47e5d" stroke="#dc5428" stroke-width="1.0"/>
<circle cx="614.8" cy="95.3" r="1.45" fill="#e47e5d" stroke="#dc5428" stroke-width="1.0"/>
<circle cx="618.8" cy="101.1" r="1.45" fill="#e47e5d" stroke="#dc5428" stroke-width="1.0"/>
<circle cx="622.3" cy="107.1" r="1.45" fill="#e47e5d" stroke="#dc5428" stroke-width="1.0"/>
<circle cx="625.6" cy="113.3" r="1.45" fill="#e47e5d" stroke="#dc5428" stroke-width="1.0"/>
<circle cx="627.1" cy="116.1" r="1.45" fill="#e47e5d" stroke="#dc5428" stroke-width="1.0"/>
<polyline points="577.0,45.0 585.0,62.0 596.3,85.4 602.7,88.1 614.4,98.9 619.8,104.4 626.2,113.4" fill="none" stroke="#d4482a" stroke-width="1.25"/>
<circle cx="577.0" cy="45.0" r="1.45" fill="#de755f" stroke="#d4482a" stroke-width="1.0"/>
<circle cx="580.0" cy="51.3" r="1.45" fill="#de755f" stroke="#d4482a" stroke-width="1.0"/>
<circle cx="583.0" cy="57.7" r="1.45" fill="#de755f" stroke="#d4482a" stroke-width="1.0"/>
<circle cx="586.0" cy="64.0" r="1.45" fill="#de755f" stroke="#d4482a" stroke-width="1.0"/>
<circle cx="589.0" cy="70.3" r="1.45" fill="#de755f" stroke="#d4482a" stroke-width="1.0"/>
<circle cx="592.0" cy="76.6" r="1.45" fill="#de755f" stroke="#d4482a" stroke-width="1.0"/>
<circle cx="595.1" cy="82.9" r="1.45" fill="#de755f" stroke="#d4482a" stroke-width="1.0"/>
<circle cx="600.2" cy="87.0" r="1.45" fill="#de755f" stroke="#d4482a" stroke-width="1.0"/>
<circle cx="605.8" cy="91.0" r="1.45" fill="#de755f" stroke="#d4482a" stroke-width="1.0"/>
<circle cx="611.0" cy="95.8" r="1.45" fill="#de755f" stroke="#d4482a" stroke-width="1.0"/>
<circle cx="616.1" cy="100.6" r="1.45" fill="#de755f" stroke="#d4482a" stroke-width="1.0"/>
<circle cx="620.8" cy="105.7" r="1.45" fill="#de755f" stroke="#d4482a" stroke-width="1.0"/>
<circle cx="626.2" cy="113.4" r="1.45" fill="#de755f" stroke="#d4482a" stroke-width="1.0"/>
<polyline points="577.0,46.0 584.0,60.0 592.7,78.1 602.7,95.0 610.0,112.0 616.7,130.6" fill="none" stroke="#c83c2c" stroke-width="1.25"/>
<circle cx="577.0" cy="46.0" r="1.45" fill="#d56c60" stroke="#c83c2c" stroke-width="1.0"/>
<circle cx="580.1" cy="52.3" r="1.45" fill="#d56c60" stroke="#c83c2c" stroke-width="1.0"/>
<circle cx="583.3" cy="58.5" r="1.45" fill="#d56c60" stroke="#c83c2c" stroke-width="1.0"/>
<circle cx="586.3" cy="64.8" r="1.45" fill="#d56c60" stroke="#c83c2c" stroke-width="1.0"/>
<circle cx="589.3" cy="71.1" r="1.45" fill="#d56c60" stroke="#c83c2c" stroke-width="1.0"/>
<circle cx="592.4" cy="77.4" r="1.45" fill="#d56c60" stroke="#c83c2c" stroke-width="1.0"/>
<circle cx="595.9" cy="83.5" r="1.45" fill="#d56c60" stroke="#c83c2c" stroke-width="1.0"/>
<circle cx="599.5" cy="89.5" r="1.45" fill="#d56c60" stroke="#c83c2c" stroke-width="1.0"/>
<circle cx="602.9" cy="95.6" r="1.45" fill="#d56c60" stroke="#c83c2c" stroke-width="1.0"/>
<circle cx="605.7" cy="102.0" r="1.45" fill="#d56c60" stroke="#c83c2c" stroke-width="1.0"/>
<circle cx="608.5" cy="108.4" r="1.45" fill="#d56c60" stroke="#c83c2c" stroke-width="1.0"/>
<circle cx="611.1" cy="114.9" r="1.45" fill="#d56c60" stroke="#c83c2c" stroke-width="1.0"/>
<circle cx="613.4" cy="121.5" r="1.45" fill="#d56c60" stroke="#c83c2c" stroke-width="1.0"/>
<circle cx="616.7" cy="130.6" r="1.45" fill="#d56c60" stroke="#c83c2c" stroke-width="1.0"/>
<polyline points="577.0,44.0 582.0,55.0 588.0,66.0 594.0,78.0 600.0,90.0 607.0,104.0" fill="none" stroke="#bc302e" stroke-width="1.25"/>
<circle cx="577.0" cy="44.0" r="1.45" fill="#cc6362" stroke="#bc302e" stroke-width="1.0"/>
<circle cx="579.9" cy="50.4" r="1.45" fill="#cc6362" stroke="#bc302e" stroke-width="1.0"/>
<circle cx="582.9" cy="56.7" r="1.45" fill="#cc6362" stroke="#bc302e" stroke-width="1.0"/>
<circle cx="586.3" cy="62.8" r="1.45" fill="#cc6362" stroke="#bc302e" stroke-width="1.0"/>
<circle cx="589.5" cy="69.0" r="1.45" fill="#cc6362" stroke="#bc302e" stroke-width="1.0"/>
<circle cx="592.6" cy="75.3" r="1.45" fill="#cc6362" stroke="#bc302e" stroke-width="1.0"/>
<circle cx="595.8" cy="81.6" r="1.45" fill="#cc6362" stroke="#bc302e" stroke-width="1.0"/>
<circle cx="598.9" cy="87.8" r="1.45" fill="#cc6362" stroke="#bc302e" stroke-width="1.0"/>
<circle cx="602.0" cy="94.1" r="1.45" fill="#cc6362" stroke="#bc302e" stroke-width="1.0"/>
<circle cx="605.2" cy="100.3" r="1.45" fill="#cc6362" stroke="#bc302e" stroke-width="1.0"/>
<circle cx="607.0" cy="104.0" r="1.45" fill="#cc6362" stroke="#bc302e" stroke-width="1.0"/>
<polyline points="577.0,45.0 583.0,58.0 591.8,77.2 599.9,87.2 607.2,107.1 616.1,131.2 625.1,140.2 634.2,153.8" fill="none" stroke="#b82834" stroke-width="1.25" stroke-dasharray="1.2 1"/>
<circle cx="577.0" cy="45.0" r="1.45" fill="#e9bec2" stroke="#b82834" stroke-width="1.0"/>
<circle cx="579.9" cy="51.4" r="1.45" fill="#e9bec2" stroke="#b82834" stroke-width="1.0"/>
<circle cx="582.9" cy="57.7" r="1.45" fill="#e9bec2" stroke="#b82834" stroke-width="1.0"/>
<circle cx="585.8" cy="64.1" r="1.45" fill="#e9bec2" stroke="#b82834" stroke-width="1.0"/>
<circle cx="588.7" cy="70.4" r="1.45" fill="#e9bec2" stroke="#b82834" stroke-width="1.0"/>
<circle cx="591.6" cy="76.8" r="1.45" fill="#e9bec2" stroke="#b82834" stroke-width="1.0"/>
<circle cx="595.9" cy="82.3" r="1.45" fill="#e9bec2" stroke="#b82834" stroke-width="1.0"/>
<circle cx="600.1" cy="87.9" r="1.45" fill="#e9bec2" stroke="#b82834" stroke-width="1.0"/>
<circle cx="602.5" cy="94.4" r="1.45" fill="#e9bec2" stroke="#b82834" stroke-width="1.0"/>
<circle cx="605.0" cy="101.0" r="1.45" fill="#e9bec2" stroke="#b82834" stroke-width="1.0"/>
<circle cx="607.4" cy="107.6" r="1.45" fill="#e9bec2" stroke="#b82834" stroke-width="1.0"/>
<circle cx="609.8" cy="114.1" r="1.45" fill="#e9bec2" stroke="#b82834" stroke-width="1.0"/>
<circle cx="612.2" cy="120.7" r="1.45" fill="#e9bec2" stroke="#b82834" stroke-width="1.0"/>
<circle cx="614.6" cy="127.3" r="1.45" fill="#e9bec2" stroke="#b82834" stroke-width="1.0"/>
<circle cx="618.1" cy="133.2" r="1.45" fill="#e9bec2" stroke="#b82834" stroke-width="1.0"/>
<circle cx="623.0" cy="138.1" r="1.45" fill="#e9bec2" stroke="#b82834" stroke-width="1.0"/>
<circle cx="627.4" cy="143.6" r="1.45" fill="#e9bec2" stroke="#b82834" stroke-width="1.0"/>
<circle cx="631.3" cy="149.4" r="1.45" fill="#e9bec2" stroke="#b82834" stroke-width="1.0"/>
<circle cx="634.2" cy="153.8" r="1.45" fill="#e9bec2" stroke="#b82834" stroke-width="1.0"/>
<polyline points="577.0,45.0 584.0,58.0 590.0,70.0 596.0,82.0 603.0,95.0 608.0,106.0" fill="none" stroke="#ac2238" stroke-width="1.25" stroke-dasharray="1.2 1"/>
<circle cx="577.0" cy="45.0" r="1.45" fill="#e6bcc3" stroke="#ac2238" stroke-width="1.0"/>
<circle cx="580.3" cy="51.2" r="1.45" fill="#e6bcc3" stroke="#ac2238" stroke-width="1.0"/>
<circle cx="583.6" cy="57.3" r="1.45" fill="#e6bcc3" stroke="#ac2238" stroke-width="1.0"/>
<circle cx="586.8" cy="63.6" r="1.45" fill="#e6bcc3" stroke="#ac2238" stroke-width="1.0"/>
<circle cx="589.9" cy="69.8" r="1.45" fill="#e6bcc3" stroke="#ac2238" stroke-width="1.0"/>
<circle cx="593.0" cy="76.1" r="1.45" fill="#e6bcc3" stroke="#ac2238" stroke-width="1.0"/>
<circle cx="596.2" cy="82.4" r="1.45" fill="#e6bcc3" stroke="#ac2238" stroke-width="1.0"/>
<circle cx="599.5" cy="88.5" r="1.45" fill="#e6bcc3" stroke="#ac2238" stroke-width="1.0"/>
<circle cx="602.8" cy="94.7" r="1.45" fill="#e6bcc3" stroke="#ac2238" stroke-width="1.0"/>
<circle cx="605.7" cy="101.0" r="1.45" fill="#e6bcc3" stroke="#ac2238" stroke-width="1.0"/>
<circle cx="608.0" cy="106.0" r="1.45" fill="#e6bcc3" stroke="#ac2238" stroke-width="1.0"/>
<polyline points="577.0,46.0 581.0,58.0 586.0,70.0 592.0,82.0 598.0,94.0 603.0,104.0" fill="none" stroke="#a01c3a" stroke-width="1.25" stroke-dasharray="1.2 1"/>
<circle cx="577.0" cy="46.0" r="1.45" fill="#e2bac3" stroke="#a01c3a" stroke-width="1.0"/>
<circle cx="579.2" cy="52.6" r="1.45" fill="#e2bac3" stroke="#a01c3a" stroke-width="1.0"/>
<circle cx="581.5" cy="59.2" r="1.45" fill="#e2bac3" stroke="#a01c3a" stroke-width="1.0"/>
<circle cx="584.2" cy="65.7" r="1.45" fill="#e2bac3" stroke="#a01c3a" stroke-width="1.0"/>
<circle cx="587.1" cy="72.1" r="1.45" fill="#e2bac3" stroke="#a01c3a" stroke-width="1.0"/>
<circle cx="590.2" cy="78.4" r="1.45" fill="#e2bac3" stroke="#a01c3a" stroke-width="1.0"/>
<circle cx="593.3" cy="84.6" r="1.45" fill="#e2bac3" stroke="#a01c3a" stroke-width="1.0"/>
<circle cx="596.4" cy="90.9" r="1.45" fill="#e2bac3" stroke="#a01c3a" stroke-width="1.0"/>
<circle cx="599.6" cy="97.1" r="1.45" fill="#e2bac3" stroke="#a01c3a" stroke-width="1.0"/>
<circle cx="603.0" cy="104.0" r="1.45" fill="#e2bac3" stroke="#a01c3a" stroke-width="1.0"/>
<rect x="41.2" y="20.5" width="131.3" height="169.8" fill="none" stroke="#969696" stroke-width="1.2"/>
<line x1="41.2" y1="190.3" x2="41.2" y2="188.8" stroke="#969696" stroke-width="0.9"/>
<line x1="41.2" y1="20.5" x2="41.2" y2="22.0" stroke="#969696" stroke-width="0.9"/>
<line x1="106.9" y1="190.3" x2="106.9" y2="188.8" stroke="#969696" stroke-width="0.9"/>
<line x1="106.9" y1="20.5" x2="106.9" y2="22.0" stroke="#969696" stroke-width="0.9"/>
<line x1="172.5" y1="190.3" x2="172.5" y2="188.8" stroke="#969696" stroke-width="0.9"/>
<line x1="172.5" y1="20.5" x2="172.5" y2="22.0" stroke="#969696" stroke-width="0.9"/>
<line x1="41.2" y1="190.3" x2="42.7" y2="190.3" stroke="#969696" stroke-width="0.9"/>
<line x1="172.5" y1="190.3" x2="171.0" y2="190.3" stroke="#969696" stroke-width="0.9"/>
<line x1="41.2" y1="166.0" x2="42.7" y2="166.0" stroke="#969696" stroke-width="0.9"/>
<line x1="172.5" y1="166.0" x2="171.0" y2="166.0" stroke="#969696" stroke-width="0.9"/>
<line x1="41.2" y1="141.8" x2="42.7" y2="141.8" stroke="#969696" stroke-width="0.9"/>
<line x1="172.5" y1="141.8" x2="171.0" y2="141.8" stroke="#969696" stroke-width="0.9"/>
<line x1="41.2" y1="117.5" x2="42.7" y2="117.5" stroke="#969696" stroke-width="0.9"/>
<line x1="172.5" y1="117.5" x2="171.0" y2="117.5" stroke="#969696" stroke-width="0.9"/>
<line x1="41.2" y1="93.3" x2="42.7" y2="93.3" stroke="#969696" stroke-width="0.9"/>
<line x1="172.5" y1="93.3" x2="171.0" y2="93.3" stroke="#969696" stroke-width="0.9"/>
<line x1="41.2" y1="69.0" x2="42.7" y2="69.0" stroke="#969696" stroke-width="0.9"/>
<line x1="172.5" y1="69.0" x2="171.0" y2="69.0" stroke="#969696" stroke-width="0.9"/>
<line x1="41.2" y1="44.8" x2="42.7" y2="44.8" stroke="#969696" stroke-width="0.9"/>
<line x1="172.5" y1="44.8" x2="171.0" y2="44.8" stroke="#969696" stroke-width="0.9"/>
<line x1="41.2" y1="20.5" x2="42.7" y2="20.5" stroke="#969696" stroke-width="0.9"/>
<line x1="172.5" y1="20.5" x2="171.0" y2="20.5" stroke="#969696" stroke-width="0.9"/>
<rect x="219.9" y="20.5" width="131.3" height="169.8" fill="none" stroke="#969696" stroke-width="1.2"/>
<line x1="219.9" y1="190.3" x2="219.9" y2="188.8" stroke="#969696" stroke-width="0.9"/>
<line x1="219.9" y1="20.5" x2="219.9" y2="22.0" stroke="#969696" stroke-width="0.9"/>
<line x1="285.6" y1="190.3" x2="285.6" y2="188.8" stroke="#969696" stroke-width="0.9"/>
<line x1="285.6" y1="20.5" x2="285.6" y2="22.0" stroke="#969696" stroke-width="0.9"/>
<line x1="351.2" y1="190.3" x2="351.2" y2="188.8" stroke="#969696" stroke-width="0.9"/>
<line x1="351.2" y1="20.5" x2="351.2" y2="22.0" stroke="#969696" stroke-width="0.9"/>
<line x1="219.9" y1="190.3" x2="221.4" y2="190.3" stroke="#969696" stroke-width="0.9"/>
<line x1="351.2" y1="190.3" x2="349.7" y2="190.3" stroke="#969696" stroke-width="0.9"/>
<line x1="219.9" y1="166.0" x2="221.4" y2="166.0" stroke="#969696" stroke-width="0.9"/>
<line x1="351.2" y1="166.0" x2="349.7" y2="166.0" stroke="#969696" stroke-width="0.9"/>
<line x1="219.9" y1="141.8" x2="221.4" y2="141.8" stroke="#969696" stroke-width="0.9"/>
<line x1="351.2" y1="141.8" x2="349.7" y2="141.8" stroke="#969696" stroke-width="0.9"/>
<line x1="219.9" y1="117.5" x2="221.4" y2="117.5" stroke="#969696" stroke-width="0.9"/>
<line x1="351.2" y1="117.5" x2="349.7" y2="117.5" stroke="#969696" stroke-width="0.9"/>
<line x1="219.9" y1="93.3" x2="221.4" y2="93.3" stroke="#969696" stroke-width="0.9"/>
<line x1="351.2" y1="93.3" x2="349.7" y2="93.3" stroke="#969696" stroke-width="0.9"/>
<line x1="219.9" y1="69.0" x2="221.4" y2="69.0" stroke="#969696" stroke-width="0.9"/>
<line x1="351.2" y1="69.0" x2="349.7" y2="69.0" stroke="#969696" stroke-width="0.9"/>
<line x1="219.9" y1="44.8" x2="221.4" y2="44.8" stroke="#969696" stroke-width="0.9"/>
<line x1="351.2" y1="44.8" x2="349.7" y2="44.8" stroke="#969696" stroke-width="0.9"/>
<line x1="219.9" y1="20.5" x2="221.4" y2="20.5" stroke="#969696" stroke-width="0.9"/>
<line x1="351.2" y1="20.5" x2="349.7" y2="20.5" stroke="#969696" stroke-width="0.9"/>
<rect x="398.7" y="20.5" width="131.3" height="169.8" fill="none" stroke="#969696" stroke-width="1.2"/>
<line x1="398.7" y1="190.3" x2="398.7" y2="188.8" stroke="#969696" stroke-width="0.9"/>
<line x1="398.7" y1="20.5" x2="398.7" y2="22.0" stroke="#969696" stroke-width="0.9"/>
<line x1="464.4" y1="190.3" x2="464.4" y2="188.8" stroke="#969696" stroke-width="0.9"/>
<line x1="464.4" y1="20.5" x2="464.4" y2="22.0" stroke="#969696" stroke-width="0.9"/>
<line x1="530.0" y1="190.3" x2="530.0" y2="188.8" stroke="#969696" stroke-width="0.9"/>
<line x1="530.0" y1="20.5" x2="530.0" y2="22.0" stroke="#969696" stroke-width="0.9"/>
<line x1="398.7" y1="190.3" x2="400.2" y2="190.3" stroke="#969696" stroke-width="0.9"/>
<line x1="530.0" y1="190.3" x2="528.5" y2="190.3" stroke="#969696" stroke-width="0.9"/>
<line x1="398.7" y1="147.9" x2="400.2" y2="147.9" stroke="#969696" stroke-width="0.9"/>
<line x1="530.0" y1="147.9" x2="528.5" y2="147.9" stroke="#969696" stroke-width="0.9"/>
<line x1="398.7" y1="105.4" x2="400.2" y2="105.4" stroke="#969696" stroke-width="0.9"/>
<line x1="530.0" y1="105.4" x2="528.5" y2="105.4" stroke="#969696" stroke-width="0.9"/>
<line x1="398.7" y1="63.0" x2="400.2" y2="63.0" stroke="#969696" stroke-width="0.9"/>
<line x1="530.0" y1="63.0" x2="528.5" y2="63.0" stroke="#969696" stroke-width="0.9"/>
<line x1="398.7" y1="20.5" x2="400.2" y2="20.5" stroke="#969696" stroke-width="0.9"/>
<line x1="530.0" y1="20.5" x2="528.5" y2="20.5" stroke="#969696" stroke-width="0.9"/>
<rect x="577.2" y="20.5" width="131.3" height="169.8" fill="none" stroke="#969696" stroke-width="1.2"/>
<line x1="577.2" y1="190.3" x2="577.2" y2="188.8" stroke="#969696" stroke-width="0.9"/>
<line x1="577.2" y1="20.5" x2="577.2" y2="22.0" stroke="#969696" stroke-width="0.9"/>
<line x1="642.9" y1="190.3" x2="642.9" y2="188.8" stroke="#969696" stroke-width="0.9"/>
<line x1="642.9" y1="20.5" x2="642.9" y2="22.0" stroke="#969696" stroke-width="0.9"/>
<line x1="708.5" y1="190.3" x2="708.5" y2="188.8" stroke="#969696" stroke-width="0.9"/>
<line x1="708.5" y1="20.5" x2="708.5" y2="22.0" stroke="#969696" stroke-width="0.9"/>
<line x1="577.2" y1="190.3" x2="578.7" y2="190.3" stroke="#969696" stroke-width="0.9"/>
<line x1="708.5" y1="190.3" x2="707.0" y2="190.3" stroke="#969696" stroke-width="0.9"/>
<line x1="577.2" y1="166.0" x2="578.7" y2="166.0" stroke="#969696" stroke-width="0.9"/>
<line x1="708.5" y1="166.0" x2="707.0" y2="166.0" stroke="#969696" stroke-width="0.9"/>
<line x1="577.2" y1="141.8" x2="578.7" y2="141.8" stroke="#969696" stroke-width="0.9"/>
<line x1="708.5" y1="141.8" x2="707.0" y2="141.8" stroke="#969696" stroke-width="0.9"/>
<line x1="577.2" y1="117.5" x2="578.7" y2="117.5" stroke="#969696" stroke-width="0.9"/>
<line x1="708.5" y1="117.5" x2="707.0" y2="117.5" stroke="#969696" stroke-width="0.9"/>
<line x1="577.2" y1="93.3" x2="578.7" y2="93.3" stroke="#969696" stroke-width="0.9"/>
<line x1="708.5" y1="93.3" x2="707.0" y2="93.3" stroke="#969696" stroke-width="0.9"/>
<line x1="577.2" y1="69.0" x2="578.7" y2="69.0" stroke="#969696" stroke-width="0.9"/>
<line x1="708.5" y1="69.0" x2="707.0" y2="69.0" stroke="#969696" stroke-width="0.9"/>
<line x1="577.2" y1="44.8" x2="578.7" y2="44.8" stroke="#969696" stroke-width="0.9"/>
<line x1="708.5" y1="44.8" x2="707.0" y2="44.8" stroke="#969696" stroke-width="0.9"/>
<line x1="577.2" y1="20.5" x2="578.7" y2="20.5" stroke="#969696" stroke-width="0.9"/>
<line x1="708.5" y1="20.5" x2="707.0" y2="20.5" stroke="#969696" stroke-width="0.9"/>
<text x="37.4" y="194.0" font-size="11.6" text-anchor="end" textLength="19.25" lengthAdjust="spacingAndGlyphs">0.55</text>
<text x="37.4" y="169.7" font-size="11.6" text-anchor="end" textLength="13.75" lengthAdjust="spacingAndGlyphs">0.6</text>
<text x="37.4" y="145.5" font-size="11.6" text-anchor="end" textLength="19.25" lengthAdjust="spacingAndGlyphs">0.65</text>
<text x="37.4" y="121.2" font-size="11.6" text-anchor="end" textLength="13.75" lengthAdjust="spacingAndGlyphs">0.7</text>
<text x="37.4" y="97.0" font-size="11.6" text-anchor="end" textLength="19.25" lengthAdjust="spacingAndGlyphs">0.75</text>
<text x="37.4" y="72.7" font-size="11.6" text-anchor="end" textLength="13.75" lengthAdjust="spacingAndGlyphs">0.8</text>
<text x="37.4" y="48.5" font-size="11.6" text-anchor="end" textLength="19.25" lengthAdjust="spacingAndGlyphs">0.85</text>
<text x="41.2" y="203.5" font-size="11.6" text-anchor="middle" textLength="5.5" lengthAdjust="spacingAndGlyphs">0</text>
<text x="106.9" y="203.5" font-size="11.6" text-anchor="middle" textLength="22.0" lengthAdjust="spacingAndGlyphs">2000</text>
<text x="172.5" y="203.5" font-size="11.6" text-anchor="middle" textLength="22.0" lengthAdjust="spacingAndGlyphs">4000</text>
<text x="106.9" y="218.5" font-size="12" text-anchor="middle" textLength="105.5" lengthAdjust="spacingAndGlyphs">Ah throughput [Ah]</text>
<text x="216.1" y="194.0" font-size="11.6" text-anchor="end" textLength="5.5" lengthAdjust="spacingAndGlyphs">3</text>
<text x="216.1" y="169.7" font-size="11.6" text-anchor="end" textLength="13.75" lengthAdjust="spacingAndGlyphs">3.5</text>
<text x="216.1" y="145.5" font-size="11.6" text-anchor="end" textLength="5.5" lengthAdjust="spacingAndGlyphs">4</text>
<text x="216.1" y="121.2" font-size="11.6" text-anchor="end" textLength="13.75" lengthAdjust="spacingAndGlyphs">4.5</text>
<text x="216.1" y="97.0" font-size="11.6" text-anchor="end" textLength="5.5" lengthAdjust="spacingAndGlyphs">5</text>
<text x="216.1" y="72.7" font-size="11.6" text-anchor="end" textLength="13.75" lengthAdjust="spacingAndGlyphs">5.5</text>
<text x="216.1" y="48.5" font-size="11.6" text-anchor="end" textLength="5.5" lengthAdjust="spacingAndGlyphs">6</text>
<text x="216.1" y="24.2" font-size="11.6" text-anchor="end" textLength="13.75" lengthAdjust="spacingAndGlyphs">6.5</text>
<text x="219.9" y="203.5" font-size="11.6" text-anchor="middle" textLength="5.5" lengthAdjust="spacingAndGlyphs">0</text>
<text x="285.6" y="203.5" font-size="11.6" text-anchor="middle" textLength="22.0" lengthAdjust="spacingAndGlyphs">2000</text>
<text x="351.2" y="203.5" font-size="11.6" text-anchor="middle" textLength="22.0" lengthAdjust="spacingAndGlyphs">4000</text>
<text x="285.6" y="218.5" font-size="12" text-anchor="middle" textLength="105.5" lengthAdjust="spacingAndGlyphs">Ah throughput [Ah]</text>
<text x="394.9" y="194.0" font-size="11.6" text-anchor="end" textLength="13.75" lengthAdjust="spacingAndGlyphs">0.6</text>
<text x="394.9" y="151.6" font-size="11.6" text-anchor="end" textLength="13.75" lengthAdjust="spacingAndGlyphs">0.7</text>
<text x="394.9" y="109.1" font-size="11.6" text-anchor="end" textLength="13.75" lengthAdjust="spacingAndGlyphs">0.8</text>
<text x="394.9" y="66.7" font-size="11.6" text-anchor="end" textLength="13.75" lengthAdjust="spacingAndGlyphs">0.9</text>
<text x="394.9" y="24.2" font-size="11.6" text-anchor="end" textLength="5.5" lengthAdjust="spacingAndGlyphs">1</text>
<text x="398.7" y="203.5" font-size="11.6" text-anchor="middle" textLength="5.5" lengthAdjust="spacingAndGlyphs">0</text>
<text x="464.4" y="203.5" font-size="11.6" text-anchor="middle" textLength="22.0" lengthAdjust="spacingAndGlyphs">2000</text>
<text x="530.0" y="203.5" font-size="11.6" text-anchor="middle" textLength="22.0" lengthAdjust="spacingAndGlyphs">4000</text>
<text x="464.4" y="218.5" font-size="12" text-anchor="middle" textLength="105.5" lengthAdjust="spacingAndGlyphs">Ah throughput [Ah]</text>
<text x="573.4" y="194.0" font-size="11.6" text-anchor="end" textLength="5.5" lengthAdjust="spacingAndGlyphs">3</text>
<text x="573.4" y="169.7" font-size="11.6" text-anchor="end" textLength="13.75" lengthAdjust="spacingAndGlyphs">3.5</text>
<text x="573.4" y="145.5" font-size="11.6" text-anchor="end" textLength="5.5" lengthAdjust="spacingAndGlyphs">4</text>
<text x="573.4" y="121.2" font-size="11.6" text-anchor="end" textLength="13.75" lengthAdjust="spacingAndGlyphs">4.5</text>
<text x="573.4" y="97.0" font-size="11.6" text-anchor="end" textLength="5.5" lengthAdjust="spacingAndGlyphs">5</text>
<text x="573.4" y="72.7" font-size="11.6" text-anchor="end" textLength="13.75" lengthAdjust="spacingAndGlyphs">5.5</text>
<text x="573.4" y="48.5" font-size="11.6" text-anchor="end" textLength="5.5" lengthAdjust="spacingAndGlyphs">6</text>
<text x="573.4" y="24.2" font-size="11.6" text-anchor="end" textLength="13.75" lengthAdjust="spacingAndGlyphs">6.5</text>
<text x="577.2" y="203.5" font-size="11.6" text-anchor="middle" textLength="5.5" lengthAdjust="spacingAndGlyphs">0</text>
<text x="642.9" y="203.5" font-size="11.6" text-anchor="middle" textLength="22.0" lengthAdjust="spacingAndGlyphs">2000</text>
<text x="708.5" y="203.5" font-size="11.6" text-anchor="middle" textLength="22.0" lengthAdjust="spacingAndGlyphs">4000</text>
<text x="642.9" y="218.5" font-size="12" text-anchor="middle" textLength="105.5" lengthAdjust="spacingAndGlyphs">Ah throughput [Ah]</text>
<text x="6.9" y="23.6" font-size="17" textLength="17.6" lengthAdjust="spacingAndGlyphs" style="stroke-width:0.15px">(<tspan font-weight="bold">a</tspan>)</text>
<text x="178.4" y="23.6" font-size="17" textLength="17.6" lengthAdjust="spacingAndGlyphs" style="stroke-width:0.15px">(<tspan font-weight="bold">b</tspan>)</text>
<text x="363.4" y="23.6" font-size="17" textLength="17.6" lengthAdjust="spacingAndGlyphs" style="stroke-width:0.15px">(<tspan font-weight="bold">c</tspan>)</text>
<text x="534.9" y="23.6" font-size="17" textLength="17.6" lengthAdjust="spacingAndGlyphs" style="stroke-width:0.15px">(<tspan font-weight="bold">d</tspan>)</text>
<text transform="translate(11.9,105.6) rotate(-90)" font-size="12.5" text-anchor="middle"><tspan font-style="italic">y</tspan><tspan font-size="9.5" dy="1.8">0</tspan></text>
<text transform="translate(195,105.8) rotate(-90)" font-size="12" text-anchor="middle" textLength="136" lengthAdjust="spacingAndGlyphs">Cathode capacity <tspan font-style="italic">C</tspan><tspan font-style="italic" font-size="8.5" dy="2">p</tspan><tspan dy="-2"> [Ah]</tspan></text>
<text transform="translate(374.1,105.2) rotate(-90)" font-size="12" text-anchor="middle"><tspan font-style="italic">x</tspan><tspan font-size="8.5" dy="2">100</tspan></text>
<text transform="translate(552.7,105.35) rotate(-90)" font-size="12" text-anchor="middle" textLength="125.7" lengthAdjust="spacingAndGlyphs">Anode capacity <tspan font-style="italic">C</tspan><tspan font-style="italic" font-size="8.5" dy="2">n</tspan><tspan dy="-2"> [Ah]</tspan></text>
<text x="152.8" y="260.2" font-size="13.3" text-anchor="start" textLength="64.3" lengthAdjust="spacingAndGlyphs">slow charge</text>
<line x1="227.5" y1="256.3" x2="310" y2="256.3" stroke="#111" stroke-width="1"/>
<path d="M308.4 254.4L314.6 256.3L308.4 258.2Z" fill="#111"/>
<text x="320.5" y="260.2" font-size="13.3" text-anchor="start" textLength="58" lengthAdjust="spacingAndGlyphs">fast charge</text>
<text x="475.5" y="261.3" font-size="14" text-anchor="start" textLength="56.4" lengthAdjust="spacingAndGlyphs">50% DOD</text>
<line x1="411.9" y1="266.8" x2="468.9" y2="256" stroke="#333" stroke-width="0.9"/>
<line x1="537.4" y1="256" x2="593.1" y2="266.8" stroke="#333" stroke-width="0.9"/>
<rect x="156.3" y="269.3" width="434" height="16.7" fill="none" stroke="#8a8a8a" stroke-width="1"/>
<rect x="156.3" y="287.6" width="434" height="16.6" fill="none" stroke="#8a8a8a" stroke-width="1"/>
<rect x="156.3" y="305.8" width="434" height="16.0" fill="none" stroke="#8a8a8a" stroke-width="1"/>
<text x="152.3" y="282.3" font-size="13.6" text-anchor="end" textLength="32.2" lengthAdjust="spacingAndGlyphs">Room</text>
<text x="152.0" y="301.2" font-size="13.6" text-anchor="end" textLength="25.5" lengthAdjust="spacingAndGlyphs">Cold</text>
<text x="152.0" y="317.5" font-size="13.6" text-anchor="end" textLength="19.6" lengthAdjust="spacingAndGlyphs">Hot</text>
<line x1="158.8" y1="277.9" x2="181.1" y2="277.9" stroke="#77b240" stroke-width="1.3"/>
<path d="M170.0 275.8L172.0 277.9L170.0 280.0L167.9 277.9Z" fill="#77b240" stroke="#77b240" stroke-width="1.1"/>
<text x="183.3" y="281.0" font-size="12.8" text-anchor="start" textLength="32.4" lengthAdjust="spacingAndGlyphs">Cell01</text>
<line x1="158.8" y1="295.8" x2="181.1" y2="295.8" stroke="#2d8fd8" stroke-width="1.3"/>
<rect x="168.4" y="294.3" width="3.1" height="3.1" fill="#2d8fd8" stroke="#2d8fd8" stroke-width="1.1"/>
<text x="183.3" y="298.9" font-size="12.8" text-anchor="start" textLength="32.4" lengthAdjust="spacingAndGlyphs">Cell02</text>
<line x1="158.8" y1="313.9" x2="181.1" y2="313.9" stroke="#e86a3a" stroke-width="1.3"/>
<circle cx="170.0" cy="313.9" r="1.59" fill="#e86a3a" stroke="#e86a3a" stroke-width="1.1"/>
<text x="183.3" y="317.0" font-size="12.8" text-anchor="start" textLength="32.4" lengthAdjust="spacingAndGlyphs">Cell03</text>
<line x1="220.7" y1="277.9" x2="243.0" y2="277.9" stroke="#72ae3c" stroke-width="1.3"/>
<path d="M231.8 275.8L233.9 277.9L231.8 280.0L229.7 277.9Z" fill="#72ae3c" stroke="#72ae3c" stroke-width="1.1"/>
<text x="245.2" y="281.0" font-size="12.8" text-anchor="start" textLength="32.4" lengthAdjust="spacingAndGlyphs">Cell04</text>
<line x1="220.7" y1="295.8" x2="243.0" y2="295.8" stroke="#2a80d0" stroke-width="1.3"/>
<rect x="230.3" y="294.3" width="3.1" height="3.1" fill="#2a80d0" stroke="#2a80d0" stroke-width="1.1"/>
<text x="245.2" y="298.9" font-size="12.8" text-anchor="start" textLength="32.4" lengthAdjust="spacingAndGlyphs">Cell05</text>
<line x1="220.7" y1="313.9" x2="243.0" y2="313.9" stroke="#de5c38" stroke-width="1.3"/>
<circle cx="231.8" cy="313.9" r="1.59" fill="#de5c38" stroke="#de5c38" stroke-width="1.1"/>
<text x="245.2" y="317.0" font-size="12.8" text-anchor="start" textLength="32.4" lengthAdjust="spacingAndGlyphs">Cell06</text>
<line x1="282.5" y1="277.9" x2="304.8" y2="277.9" stroke="#62a836" stroke-width="1.3"/>
<path d="M293.7 275.8L295.8 277.9L293.7 280.0L291.6 277.9Z" fill="#62a836" stroke="#62a836" stroke-width="1.1"/>
<text x="307.0" y="281.0" font-size="12.8" text-anchor="start" textLength="32.4" lengthAdjust="spacingAndGlyphs">Cell07</text>
<line x1="282.5" y1="295.8" x2="304.8" y2="295.8" stroke="#2670c4" stroke-width="1.3"/>
<rect x="292.1" y="294.3" width="3.1" height="3.1" fill="#2670c4" stroke="#2670c4" stroke-width="1.1"/>
<text x="307.0" y="298.9" font-size="12.8" text-anchor="start" textLength="32.4" lengthAdjust="spacingAndGlyphs">Cell08</text>
<line x1="282.5" y1="313.9" x2="304.8" y2="313.9" stroke="#d24c36" stroke-width="1.3"/>
<circle cx="293.7" cy="313.9" r="1.59" fill="#d24c36" stroke="#d24c36" stroke-width="1.1"/>
<text x="307.0" y="317.0" font-size="12.8" text-anchor="start" textLength="32.4" lengthAdjust="spacingAndGlyphs">Cell09</text>
<line x1="344.4" y1="277.9" x2="366.7" y2="277.9" stroke="#50a02e" stroke-width="1.3"/>
<path d="M355.6 275.8L357.6 277.9L355.6 280.0L353.5 277.9Z" fill="#50a02e" stroke="#50a02e" stroke-width="1.1"/>
<text x="368.9" y="281.0" font-size="12.8" text-anchor="start" textLength="32.4" lengthAdjust="spacingAndGlyphs">Cell10</text>
<line x1="344.4" y1="295.8" x2="366.7" y2="295.8" stroke="#2f5fb8" stroke-width="1.3"/>
<rect x="354.0" y="294.3" width="3.1" height="3.1" fill="#2f5fb8" stroke="#2f5fb8" stroke-width="1.1"/>
<text x="368.9" y="298.9" font-size="12.8" text-anchor="start" textLength="32.4" lengthAdjust="spacingAndGlyphs">Cell11</text>
<line x1="344.4" y1="313.9" x2="366.7" y2="313.9" stroke="#c83a35" stroke-width="1.3"/>
<circle cx="355.6" cy="313.9" r="1.59" fill="#c83a35" stroke="#c83a35" stroke-width="1.1"/>
<text x="368.9" y="317.0" font-size="12.8" text-anchor="start" textLength="32.4" lengthAdjust="spacingAndGlyphs">Cell12</text>
<line x1="406.3" y1="277.9" x2="428.6" y2="277.9" stroke="#3c982a" stroke-width="1.6" stroke-dasharray="1.1 0.9"/>
<path d="M417.4 275.8L419.5 277.9L417.4 280.0L415.3 277.9Z" fill="#80bc74" stroke="#3c982a" stroke-width="1.1"/>
<text x="430.8" y="281.0" font-size="12.8" text-anchor="start" textLength="32.4" lengthAdjust="spacingAndGlyphs">Cell13</text>
<line x1="406.3" y1="295.8" x2="428.6" y2="295.8" stroke="#2555b4" stroke-width="1.6" stroke-dasharray="1.1 0.9"/>
<rect x="415.9" y="294.3" width="3.1" height="3.1" fill="#7190ce" stroke="#2555b4" stroke-width="1.1"/>
<text x="430.8" y="298.9" font-size="12.8" text-anchor="start" textLength="32.4" lengthAdjust="spacingAndGlyphs">Cell14</text>
<line x1="406.3" y1="313.9" x2="428.6" y2="313.9" stroke="#c0303a" stroke-width="1.6" stroke-dasharray="1.1 0.9"/>
<circle cx="417.4" cy="313.9" r="1.59" fill="#d6787e" stroke="#c0303a" stroke-width="1.1"/>
<text x="430.8" y="317.0" font-size="12.8" text-anchor="start" textLength="32.4" lengthAdjust="spacingAndGlyphs">Cell15</text>
<line x1="468.1" y1="277.9" x2="490.4" y2="277.9" stroke="#30902a" stroke-width="1.6" stroke-dasharray="1.1 0.9"/>
<path d="M479.3 275.8L481.4 277.9L479.3 280.0L477.2 277.9Z" fill="#78b674" stroke="#30902a" stroke-width="1.1"/>
<text x="492.6" y="281.0" font-size="12.8" text-anchor="start" textLength="32.4" lengthAdjust="spacingAndGlyphs">Cell16</text>
<line x1="468.1" y1="295.8" x2="490.4" y2="295.8" stroke="#2248a8" stroke-width="1.6" stroke-dasharray="1.1 0.9"/>
<rect x="477.8" y="294.3" width="3.1" height="3.1" fill="#6f88c6" stroke="#2248a8" stroke-width="1.1"/>
<text x="492.6" y="298.9" font-size="12.8" text-anchor="start" textLength="32.4" lengthAdjust="spacingAndGlyphs">Cell17</text>
<line x1="468.1" y1="313.9" x2="490.4" y2="313.9" stroke="#b42a3e" stroke-width="1.6" stroke-dasharray="1.1 0.9"/>
<circle cx="479.3" cy="313.9" r="1.59" fill="#ce7481" stroke="#b42a3e" stroke-width="1.1"/>
<text x="492.6" y="317.0" font-size="12.8" text-anchor="start" textLength="32.4" lengthAdjust="spacingAndGlyphs">Cell18</text>
<line x1="530.0" y1="277.9" x2="552.3" y2="277.9" stroke="#2a8628" stroke-width="1.6" stroke-dasharray="1.1 0.9"/>
<path d="M541.2 275.8L543.3 277.9L541.2 280.0L539.1 277.9Z" fill="#74b073" stroke="#2a8628" stroke-width="1.1"/>
<text x="554.5" y="281.0" font-size="12.8" text-anchor="start" textLength="32.4" lengthAdjust="spacingAndGlyphs">Cell19</text>
<line x1="530.0" y1="295.8" x2="552.3" y2="295.8" stroke="#1f3e9a" stroke-width="1.6" stroke-dasharray="1.1 0.9"/>
<rect x="539.6" y="294.3" width="3.1" height="3.1" fill="#6d81bd" stroke="#1f3e9a" stroke-width="1.1"/>
<text x="554.5" y="298.9" font-size="12.8" text-anchor="start" textLength="32.4" lengthAdjust="spacingAndGlyphs">Cell20</text>
<line x1="530.0" y1="313.9" x2="552.3" y2="313.9" stroke="#a82240" stroke-width="1.6" stroke-dasharray="1.1 0.9"/>
<circle cx="541.2" cy="313.9" r="1.59" fill="#c66f82" stroke="#a82240" stroke-width="1.1"/>
<text x="554.5" y="317.0" font-size="12.8" text-anchor="start" textLength="32.4" lengthAdjust="spacingAndGlyphs">Cell21</text>
</svg>
</body></html>
